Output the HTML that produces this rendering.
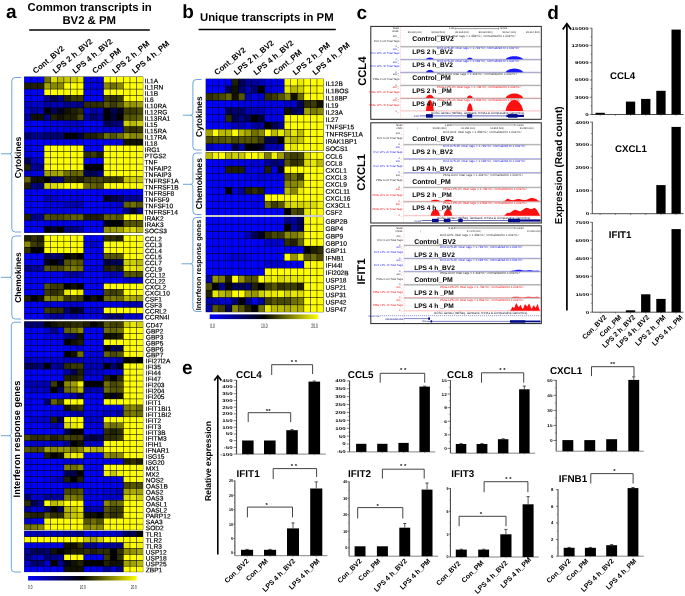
<!DOCTYPE html>
<html><head><meta charset="utf-8"><title>Figure</title><style>html,body{margin:0;padding:0;background:#fff}svg{display:block;filter:blur(0.4px)}</style></head><body>
<svg width="685" height="596" viewBox="0 0 685 596" text-rendering="geometricPrecision" font-family='"Liberation Sans", Arial, sans-serif'>
<rect x="0.00" y="0.00" width="685.00" height="596.00" fill="#fff"/>
<text x="5.90" y="18.40" font-size="19" font-weight="bold" text-anchor="start" fill="#000">a</text>
<text x="89.70" y="11.30" font-size="11.35" font-weight="bold" text-anchor="middle" fill="#000">Common transcripts in</text>
<text x="89.20" y="24.30" font-size="11.35" font-weight="bold" text-anchor="middle" fill="#000">BV2 &amp; PM</text>
<line x1="29.20" y1="30.00" x2="149.80" y2="30.00" stroke="#000" stroke-width="1.4"/>
<text x="35.62" y="74.00" font-size="8" font-weight="bold" text-anchor="start" fill="#000" transform="rotate(-40 35.62 74.00)">Cont_BV2</text>
<text x="55.45" y="74.00" font-size="8" font-weight="bold" text-anchor="start" fill="#000" transform="rotate(-40 55.45 74.00)">LPS  2 h_BV2</text>
<text x="75.28" y="74.00" font-size="8" font-weight="bold" text-anchor="start" fill="#000" transform="rotate(-40 75.28 74.00)">LPS 4 h_BV2</text>
<text x="95.12" y="74.00" font-size="8" font-weight="bold" text-anchor="start" fill="#000" transform="rotate(-40 95.12 74.00)">Cont_PM</text>
<text x="114.95" y="74.00" font-size="8" font-weight="bold" text-anchor="start" fill="#000" transform="rotate(-40 114.95 74.00)">LPS 2 h_PM</text>
<text x="134.78" y="74.00" font-size="8" font-weight="bold" text-anchor="start" fill="#000" transform="rotate(-40 134.78 74.00)">LPS 4 h_PM</text>
<rect x="24.20" y="76.60" width="119.00" height="156.20" fill="#000"/>
<rect x="24.45" y="76.85" width="6.11" height="5.75" fill="#0000ff"/>
<rect x="31.06" y="76.85" width="6.11" height="5.75" fill="#0000ff"/>
<rect x="37.67" y="76.85" width="6.11" height="5.75" fill="#0000ff"/>
<rect x="44.28" y="76.85" width="6.11" height="5.75" fill="#707000"/>
<rect x="50.89" y="76.85" width="6.11" height="5.75" fill="#dcdc00"/>
<rect x="57.51" y="76.85" width="6.11" height="5.75" fill="#b9b900"/>
<rect x="64.12" y="76.85" width="6.11" height="5.75" fill="#c5c500"/>
<rect x="70.73" y="76.85" width="6.11" height="5.75" fill="#d1d100"/>
<rect x="77.34" y="76.85" width="6.11" height="5.75" fill="#e8e800"/>
<rect x="83.95" y="76.85" width="6.11" height="5.75" fill="#0000e8"/>
<rect x="90.56" y="76.85" width="6.11" height="5.75" fill="#0000e8"/>
<rect x="97.17" y="76.85" width="6.11" height="5.75" fill="#0000e8"/>
<rect x="103.78" y="76.85" width="6.11" height="5.75" fill="#ffff00"/>
<rect x="110.39" y="76.85" width="6.11" height="5.75" fill="#ffff00"/>
<rect x="117.01" y="76.85" width="6.11" height="5.75" fill="#ffff00"/>
<rect x="123.62" y="76.85" width="6.11" height="5.75" fill="#ffff00"/>
<rect x="130.23" y="76.85" width="6.11" height="5.75" fill="#ffff00"/>
<rect x="136.84" y="76.85" width="6.11" height="5.75" fill="#ffff00"/>
<text x="144.60" y="83.30" font-size="6.6" text-anchor="start" fill="#000" transform="rotate(0.05 144.60 83.30)" stroke="#000" stroke-width="0.18">IL1A</text>
<rect x="24.45" y="83.10" width="6.11" height="5.75" fill="#202000"/>
<rect x="31.06" y="83.10" width="6.11" height="5.75" fill="#202000"/>
<rect x="37.67" y="83.10" width="6.11" height="5.75" fill="#202000"/>
<rect x="44.28" y="83.10" width="6.11" height="5.75" fill="#a1a100"/>
<rect x="50.89" y="83.10" width="6.11" height="5.75" fill="#898900"/>
<rect x="57.51" y="83.10" width="6.11" height="5.75" fill="#898900"/>
<rect x="64.12" y="83.10" width="6.11" height="5.75" fill="#ffff00"/>
<rect x="70.73" y="83.10" width="6.11" height="5.75" fill="#ffff00"/>
<rect x="77.34" y="83.10" width="6.11" height="5.75" fill="#ffff00"/>
<rect x="83.95" y="83.10" width="6.11" height="5.75" fill="#0000e8"/>
<rect x="90.56" y="83.10" width="6.11" height="5.75" fill="#0000e8"/>
<rect x="97.17" y="83.10" width="6.11" height="5.75" fill="#0000e8"/>
<rect x="103.78" y="83.10" width="6.11" height="5.75" fill="#898900"/>
<rect x="110.39" y="83.10" width="6.11" height="5.75" fill="#707000"/>
<rect x="117.01" y="83.10" width="6.11" height="5.75" fill="#898900"/>
<rect x="123.62" y="83.10" width="6.11" height="5.75" fill="#ffff00"/>
<rect x="130.23" y="83.10" width="6.11" height="5.75" fill="#ffff00"/>
<rect x="136.84" y="83.10" width="6.11" height="5.75" fill="#ffff00"/>
<text x="144.60" y="89.55" font-size="6.6" text-anchor="start" fill="#000" transform="rotate(0.05 144.60 89.55)" stroke="#000" stroke-width="0.18">IL1RN</text>
<rect x="24.45" y="89.35" width="6.11" height="5.75" fill="#0000ff"/>
<rect x="31.06" y="89.35" width="6.11" height="5.75" fill="#0000ff"/>
<rect x="37.67" y="89.35" width="6.11" height="5.75" fill="#0000ff"/>
<rect x="44.28" y="89.35" width="6.11" height="5.75" fill="#ffff00"/>
<rect x="50.89" y="89.35" width="6.11" height="5.75" fill="#ffff00"/>
<rect x="57.51" y="89.35" width="6.11" height="5.75" fill="#ffff00"/>
<rect x="64.12" y="89.35" width="6.11" height="5.75" fill="#ffff00"/>
<rect x="70.73" y="89.35" width="6.11" height="5.75" fill="#ffff00"/>
<rect x="77.34" y="89.35" width="6.11" height="5.75" fill="#ffff00"/>
<rect x="83.95" y="89.35" width="6.11" height="5.75" fill="#0000ff"/>
<rect x="90.56" y="89.35" width="6.11" height="5.75" fill="#0000ff"/>
<rect x="97.17" y="89.35" width="6.11" height="5.75" fill="#0000ff"/>
<rect x="103.78" y="89.35" width="6.11" height="5.75" fill="#ffff00"/>
<rect x="110.39" y="89.35" width="6.11" height="5.75" fill="#ffff00"/>
<rect x="117.01" y="89.35" width="6.11" height="5.75" fill="#ffff00"/>
<rect x="123.62" y="89.35" width="6.11" height="5.75" fill="#ffff00"/>
<rect x="130.23" y="89.35" width="6.11" height="5.75" fill="#ffff00"/>
<rect x="136.84" y="89.35" width="6.11" height="5.75" fill="#ffff00"/>
<text x="144.60" y="95.80" font-size="6.6" text-anchor="start" fill="#000" transform="rotate(0.05 144.60 95.80)" stroke="#000" stroke-width="0.18">IL1B</text>
<rect x="24.45" y="95.59" width="6.11" height="5.75" fill="#0000ff"/>
<rect x="31.06" y="95.59" width="6.11" height="5.75" fill="#0000ff"/>
<rect x="37.67" y="95.59" width="6.11" height="5.75" fill="#0000ff"/>
<rect x="44.28" y="95.59" width="6.11" height="5.75" fill="#000089"/>
<rect x="50.89" y="95.59" width="6.11" height="5.75" fill="#000056"/>
<rect x="57.51" y="95.59" width="6.11" height="5.75" fill="#000089"/>
<rect x="64.12" y="95.59" width="6.11" height="5.75" fill="#202000"/>
<rect x="70.73" y="95.59" width="6.11" height="5.75" fill="#3c3c00"/>
<rect x="77.34" y="95.59" width="6.11" height="5.75" fill="#3c3c00"/>
<rect x="83.95" y="95.59" width="6.11" height="5.75" fill="#0000ff"/>
<rect x="90.56" y="95.59" width="6.11" height="5.75" fill="#0000ff"/>
<rect x="97.17" y="95.59" width="6.11" height="5.75" fill="#0000ff"/>
<rect x="103.78" y="95.59" width="6.11" height="5.75" fill="#3c3c00"/>
<rect x="110.39" y="95.59" width="6.11" height="5.75" fill="#2e2e00"/>
<rect x="117.01" y="95.59" width="6.11" height="5.75" fill="#3c3c00"/>
<rect x="123.62" y="95.59" width="6.11" height="5.75" fill="#ffff00"/>
<rect x="130.23" y="95.59" width="6.11" height="5.75" fill="#ffff00"/>
<rect x="136.84" y="95.59" width="6.11" height="5.75" fill="#ffff00"/>
<text x="144.60" y="102.04" font-size="6.6" text-anchor="start" fill="#000" transform="rotate(0.05 144.60 102.04)" stroke="#000" stroke-width="0.18">IL6</text>
<rect x="24.45" y="101.84" width="6.11" height="5.75" fill="#0000d1"/>
<rect x="31.06" y="101.84" width="6.11" height="5.75" fill="#0000d1"/>
<rect x="37.67" y="101.84" width="6.11" height="5.75" fill="#0000d1"/>
<rect x="44.28" y="101.84" width="6.11" height="5.75" fill="#0000a1"/>
<rect x="50.89" y="101.84" width="6.11" height="5.75" fill="#0000b9"/>
<rect x="57.51" y="101.84" width="6.11" height="5.75" fill="#0000b9"/>
<rect x="64.12" y="101.84" width="6.11" height="5.75" fill="#000089"/>
<rect x="70.73" y="101.84" width="6.11" height="5.75" fill="#0000a1"/>
<rect x="77.34" y="101.84" width="6.11" height="5.75" fill="#000089"/>
<rect x="83.95" y="101.84" width="6.11" height="5.75" fill="#2e2e00"/>
<rect x="90.56" y="101.84" width="6.11" height="5.75" fill="#2e2e00"/>
<rect x="97.17" y="101.84" width="6.11" height="5.75" fill="#2e2e00"/>
<rect x="103.78" y="101.84" width="6.11" height="5.75" fill="#565600"/>
<rect x="110.39" y="101.84" width="6.11" height="5.75" fill="#3c3c00"/>
<rect x="117.01" y="101.84" width="6.11" height="5.75" fill="#565600"/>
<rect x="123.62" y="101.84" width="6.11" height="5.75" fill="#a1a100"/>
<rect x="130.23" y="101.84" width="6.11" height="5.75" fill="#959500"/>
<rect x="136.84" y="101.84" width="6.11" height="5.75" fill="#a1a100"/>
<text x="144.60" y="108.29" font-size="6.6" text-anchor="start" fill="#000" transform="rotate(0.05 144.60 108.29)" stroke="#000" stroke-width="0.18">IL10RA</text>
<rect x="24.45" y="108.09" width="6.11" height="5.75" fill="#0000d1"/>
<rect x="31.06" y="108.09" width="6.11" height="5.75" fill="#0000a1"/>
<rect x="37.67" y="108.09" width="6.11" height="5.75" fill="#0000b9"/>
<rect x="44.28" y="108.09" width="6.11" height="5.75" fill="#000000"/>
<rect x="50.89" y="108.09" width="6.11" height="5.75" fill="#000056"/>
<rect x="57.51" y="108.09" width="6.11" height="5.75" fill="#000020"/>
<rect x="64.12" y="108.09" width="6.11" height="5.75" fill="#111100"/>
<rect x="70.73" y="108.09" width="6.11" height="5.75" fill="#202000"/>
<rect x="77.34" y="108.09" width="6.11" height="5.75" fill="#2e2e00"/>
<rect x="83.95" y="108.09" width="6.11" height="5.75" fill="#0000d1"/>
<rect x="90.56" y="108.09" width="6.11" height="5.75" fill="#0000a1"/>
<rect x="97.17" y="108.09" width="6.11" height="5.75" fill="#0000b9"/>
<rect x="103.78" y="108.09" width="6.11" height="5.75" fill="#000000"/>
<rect x="110.39" y="108.09" width="6.11" height="5.75" fill="#000056"/>
<rect x="117.01" y="108.09" width="6.11" height="5.75" fill="#000020"/>
<rect x="123.62" y="108.09" width="6.11" height="5.75" fill="#3c3c00"/>
<rect x="130.23" y="108.09" width="6.11" height="5.75" fill="#3c3c00"/>
<rect x="136.84" y="108.09" width="6.11" height="5.75" fill="#494900"/>
<text x="144.60" y="114.54" font-size="6.6" text-anchor="start" fill="#000" transform="rotate(0.05 144.60 114.54)" stroke="#000" stroke-width="0.18">IL12RG</text>
<rect x="24.45" y="114.34" width="6.11" height="5.75" fill="#0000a1"/>
<rect x="31.06" y="114.34" width="6.11" height="5.75" fill="#111100"/>
<rect x="37.67" y="114.34" width="6.11" height="5.75" fill="#111100"/>
<rect x="44.28" y="114.34" width="6.11" height="5.75" fill="#000089"/>
<rect x="50.89" y="114.34" width="6.11" height="5.75" fill="#202000"/>
<rect x="57.51" y="114.34" width="6.11" height="5.75" fill="#111100"/>
<rect x="64.12" y="114.34" width="6.11" height="5.75" fill="#202000"/>
<rect x="70.73" y="114.34" width="6.11" height="5.75" fill="#202000"/>
<rect x="77.34" y="114.34" width="6.11" height="5.75" fill="#494900"/>
<rect x="83.95" y="114.34" width="6.11" height="5.75" fill="#0000a1"/>
<rect x="90.56" y="114.34" width="6.11" height="5.75" fill="#000070"/>
<rect x="97.17" y="114.34" width="6.11" height="5.75" fill="#0000a1"/>
<rect x="103.78" y="114.34" width="6.11" height="5.75" fill="#000000"/>
<rect x="110.39" y="114.34" width="6.11" height="5.75" fill="#00003c"/>
<rect x="117.01" y="114.34" width="6.11" height="5.75" fill="#000000"/>
<rect x="123.62" y="114.34" width="6.11" height="5.75" fill="#565600"/>
<rect x="130.23" y="114.34" width="6.11" height="5.75" fill="#565600"/>
<rect x="136.84" y="114.34" width="6.11" height="5.75" fill="#636300"/>
<text x="144.60" y="120.79" font-size="6.6" text-anchor="start" fill="#000" transform="rotate(0.05 144.60 120.79)" stroke="#000" stroke-width="0.18">IL13RA1</text>
<rect x="24.45" y="120.59" width="6.11" height="5.75" fill="#0000ff"/>
<rect x="31.06" y="120.59" width="6.11" height="5.75" fill="#0000ff"/>
<rect x="37.67" y="120.59" width="6.11" height="5.75" fill="#0000ff"/>
<rect x="44.28" y="120.59" width="6.11" height="5.75" fill="#0000e8"/>
<rect x="50.89" y="120.59" width="6.11" height="5.75" fill="#0000e8"/>
<rect x="57.51" y="120.59" width="6.11" height="5.75" fill="#0000e8"/>
<rect x="64.12" y="120.59" width="6.11" height="5.75" fill="#0000d1"/>
<rect x="70.73" y="120.59" width="6.11" height="5.75" fill="#0000d1"/>
<rect x="77.34" y="120.59" width="6.11" height="5.75" fill="#0000d1"/>
<rect x="83.95" y="120.59" width="6.11" height="5.75" fill="#0000ff"/>
<rect x="90.56" y="120.59" width="6.11" height="5.75" fill="#0000ff"/>
<rect x="97.17" y="120.59" width="6.11" height="5.75" fill="#0000ff"/>
<rect x="103.78" y="120.59" width="6.11" height="5.75" fill="#000056"/>
<rect x="110.39" y="120.59" width="6.11" height="5.75" fill="#000070"/>
<rect x="117.01" y="120.59" width="6.11" height="5.75" fill="#000089"/>
<rect x="123.62" y="120.59" width="6.11" height="5.75" fill="#d1d100"/>
<rect x="130.23" y="120.59" width="6.11" height="5.75" fill="#b9b900"/>
<rect x="136.84" y="120.59" width="6.11" height="5.75" fill="#d1d100"/>
<text x="144.60" y="127.04" font-size="6.6" text-anchor="start" fill="#000" transform="rotate(0.05 144.60 127.04)" stroke="#000" stroke-width="0.18">IL15</text>
<rect x="24.45" y="126.83" width="6.11" height="5.75" fill="#0000ff"/>
<rect x="31.06" y="126.83" width="6.11" height="5.75" fill="#0000ff"/>
<rect x="37.67" y="126.83" width="6.11" height="5.75" fill="#0000ff"/>
<rect x="44.28" y="126.83" width="6.11" height="5.75" fill="#0000e8"/>
<rect x="50.89" y="126.83" width="6.11" height="5.75" fill="#0000e8"/>
<rect x="57.51" y="126.83" width="6.11" height="5.75" fill="#0000e8"/>
<rect x="64.12" y="126.83" width="6.11" height="5.75" fill="#0000dc"/>
<rect x="70.73" y="126.83" width="6.11" height="5.75" fill="#0000dc"/>
<rect x="77.34" y="126.83" width="6.11" height="5.75" fill="#0000dc"/>
<rect x="83.95" y="126.83" width="6.11" height="5.75" fill="#0000e8"/>
<rect x="90.56" y="126.83" width="6.11" height="5.75" fill="#0000e8"/>
<rect x="97.17" y="126.83" width="6.11" height="5.75" fill="#0000e8"/>
<rect x="103.78" y="126.83" width="6.11" height="5.75" fill="#0000d1"/>
<rect x="110.39" y="126.83" width="6.11" height="5.75" fill="#0000d1"/>
<rect x="117.01" y="126.83" width="6.11" height="5.75" fill="#0000d1"/>
<rect x="123.62" y="126.83" width="6.11" height="5.75" fill="#3c3c00"/>
<rect x="130.23" y="126.83" width="6.11" height="5.75" fill="#2e2e00"/>
<rect x="136.84" y="126.83" width="6.11" height="5.75" fill="#3c3c00"/>
<text x="144.60" y="133.28" font-size="6.6" text-anchor="start" fill="#000" transform="rotate(0.05 144.60 133.28)" stroke="#000" stroke-width="0.18">IL15RA</text>
<rect x="24.45" y="133.08" width="6.11" height="5.75" fill="#000070"/>
<rect x="31.06" y="133.08" width="6.11" height="5.75" fill="#000089"/>
<rect x="37.67" y="133.08" width="6.11" height="5.75" fill="#000089"/>
<rect x="44.28" y="133.08" width="6.11" height="5.75" fill="#000070"/>
<rect x="50.89" y="133.08" width="6.11" height="5.75" fill="#000070"/>
<rect x="57.51" y="133.08" width="6.11" height="5.75" fill="#000070"/>
<rect x="64.12" y="133.08" width="6.11" height="5.75" fill="#000000"/>
<rect x="70.73" y="133.08" width="6.11" height="5.75" fill="#000000"/>
<rect x="77.34" y="133.08" width="6.11" height="5.75" fill="#00003c"/>
<rect x="83.95" y="133.08" width="6.11" height="5.75" fill="#202000"/>
<rect x="90.56" y="133.08" width="6.11" height="5.75" fill="#202000"/>
<rect x="97.17" y="133.08" width="6.11" height="5.75" fill="#2e2e00"/>
<rect x="103.78" y="133.08" width="6.11" height="5.75" fill="#707000"/>
<rect x="110.39" y="133.08" width="6.11" height="5.75" fill="#565600"/>
<rect x="117.01" y="133.08" width="6.11" height="5.75" fill="#707000"/>
<rect x="123.62" y="133.08" width="6.11" height="5.75" fill="#a1a100"/>
<rect x="130.23" y="133.08" width="6.11" height="5.75" fill="#898900"/>
<rect x="136.84" y="133.08" width="6.11" height="5.75" fill="#898900"/>
<text x="144.60" y="139.53" font-size="6.6" text-anchor="start" fill="#000" transform="rotate(0.05 144.60 139.53)" stroke="#000" stroke-width="0.18">IL17RA</text>
<rect x="24.45" y="139.33" width="6.11" height="5.75" fill="#0000ff"/>
<rect x="31.06" y="139.33" width="6.11" height="5.75" fill="#0000ff"/>
<rect x="37.67" y="139.33" width="6.11" height="5.75" fill="#0000ff"/>
<rect x="44.28" y="139.33" width="6.11" height="5.75" fill="#0000f3"/>
<rect x="50.89" y="139.33" width="6.11" height="5.75" fill="#0000f3"/>
<rect x="57.51" y="139.33" width="6.11" height="5.75" fill="#0000f3"/>
<rect x="64.12" y="139.33" width="6.11" height="5.75" fill="#0000e8"/>
<rect x="70.73" y="139.33" width="6.11" height="5.75" fill="#0000e8"/>
<rect x="77.34" y="139.33" width="6.11" height="5.75" fill="#0000e8"/>
<rect x="83.95" y="139.33" width="6.11" height="5.75" fill="#0000ff"/>
<rect x="90.56" y="139.33" width="6.11" height="5.75" fill="#0000ff"/>
<rect x="97.17" y="139.33" width="6.11" height="5.75" fill="#0000ff"/>
<rect x="103.78" y="139.33" width="6.11" height="5.75" fill="#0000e8"/>
<rect x="110.39" y="139.33" width="6.11" height="5.75" fill="#0000e8"/>
<rect x="117.01" y="139.33" width="6.11" height="5.75" fill="#0000e8"/>
<rect x="123.62" y="139.33" width="6.11" height="5.75" fill="#111100"/>
<rect x="130.23" y="139.33" width="6.11" height="5.75" fill="#111100"/>
<rect x="136.84" y="139.33" width="6.11" height="5.75" fill="#111100"/>
<text x="144.60" y="145.78" font-size="6.6" text-anchor="start" fill="#000" transform="rotate(0.05 144.60 145.78)" stroke="#000" stroke-width="0.18">IL18</text>
<rect x="24.45" y="145.58" width="6.11" height="5.75" fill="#0000e8"/>
<rect x="31.06" y="145.58" width="6.11" height="5.75" fill="#0000ff"/>
<rect x="37.67" y="145.58" width="6.11" height="5.75" fill="#0000ff"/>
<rect x="44.28" y="145.58" width="6.11" height="5.75" fill="#ffff00"/>
<rect x="50.89" y="145.58" width="6.11" height="5.75" fill="#ffff00"/>
<rect x="57.51" y="145.58" width="6.11" height="5.75" fill="#ffff00"/>
<rect x="64.12" y="145.58" width="6.11" height="5.75" fill="#ffff00"/>
<rect x="70.73" y="145.58" width="6.11" height="5.75" fill="#ffff00"/>
<rect x="77.34" y="145.58" width="6.11" height="5.75" fill="#ffff00"/>
<rect x="83.95" y="145.58" width="6.11" height="5.75" fill="#0000ff"/>
<rect x="90.56" y="145.58" width="6.11" height="5.75" fill="#0000ff"/>
<rect x="97.17" y="145.58" width="6.11" height="5.75" fill="#0000ff"/>
<rect x="103.78" y="145.58" width="6.11" height="5.75" fill="#ffff00"/>
<rect x="110.39" y="145.58" width="6.11" height="5.75" fill="#ffff00"/>
<rect x="117.01" y="145.58" width="6.11" height="5.75" fill="#ffff00"/>
<rect x="123.62" y="145.58" width="6.11" height="5.75" fill="#ffff00"/>
<rect x="130.23" y="145.58" width="6.11" height="5.75" fill="#ffff00"/>
<rect x="136.84" y="145.58" width="6.11" height="5.75" fill="#ffff00"/>
<text x="144.60" y="152.03" font-size="6.6" text-anchor="start" fill="#000" transform="rotate(0.05 144.60 152.03)" stroke="#000" stroke-width="0.18">IRG1</text>
<rect x="24.45" y="151.83" width="6.11" height="5.75" fill="#0000e8"/>
<rect x="31.06" y="151.83" width="6.11" height="5.75" fill="#0000ff"/>
<rect x="37.67" y="151.83" width="6.11" height="5.75" fill="#0000ff"/>
<rect x="44.28" y="151.83" width="6.11" height="5.75" fill="#ffff00"/>
<rect x="50.89" y="151.83" width="6.11" height="5.75" fill="#ffff00"/>
<rect x="57.51" y="151.83" width="6.11" height="5.75" fill="#ffff00"/>
<rect x="64.12" y="151.83" width="6.11" height="5.75" fill="#ffff00"/>
<rect x="70.73" y="151.83" width="6.11" height="5.75" fill="#ffff00"/>
<rect x="77.34" y="151.83" width="6.11" height="5.75" fill="#ffff00"/>
<rect x="83.95" y="151.83" width="6.11" height="5.75" fill="#2e2e00"/>
<rect x="90.56" y="151.83" width="6.11" height="5.75" fill="#3c3c00"/>
<rect x="97.17" y="151.83" width="6.11" height="5.75" fill="#202000"/>
<rect x="103.78" y="151.83" width="6.11" height="5.75" fill="#ffff00"/>
<rect x="110.39" y="151.83" width="6.11" height="5.75" fill="#ffff00"/>
<rect x="117.01" y="151.83" width="6.11" height="5.75" fill="#ffff00"/>
<rect x="123.62" y="151.83" width="6.11" height="5.75" fill="#ffff00"/>
<rect x="130.23" y="151.83" width="6.11" height="5.75" fill="#ffff00"/>
<rect x="136.84" y="151.83" width="6.11" height="5.75" fill="#ffff00"/>
<text x="144.60" y="158.28" font-size="6.6" text-anchor="start" fill="#000" transform="rotate(0.05 144.60 158.28)" stroke="#000" stroke-width="0.18">PTGS2</text>
<rect x="24.45" y="158.07" width="6.11" height="5.75" fill="#000056"/>
<rect x="31.06" y="158.07" width="6.11" height="5.75" fill="#0000b9"/>
<rect x="37.67" y="158.07" width="6.11" height="5.75" fill="#0000d1"/>
<rect x="44.28" y="158.07" width="6.11" height="5.75" fill="#ffff00"/>
<rect x="50.89" y="158.07" width="6.11" height="5.75" fill="#ffff00"/>
<rect x="57.51" y="158.07" width="6.11" height="5.75" fill="#ffff00"/>
<rect x="64.12" y="158.07" width="6.11" height="5.75" fill="#ffff00"/>
<rect x="70.73" y="158.07" width="6.11" height="5.75" fill="#ffff00"/>
<rect x="77.34" y="158.07" width="6.11" height="5.75" fill="#ffff00"/>
<rect x="83.95" y="158.07" width="6.11" height="5.75" fill="#0000ff"/>
<rect x="90.56" y="158.07" width="6.11" height="5.75" fill="#0000ff"/>
<rect x="97.17" y="158.07" width="6.11" height="5.75" fill="#0000ff"/>
<rect x="103.78" y="158.07" width="6.11" height="5.75" fill="#ffff00"/>
<rect x="110.39" y="158.07" width="6.11" height="5.75" fill="#ffff00"/>
<rect x="117.01" y="158.07" width="6.11" height="5.75" fill="#ffff00"/>
<rect x="123.62" y="158.07" width="6.11" height="5.75" fill="#ffff00"/>
<rect x="130.23" y="158.07" width="6.11" height="5.75" fill="#ffff00"/>
<rect x="136.84" y="158.07" width="6.11" height="5.75" fill="#ffff00"/>
<text x="144.60" y="164.52" font-size="6.6" text-anchor="start" fill="#000" transform="rotate(0.05 144.60 164.52)" stroke="#000" stroke-width="0.18">TNF</text>
<rect x="24.45" y="164.32" width="6.11" height="5.75" fill="#202000"/>
<rect x="31.06" y="164.32" width="6.11" height="5.75" fill="#0000a1"/>
<rect x="37.67" y="164.32" width="6.11" height="5.75" fill="#000089"/>
<rect x="44.28" y="164.32" width="6.11" height="5.75" fill="#ffff00"/>
<rect x="50.89" y="164.32" width="6.11" height="5.75" fill="#ffff00"/>
<rect x="57.51" y="164.32" width="6.11" height="5.75" fill="#ffff00"/>
<rect x="64.12" y="164.32" width="6.11" height="5.75" fill="#ffff00"/>
<rect x="70.73" y="164.32" width="6.11" height="5.75" fill="#ffff00"/>
<rect x="77.34" y="164.32" width="6.11" height="5.75" fill="#ffff00"/>
<rect x="83.95" y="164.32" width="6.11" height="5.75" fill="#000000"/>
<rect x="90.56" y="164.32" width="6.11" height="5.75" fill="#000011"/>
<rect x="97.17" y="164.32" width="6.11" height="5.75" fill="#000000"/>
<rect x="103.78" y="164.32" width="6.11" height="5.75" fill="#ffff00"/>
<rect x="110.39" y="164.32" width="6.11" height="5.75" fill="#ffff00"/>
<rect x="117.01" y="164.32" width="6.11" height="5.75" fill="#ffff00"/>
<rect x="123.62" y="164.32" width="6.11" height="5.75" fill="#ffff00"/>
<rect x="130.23" y="164.32" width="6.11" height="5.75" fill="#ffff00"/>
<rect x="136.84" y="164.32" width="6.11" height="5.75" fill="#ffff00"/>
<text x="144.60" y="170.77" font-size="6.6" text-anchor="start" fill="#000" transform="rotate(0.05 144.60 170.77)" stroke="#000" stroke-width="0.18">TNFAIP2</text>
<rect x="24.45" y="170.57" width="6.11" height="5.75" fill="#0000d1"/>
<rect x="31.06" y="170.57" width="6.11" height="5.75" fill="#0000e8"/>
<rect x="37.67" y="170.57" width="6.11" height="5.75" fill="#0000e8"/>
<rect x="44.28" y="170.57" width="6.11" height="5.75" fill="#a1a100"/>
<rect x="50.89" y="170.57" width="6.11" height="5.75" fill="#a1a100"/>
<rect x="57.51" y="170.57" width="6.11" height="5.75" fill="#adad00"/>
<rect x="64.12" y="170.57" width="6.11" height="5.75" fill="#707000"/>
<rect x="70.73" y="170.57" width="6.11" height="5.75" fill="#636300"/>
<rect x="77.34" y="170.57" width="6.11" height="5.75" fill="#707000"/>
<rect x="83.95" y="170.57" width="6.11" height="5.75" fill="#000056"/>
<rect x="90.56" y="170.57" width="6.11" height="5.75" fill="#000056"/>
<rect x="97.17" y="170.57" width="6.11" height="5.75" fill="#000089"/>
<rect x="103.78" y="170.57" width="6.11" height="5.75" fill="#ffff00"/>
<rect x="110.39" y="170.57" width="6.11" height="5.75" fill="#ffff00"/>
<rect x="117.01" y="170.57" width="6.11" height="5.75" fill="#ffff00"/>
<rect x="123.62" y="170.57" width="6.11" height="5.75" fill="#ffff00"/>
<rect x="130.23" y="170.57" width="6.11" height="5.75" fill="#ffff00"/>
<rect x="136.84" y="170.57" width="6.11" height="5.75" fill="#ffff00"/>
<text x="144.60" y="177.02" font-size="6.6" text-anchor="start" fill="#000" transform="rotate(0.05 144.60 177.02)" stroke="#000" stroke-width="0.18">TNFAIP3</text>
<rect x="24.45" y="176.82" width="6.11" height="5.75" fill="#636300"/>
<rect x="31.06" y="176.82" width="6.11" height="5.75" fill="#111100"/>
<rect x="37.67" y="176.82" width="6.11" height="5.75" fill="#111100"/>
<rect x="44.28" y="176.82" width="6.11" height="5.75" fill="#000000"/>
<rect x="50.89" y="176.82" width="6.11" height="5.75" fill="#000070"/>
<rect x="57.51" y="176.82" width="6.11" height="5.75" fill="#000070"/>
<rect x="64.12" y="176.82" width="6.11" height="5.75" fill="#2e2e00"/>
<rect x="70.73" y="176.82" width="6.11" height="5.75" fill="#2e2e00"/>
<rect x="77.34" y="176.82" width="6.11" height="5.75" fill="#202000"/>
<rect x="83.95" y="176.82" width="6.11" height="5.75" fill="#3c3c00"/>
<rect x="90.56" y="176.82" width="6.11" height="5.75" fill="#494900"/>
<rect x="97.17" y="176.82" width="6.11" height="5.75" fill="#494900"/>
<rect x="103.78" y="176.82" width="6.11" height="5.75" fill="#3c3c00"/>
<rect x="110.39" y="176.82" width="6.11" height="5.75" fill="#3c3c00"/>
<rect x="117.01" y="176.82" width="6.11" height="5.75" fill="#3c3c00"/>
<rect x="123.62" y="176.82" width="6.11" height="5.75" fill="#c5c500"/>
<rect x="130.23" y="176.82" width="6.11" height="5.75" fill="#d1d100"/>
<rect x="136.84" y="176.82" width="6.11" height="5.75" fill="#c5c500"/>
<text x="144.60" y="183.27" font-size="6.6" text-anchor="start" fill="#000" transform="rotate(0.05 144.60 183.27)" stroke="#000" stroke-width="0.18">TNFRSF1A</text>
<rect x="24.45" y="183.07" width="6.11" height="5.75" fill="#202000"/>
<rect x="31.06" y="183.07" width="6.11" height="5.75" fill="#000089"/>
<rect x="37.67" y="183.07" width="6.11" height="5.75" fill="#000070"/>
<rect x="44.28" y="183.07" width="6.11" height="5.75" fill="#d1d100"/>
<rect x="50.89" y="183.07" width="6.11" height="5.75" fill="#dcdc00"/>
<rect x="57.51" y="183.07" width="6.11" height="5.75" fill="#e8e800"/>
<rect x="64.12" y="183.07" width="6.11" height="5.75" fill="#ffff00"/>
<rect x="70.73" y="183.07" width="6.11" height="5.75" fill="#ffff00"/>
<rect x="77.34" y="183.07" width="6.11" height="5.75" fill="#ffff00"/>
<rect x="83.95" y="183.07" width="6.11" height="5.75" fill="#707000"/>
<rect x="90.56" y="183.07" width="6.11" height="5.75" fill="#636300"/>
<rect x="97.17" y="183.07" width="6.11" height="5.75" fill="#565600"/>
<rect x="103.78" y="183.07" width="6.11" height="5.75" fill="#ffff00"/>
<rect x="110.39" y="183.07" width="6.11" height="5.75" fill="#ffff00"/>
<rect x="117.01" y="183.07" width="6.11" height="5.75" fill="#ffff00"/>
<rect x="123.62" y="183.07" width="6.11" height="5.75" fill="#ffff00"/>
<rect x="130.23" y="183.07" width="6.11" height="5.75" fill="#ffff00"/>
<rect x="136.84" y="183.07" width="6.11" height="5.75" fill="#ffff00"/>
<text x="144.60" y="189.52" font-size="6.6" text-anchor="start" fill="#000" transform="rotate(0.05 144.60 189.52)" stroke="#000" stroke-width="0.18">TNFRSF1B</text>
<rect x="24.45" y="189.31" width="6.11" height="5.75" fill="#0000ff"/>
<rect x="31.06" y="189.31" width="6.11" height="5.75" fill="#0000ff"/>
<rect x="37.67" y="189.31" width="6.11" height="5.75" fill="#0000ff"/>
<rect x="44.28" y="189.31" width="6.11" height="5.75" fill="#0000ff"/>
<rect x="50.89" y="189.31" width="6.11" height="5.75" fill="#0000ff"/>
<rect x="57.51" y="189.31" width="6.11" height="5.75" fill="#0000ff"/>
<rect x="64.12" y="189.31" width="6.11" height="5.75" fill="#0000ff"/>
<rect x="70.73" y="189.31" width="6.11" height="5.75" fill="#0000ff"/>
<rect x="77.34" y="189.31" width="6.11" height="5.75" fill="#0000ff"/>
<rect x="83.95" y="189.31" width="6.11" height="5.75" fill="#0000ff"/>
<rect x="90.56" y="189.31" width="6.11" height="5.75" fill="#0000ff"/>
<rect x="97.17" y="189.31" width="6.11" height="5.75" fill="#0000ff"/>
<rect x="103.78" y="189.31" width="6.11" height="5.75" fill="#0000ff"/>
<rect x="110.39" y="189.31" width="6.11" height="5.75" fill="#0000ff"/>
<rect x="117.01" y="189.31" width="6.11" height="5.75" fill="#0000ff"/>
<rect x="123.62" y="189.31" width="6.11" height="5.75" fill="#0000ff"/>
<rect x="130.23" y="189.31" width="6.11" height="5.75" fill="#0000ff"/>
<rect x="136.84" y="189.31" width="6.11" height="5.75" fill="#0000ff"/>
<text x="144.60" y="195.76" font-size="6.6" text-anchor="start" fill="#000" transform="rotate(0.05 144.60 195.76)" stroke="#000" stroke-width="0.18">TNFRSF8</text>
<rect x="24.45" y="195.56" width="6.11" height="5.75" fill="#0000ff"/>
<rect x="31.06" y="195.56" width="6.11" height="5.75" fill="#0000ff"/>
<rect x="37.67" y="195.56" width="6.11" height="5.75" fill="#0000ff"/>
<rect x="44.28" y="195.56" width="6.11" height="5.75" fill="#0000b9"/>
<rect x="50.89" y="195.56" width="6.11" height="5.75" fill="#0000d1"/>
<rect x="57.51" y="195.56" width="6.11" height="5.75" fill="#0000e8"/>
<rect x="64.12" y="195.56" width="6.11" height="5.75" fill="#0000e8"/>
<rect x="70.73" y="195.56" width="6.11" height="5.75" fill="#0000e8"/>
<rect x="77.34" y="195.56" width="6.11" height="5.75" fill="#0000dc"/>
<rect x="83.95" y="195.56" width="6.11" height="5.75" fill="#0000ff"/>
<rect x="90.56" y="195.56" width="6.11" height="5.75" fill="#0000ff"/>
<rect x="97.17" y="195.56" width="6.11" height="5.75" fill="#0000ff"/>
<rect x="103.78" y="195.56" width="6.11" height="5.75" fill="#000020"/>
<rect x="110.39" y="195.56" width="6.11" height="5.75" fill="#000049"/>
<rect x="117.01" y="195.56" width="6.11" height="5.75" fill="#000063"/>
<rect x="123.62" y="195.56" width="6.11" height="5.75" fill="#0000a1"/>
<rect x="130.23" y="195.56" width="6.11" height="5.75" fill="#000095"/>
<rect x="136.84" y="195.56" width="6.11" height="5.75" fill="#0000a1"/>
<text x="144.60" y="202.01" font-size="6.6" text-anchor="start" fill="#000" transform="rotate(0.05 144.60 202.01)" stroke="#000" stroke-width="0.18">TNFSF9</text>
<rect x="24.45" y="201.81" width="6.11" height="5.75" fill="#0000ff"/>
<rect x="31.06" y="201.81" width="6.11" height="5.75" fill="#0000ff"/>
<rect x="37.67" y="201.81" width="6.11" height="5.75" fill="#0000ff"/>
<rect x="44.28" y="201.81" width="6.11" height="5.75" fill="#0000e8"/>
<rect x="50.89" y="201.81" width="6.11" height="5.75" fill="#0000e8"/>
<rect x="57.51" y="201.81" width="6.11" height="5.75" fill="#0000e8"/>
<rect x="64.12" y="201.81" width="6.11" height="5.75" fill="#0000c5"/>
<rect x="70.73" y="201.81" width="6.11" height="5.75" fill="#0000b9"/>
<rect x="77.34" y="201.81" width="6.11" height="5.75" fill="#0000b9"/>
<rect x="83.95" y="201.81" width="6.11" height="5.75" fill="#0000ff"/>
<rect x="90.56" y="201.81" width="6.11" height="5.75" fill="#0000ff"/>
<rect x="97.17" y="201.81" width="6.11" height="5.75" fill="#0000ff"/>
<rect x="103.78" y="201.81" width="6.11" height="5.75" fill="#0000e8"/>
<rect x="110.39" y="201.81" width="6.11" height="5.75" fill="#0000e8"/>
<rect x="117.01" y="201.81" width="6.11" height="5.75" fill="#0000d1"/>
<rect x="123.62" y="201.81" width="6.11" height="5.75" fill="#636300"/>
<rect x="130.23" y="201.81" width="6.11" height="5.75" fill="#707000"/>
<rect x="136.84" y="201.81" width="6.11" height="5.75" fill="#565600"/>
<text x="144.60" y="208.26" font-size="6.6" text-anchor="start" fill="#000" transform="rotate(0.05 144.60 208.26)" stroke="#000" stroke-width="0.18">TNFSF10</text>
<rect x="24.45" y="208.06" width="6.11" height="5.75" fill="#0000ff"/>
<rect x="31.06" y="208.06" width="6.11" height="5.75" fill="#0000ff"/>
<rect x="37.67" y="208.06" width="6.11" height="5.75" fill="#0000ff"/>
<rect x="44.28" y="208.06" width="6.11" height="5.75" fill="#0000e8"/>
<rect x="50.89" y="208.06" width="6.11" height="5.75" fill="#0000e8"/>
<rect x="57.51" y="208.06" width="6.11" height="5.75" fill="#0000e8"/>
<rect x="64.12" y="208.06" width="6.11" height="5.75" fill="#0000e8"/>
<rect x="70.73" y="208.06" width="6.11" height="5.75" fill="#0000e8"/>
<rect x="77.34" y="208.06" width="6.11" height="5.75" fill="#0000e8"/>
<rect x="83.95" y="208.06" width="6.11" height="5.75" fill="#0000ff"/>
<rect x="90.56" y="208.06" width="6.11" height="5.75" fill="#0000ff"/>
<rect x="97.17" y="208.06" width="6.11" height="5.75" fill="#0000ff"/>
<rect x="103.78" y="208.06" width="6.11" height="5.75" fill="#0000f3"/>
<rect x="110.39" y="208.06" width="6.11" height="5.75" fill="#0000f3"/>
<rect x="117.01" y="208.06" width="6.11" height="5.75" fill="#0000f3"/>
<rect x="123.62" y="208.06" width="6.11" height="5.75" fill="#000089"/>
<rect x="130.23" y="208.06" width="6.11" height="5.75" fill="#000020"/>
<rect x="136.84" y="208.06" width="6.11" height="5.75" fill="#000089"/>
<text x="144.60" y="214.51" font-size="6.6" text-anchor="start" fill="#000" transform="rotate(0.05 144.60 214.51)" stroke="#000" stroke-width="0.18">TNFRSF14</text>
<rect x="24.45" y="214.31" width="6.11" height="5.75" fill="#202000"/>
<rect x="31.06" y="214.31" width="6.11" height="5.75" fill="#000089"/>
<rect x="37.67" y="214.31" width="6.11" height="5.75" fill="#000089"/>
<rect x="44.28" y="214.31" width="6.11" height="5.75" fill="#565600"/>
<rect x="50.89" y="214.31" width="6.11" height="5.75" fill="#494900"/>
<rect x="57.51" y="214.31" width="6.11" height="5.75" fill="#494900"/>
<rect x="64.12" y="214.31" width="6.11" height="5.75" fill="#565600"/>
<rect x="70.73" y="214.31" width="6.11" height="5.75" fill="#636300"/>
<rect x="77.34" y="214.31" width="6.11" height="5.75" fill="#636300"/>
<rect x="83.95" y="214.31" width="6.11" height="5.75" fill="#202000"/>
<rect x="90.56" y="214.31" width="6.11" height="5.75" fill="#202000"/>
<rect x="97.17" y="214.31" width="6.11" height="5.75" fill="#202000"/>
<rect x="103.78" y="214.31" width="6.11" height="5.75" fill="#636300"/>
<rect x="110.39" y="214.31" width="6.11" height="5.75" fill="#636300"/>
<rect x="117.01" y="214.31" width="6.11" height="5.75" fill="#565600"/>
<rect x="123.62" y="214.31" width="6.11" height="5.75" fill="#ffff00"/>
<rect x="130.23" y="214.31" width="6.11" height="5.75" fill="#ffff00"/>
<rect x="136.84" y="214.31" width="6.11" height="5.75" fill="#ffff00"/>
<text x="144.60" y="220.76" font-size="6.6" text-anchor="start" fill="#000" transform="rotate(0.05 144.60 220.76)" stroke="#000" stroke-width="0.18">IRAK2</text>
<rect x="24.45" y="220.55" width="6.11" height="5.75" fill="#0000ff"/>
<rect x="31.06" y="220.55" width="6.11" height="5.75" fill="#0000ff"/>
<rect x="37.67" y="220.55" width="6.11" height="5.75" fill="#0000ff"/>
<rect x="44.28" y="220.55" width="6.11" height="5.75" fill="#0000e8"/>
<rect x="50.89" y="220.55" width="6.11" height="5.75" fill="#0000e8"/>
<rect x="57.51" y="220.55" width="6.11" height="5.75" fill="#0000e8"/>
<rect x="64.12" y="220.55" width="6.11" height="5.75" fill="#0000e8"/>
<rect x="70.73" y="220.55" width="6.11" height="5.75" fill="#0000f3"/>
<rect x="77.34" y="220.55" width="6.11" height="5.75" fill="#0000e8"/>
<rect x="83.95" y="220.55" width="6.11" height="5.75" fill="#0000ff"/>
<rect x="90.56" y="220.55" width="6.11" height="5.75" fill="#0000ff"/>
<rect x="97.17" y="220.55" width="6.11" height="5.75" fill="#0000ff"/>
<rect x="103.78" y="220.55" width="6.11" height="5.75" fill="#000020"/>
<rect x="110.39" y="220.55" width="6.11" height="5.75" fill="#000000"/>
<rect x="117.01" y="220.55" width="6.11" height="5.75" fill="#000011"/>
<rect x="123.62" y="220.55" width="6.11" height="5.75" fill="#565600"/>
<rect x="130.23" y="220.55" width="6.11" height="5.75" fill="#565600"/>
<rect x="136.84" y="220.55" width="6.11" height="5.75" fill="#565600"/>
<text x="144.60" y="227.00" font-size="6.6" text-anchor="start" fill="#000" transform="rotate(0.05 144.60 227.00)" stroke="#000" stroke-width="0.18">IRAK3</text>
<rect x="24.45" y="226.80" width="6.11" height="5.75" fill="#0000ff"/>
<rect x="31.06" y="226.80" width="6.11" height="5.75" fill="#0000ff"/>
<rect x="37.67" y="226.80" width="6.11" height="5.75" fill="#0000ff"/>
<rect x="44.28" y="226.80" width="6.11" height="5.75" fill="#000000"/>
<rect x="50.89" y="226.80" width="6.11" height="5.75" fill="#00003c"/>
<rect x="57.51" y="226.80" width="6.11" height="5.75" fill="#000000"/>
<rect x="64.12" y="226.80" width="6.11" height="5.75" fill="#000089"/>
<rect x="70.73" y="226.80" width="6.11" height="5.75" fill="#000089"/>
<rect x="77.34" y="226.80" width="6.11" height="5.75" fill="#0000a1"/>
<rect x="83.95" y="226.80" width="6.11" height="5.75" fill="#0000ff"/>
<rect x="90.56" y="226.80" width="6.11" height="5.75" fill="#0000ff"/>
<rect x="97.17" y="226.80" width="6.11" height="5.75" fill="#0000ff"/>
<rect x="103.78" y="226.80" width="6.11" height="5.75" fill="#959500"/>
<rect x="110.39" y="226.80" width="6.11" height="5.75" fill="#a1a100"/>
<rect x="117.01" y="226.80" width="6.11" height="5.75" fill="#a1a100"/>
<rect x="123.62" y="226.80" width="6.11" height="5.75" fill="#d1d100"/>
<rect x="130.23" y="226.80" width="6.11" height="5.75" fill="#dcdc00"/>
<rect x="136.84" y="226.80" width="6.11" height="5.75" fill="#b9b900"/>
<text x="144.60" y="233.25" font-size="6.6" text-anchor="start" fill="#000" transform="rotate(0.05 144.60 233.25)" stroke="#000" stroke-width="0.18">SOCS3</text>
<rect x="24.20" y="235.20" width="119.00" height="84.30" fill="#000"/>
<rect x="24.45" y="235.45" width="6.11" height="5.52" fill="#202000"/>
<rect x="31.06" y="235.45" width="6.11" height="5.52" fill="#2e2e00"/>
<rect x="37.67" y="235.45" width="6.11" height="5.52" fill="#202000"/>
<rect x="44.28" y="235.45" width="6.11" height="5.52" fill="#ffff00"/>
<rect x="50.89" y="235.45" width="6.11" height="5.52" fill="#ffff00"/>
<rect x="57.51" y="235.45" width="6.11" height="5.52" fill="#ffff00"/>
<rect x="64.12" y="235.45" width="6.11" height="5.52" fill="#ffff00"/>
<rect x="70.73" y="235.45" width="6.11" height="5.52" fill="#ffff00"/>
<rect x="77.34" y="235.45" width="6.11" height="5.52" fill="#ffff00"/>
<rect x="83.95" y="235.45" width="6.11" height="5.52" fill="#0000ff"/>
<rect x="90.56" y="235.45" width="6.11" height="5.52" fill="#0000ff"/>
<rect x="97.17" y="235.45" width="6.11" height="5.52" fill="#0000ff"/>
<rect x="103.78" y="235.45" width="6.11" height="5.52" fill="#2e2e00"/>
<rect x="110.39" y="235.45" width="6.11" height="5.52" fill="#2e2e00"/>
<rect x="117.01" y="235.45" width="6.11" height="5.52" fill="#202000"/>
<rect x="123.62" y="235.45" width="6.11" height="5.52" fill="#ffff00"/>
<rect x="130.23" y="235.45" width="6.11" height="5.52" fill="#ffff00"/>
<rect x="136.84" y="235.45" width="6.11" height="5.52" fill="#ffff00"/>
<text x="145.00" y="241.29" font-size="6.6" text-anchor="start" fill="#000" transform="rotate(0.05 145.00 241.29)" stroke="#000" stroke-width="0.18">CCL2</text>
<rect x="24.45" y="241.47" width="6.11" height="5.52" fill="#898900"/>
<rect x="31.06" y="241.47" width="6.11" height="5.52" fill="#3c3c00"/>
<rect x="37.67" y="241.47" width="6.11" height="5.52" fill="#2e2e00"/>
<rect x="44.28" y="241.47" width="6.11" height="5.52" fill="#ffff00"/>
<rect x="50.89" y="241.47" width="6.11" height="5.52" fill="#ffff00"/>
<rect x="57.51" y="241.47" width="6.11" height="5.52" fill="#ffff00"/>
<rect x="64.12" y="241.47" width="6.11" height="5.52" fill="#ffff00"/>
<rect x="70.73" y="241.47" width="6.11" height="5.52" fill="#ffff00"/>
<rect x="77.34" y="241.47" width="6.11" height="5.52" fill="#ffff00"/>
<rect x="83.95" y="241.47" width="6.11" height="5.52" fill="#0000e8"/>
<rect x="90.56" y="241.47" width="6.11" height="5.52" fill="#0000d1"/>
<rect x="97.17" y="241.47" width="6.11" height="5.52" fill="#0000ff"/>
<rect x="103.78" y="241.47" width="6.11" height="5.52" fill="#ffff00"/>
<rect x="110.39" y="241.47" width="6.11" height="5.52" fill="#ffff00"/>
<rect x="117.01" y="241.47" width="6.11" height="5.52" fill="#ffff00"/>
<rect x="123.62" y="241.47" width="6.11" height="5.52" fill="#ffff00"/>
<rect x="130.23" y="241.47" width="6.11" height="5.52" fill="#ffff00"/>
<rect x="136.84" y="241.47" width="6.11" height="5.52" fill="#ffff00"/>
<text x="145.00" y="247.31" font-size="6.6" text-anchor="start" fill="#000" transform="rotate(0.05 145.00 247.31)" stroke="#000" stroke-width="0.18">CCL3</text>
<rect x="24.45" y="247.49" width="6.11" height="5.52" fill="#2e2e00"/>
<rect x="31.06" y="247.49" width="6.11" height="5.52" fill="#000000"/>
<rect x="37.67" y="247.49" width="6.11" height="5.52" fill="#000000"/>
<rect x="44.28" y="247.49" width="6.11" height="5.52" fill="#ffff00"/>
<rect x="50.89" y="247.49" width="6.11" height="5.52" fill="#ffff00"/>
<rect x="57.51" y="247.49" width="6.11" height="5.52" fill="#ffff00"/>
<rect x="64.12" y="247.49" width="6.11" height="5.52" fill="#ffff00"/>
<rect x="70.73" y="247.49" width="6.11" height="5.52" fill="#ffff00"/>
<rect x="77.34" y="247.49" width="6.11" height="5.52" fill="#ffff00"/>
<rect x="83.95" y="247.49" width="6.11" height="5.52" fill="#0000ff"/>
<rect x="90.56" y="247.49" width="6.11" height="5.52" fill="#0000ff"/>
<rect x="97.17" y="247.49" width="6.11" height="5.52" fill="#0000ff"/>
<rect x="103.78" y="247.49" width="6.11" height="5.52" fill="#ffff00"/>
<rect x="110.39" y="247.49" width="6.11" height="5.52" fill="#ffff00"/>
<rect x="117.01" y="247.49" width="6.11" height="5.52" fill="#ffff00"/>
<rect x="123.62" y="247.49" width="6.11" height="5.52" fill="#ffff00"/>
<rect x="130.23" y="247.49" width="6.11" height="5.52" fill="#ffff00"/>
<rect x="136.84" y="247.49" width="6.11" height="5.52" fill="#ffff00"/>
<text x="145.00" y="253.33" font-size="6.6" text-anchor="start" fill="#000" transform="rotate(0.05 145.00 253.33)" stroke="#000" stroke-width="0.18">CCL4</text>
<rect x="24.45" y="253.51" width="6.11" height="5.52" fill="#0000ff"/>
<rect x="31.06" y="253.51" width="6.11" height="5.52" fill="#0000ff"/>
<rect x="37.67" y="253.51" width="6.11" height="5.52" fill="#0000ff"/>
<rect x="44.28" y="253.51" width="6.11" height="5.52" fill="#000056"/>
<rect x="50.89" y="253.51" width="6.11" height="5.52" fill="#00007c"/>
<rect x="57.51" y="253.51" width="6.11" height="5.52" fill="#000063"/>
<rect x="64.12" y="253.51" width="6.11" height="5.52" fill="#000000"/>
<rect x="70.73" y="253.51" width="6.11" height="5.52" fill="#111100"/>
<rect x="77.34" y="253.51" width="6.11" height="5.52" fill="#000000"/>
<rect x="83.95" y="253.51" width="6.11" height="5.52" fill="#0000ff"/>
<rect x="90.56" y="253.51" width="6.11" height="5.52" fill="#0000ff"/>
<rect x="97.17" y="253.51" width="6.11" height="5.52" fill="#0000ff"/>
<rect x="103.78" y="253.51" width="6.11" height="5.52" fill="#565600"/>
<rect x="110.39" y="253.51" width="6.11" height="5.52" fill="#565600"/>
<rect x="117.01" y="253.51" width="6.11" height="5.52" fill="#565600"/>
<rect x="123.62" y="253.51" width="6.11" height="5.52" fill="#ffff00"/>
<rect x="130.23" y="253.51" width="6.11" height="5.52" fill="#ffff00"/>
<rect x="136.84" y="253.51" width="6.11" height="5.52" fill="#ffff00"/>
<text x="145.00" y="259.35" font-size="6.6" text-anchor="start" fill="#000" transform="rotate(0.05 145.00 259.35)" stroke="#000" stroke-width="0.18">CCL5</text>
<rect x="24.45" y="259.54" width="6.11" height="5.52" fill="#0000ff"/>
<rect x="31.06" y="259.54" width="6.11" height="5.52" fill="#0000ff"/>
<rect x="37.67" y="259.54" width="6.11" height="5.52" fill="#0000ff"/>
<rect x="44.28" y="259.54" width="6.11" height="5.52" fill="#000020"/>
<rect x="50.89" y="259.54" width="6.11" height="5.52" fill="#000000"/>
<rect x="57.51" y="259.54" width="6.11" height="5.52" fill="#00003c"/>
<rect x="64.12" y="259.54" width="6.11" height="5.52" fill="#565600"/>
<rect x="70.73" y="259.54" width="6.11" height="5.52" fill="#636300"/>
<rect x="77.34" y="259.54" width="6.11" height="5.52" fill="#565600"/>
<rect x="83.95" y="259.54" width="6.11" height="5.52" fill="#0000ff"/>
<rect x="90.56" y="259.54" width="6.11" height="5.52" fill="#0000ff"/>
<rect x="97.17" y="259.54" width="6.11" height="5.52" fill="#0000ff"/>
<rect x="103.78" y="259.54" width="6.11" height="5.52" fill="#00003c"/>
<rect x="110.39" y="259.54" width="6.11" height="5.52" fill="#000056"/>
<rect x="117.01" y="259.54" width="6.11" height="5.52" fill="#000063"/>
<rect x="123.62" y="259.54" width="6.11" height="5.52" fill="#d1d100"/>
<rect x="130.23" y="259.54" width="6.11" height="5.52" fill="#d1d100"/>
<rect x="136.84" y="259.54" width="6.11" height="5.52" fill="#b9b900"/>
<text x="145.00" y="265.37" font-size="6.6" text-anchor="start" fill="#000" transform="rotate(0.05 145.00 265.37)" stroke="#000" stroke-width="0.18">CCL7</text>
<rect x="24.45" y="265.56" width="6.11" height="5.52" fill="#000089"/>
<rect x="31.06" y="265.56" width="6.11" height="5.52" fill="#0000a1"/>
<rect x="37.67" y="265.56" width="6.11" height="5.52" fill="#0000a1"/>
<rect x="44.28" y="265.56" width="6.11" height="5.52" fill="#565600"/>
<rect x="50.89" y="265.56" width="6.11" height="5.52" fill="#494900"/>
<rect x="57.51" y="265.56" width="6.11" height="5.52" fill="#494900"/>
<rect x="64.12" y="265.56" width="6.11" height="5.52" fill="#707000"/>
<rect x="70.73" y="265.56" width="6.11" height="5.52" fill="#7c7c00"/>
<rect x="77.34" y="265.56" width="6.11" height="5.52" fill="#707000"/>
<rect x="83.95" y="265.56" width="6.11" height="5.52" fill="#0000e8"/>
<rect x="90.56" y="265.56" width="6.11" height="5.52" fill="#0000e8"/>
<rect x="97.17" y="265.56" width="6.11" height="5.52" fill="#0000e8"/>
<rect x="103.78" y="265.56" width="6.11" height="5.52" fill="#202000"/>
<rect x="110.39" y="265.56" width="6.11" height="5.52" fill="#2e2e00"/>
<rect x="117.01" y="265.56" width="6.11" height="5.52" fill="#202000"/>
<rect x="123.62" y="265.56" width="6.11" height="5.52" fill="#e8e800"/>
<rect x="130.23" y="265.56" width="6.11" height="5.52" fill="#e8e800"/>
<rect x="136.84" y="265.56" width="6.11" height="5.52" fill="#dcdc00"/>
<text x="145.00" y="271.39" font-size="6.6" text-anchor="start" fill="#000" transform="rotate(0.05 145.00 271.39)" stroke="#000" stroke-width="0.18">CCL9</text>
<rect x="24.45" y="271.58" width="6.11" height="5.52" fill="#0000ff"/>
<rect x="31.06" y="271.58" width="6.11" height="5.52" fill="#0000ff"/>
<rect x="37.67" y="271.58" width="6.11" height="5.52" fill="#0000ff"/>
<rect x="44.28" y="271.58" width="6.11" height="5.52" fill="#0000f3"/>
<rect x="50.89" y="271.58" width="6.11" height="5.52" fill="#0000f3"/>
<rect x="57.51" y="271.58" width="6.11" height="5.52" fill="#0000f3"/>
<rect x="64.12" y="271.58" width="6.11" height="5.52" fill="#0000b9"/>
<rect x="70.73" y="271.58" width="6.11" height="5.52" fill="#0000a1"/>
<rect x="77.34" y="271.58" width="6.11" height="5.52" fill="#0000b9"/>
<rect x="83.95" y="271.58" width="6.11" height="5.52" fill="#0000ff"/>
<rect x="90.56" y="271.58" width="6.11" height="5.52" fill="#0000ff"/>
<rect x="97.17" y="271.58" width="6.11" height="5.52" fill="#0000ff"/>
<rect x="103.78" y="271.58" width="6.11" height="5.52" fill="#0000d1"/>
<rect x="110.39" y="271.58" width="6.11" height="5.52" fill="#0000b9"/>
<rect x="117.01" y="271.58" width="6.11" height="5.52" fill="#0000d1"/>
<rect x="123.62" y="271.58" width="6.11" height="5.52" fill="#565600"/>
<rect x="130.23" y="271.58" width="6.11" height="5.52" fill="#565600"/>
<rect x="136.84" y="271.58" width="6.11" height="5.52" fill="#494900"/>
<text x="145.00" y="277.42" font-size="6.6" text-anchor="start" fill="#000" transform="rotate(0.05 145.00 277.42)" stroke="#000" stroke-width="0.18">CCL12</text>
<rect x="24.45" y="277.60" width="6.11" height="5.52" fill="#0000ff"/>
<rect x="31.06" y="277.60" width="6.11" height="5.52" fill="#0000ff"/>
<rect x="37.67" y="277.60" width="6.11" height="5.52" fill="#0000ff"/>
<rect x="44.28" y="277.60" width="6.11" height="5.52" fill="#0000ff"/>
<rect x="50.89" y="277.60" width="6.11" height="5.52" fill="#0000ff"/>
<rect x="57.51" y="277.60" width="6.11" height="5.52" fill="#0000ff"/>
<rect x="64.12" y="277.60" width="6.11" height="5.52" fill="#0000ff"/>
<rect x="70.73" y="277.60" width="6.11" height="5.52" fill="#0000ff"/>
<rect x="77.34" y="277.60" width="6.11" height="5.52" fill="#0000ff"/>
<rect x="83.95" y="277.60" width="6.11" height="5.52" fill="#0000ff"/>
<rect x="90.56" y="277.60" width="6.11" height="5.52" fill="#0000ff"/>
<rect x="97.17" y="277.60" width="6.11" height="5.52" fill="#0000ff"/>
<rect x="103.78" y="277.60" width="6.11" height="5.52" fill="#0000ff"/>
<rect x="110.39" y="277.60" width="6.11" height="5.52" fill="#0000ff"/>
<rect x="117.01" y="277.60" width="6.11" height="5.52" fill="#0000ff"/>
<rect x="123.62" y="277.60" width="6.11" height="5.52" fill="#0000d1"/>
<rect x="130.23" y="277.60" width="6.11" height="5.52" fill="#0000d1"/>
<rect x="136.84" y="277.60" width="6.11" height="5.52" fill="#0000d1"/>
<text x="145.00" y="283.44" font-size="6.6" text-anchor="start" fill="#000" transform="rotate(0.05 145.00 283.44)" stroke="#000" stroke-width="0.18">CCL22</text>
<rect x="24.45" y="283.62" width="6.11" height="5.52" fill="#0000ff"/>
<rect x="31.06" y="283.62" width="6.11" height="5.52" fill="#0000ff"/>
<rect x="37.67" y="283.62" width="6.11" height="5.52" fill="#0000ff"/>
<rect x="44.28" y="283.62" width="6.11" height="5.52" fill="#565600"/>
<rect x="50.89" y="283.62" width="6.11" height="5.52" fill="#3c3c00"/>
<rect x="57.51" y="283.62" width="6.11" height="5.52" fill="#3c3c00"/>
<rect x="64.12" y="283.62" width="6.11" height="5.52" fill="#000000"/>
<rect x="70.73" y="283.62" width="6.11" height="5.52" fill="#111100"/>
<rect x="77.34" y="283.62" width="6.11" height="5.52" fill="#000000"/>
<rect x="83.95" y="283.62" width="6.11" height="5.52" fill="#0000ff"/>
<rect x="90.56" y="283.62" width="6.11" height="5.52" fill="#0000ff"/>
<rect x="97.17" y="283.62" width="6.11" height="5.52" fill="#0000ff"/>
<rect x="103.78" y="283.62" width="6.11" height="5.52" fill="#ffff00"/>
<rect x="110.39" y="283.62" width="6.11" height="5.52" fill="#ffff00"/>
<rect x="117.01" y="283.62" width="6.11" height="5.52" fill="#ffff00"/>
<rect x="123.62" y="283.62" width="6.11" height="5.52" fill="#ffff00"/>
<rect x="130.23" y="283.62" width="6.11" height="5.52" fill="#ffff00"/>
<rect x="136.84" y="283.62" width="6.11" height="5.52" fill="#ffff00"/>
<text x="145.00" y="289.46" font-size="6.6" text-anchor="start" fill="#000" transform="rotate(0.05 145.00 289.46)" stroke="#000" stroke-width="0.18">CXCL2</text>
<rect x="24.45" y="289.64" width="6.11" height="5.52" fill="#0000ff"/>
<rect x="31.06" y="289.64" width="6.11" height="5.52" fill="#0000ff"/>
<rect x="37.67" y="289.64" width="6.11" height="5.52" fill="#0000ff"/>
<rect x="44.28" y="289.64" width="6.11" height="5.52" fill="#3c3c00"/>
<rect x="50.89" y="289.64" width="6.11" height="5.52" fill="#2e2e00"/>
<rect x="57.51" y="289.64" width="6.11" height="5.52" fill="#3c3c00"/>
<rect x="64.12" y="289.64" width="6.11" height="5.52" fill="#e8e800"/>
<rect x="70.73" y="289.64" width="6.11" height="5.52" fill="#ffff00"/>
<rect x="77.34" y="289.64" width="6.11" height="5.52" fill="#e8e800"/>
<rect x="83.95" y="289.64" width="6.11" height="5.52" fill="#0000ff"/>
<rect x="90.56" y="289.64" width="6.11" height="5.52" fill="#0000ff"/>
<rect x="97.17" y="289.64" width="6.11" height="5.52" fill="#0000ff"/>
<rect x="103.78" y="289.64" width="6.11" height="5.52" fill="#494900"/>
<rect x="110.39" y="289.64" width="6.11" height="5.52" fill="#3c3c00"/>
<rect x="117.01" y="289.64" width="6.11" height="5.52" fill="#494900"/>
<rect x="123.62" y="289.64" width="6.11" height="5.52" fill="#ffff00"/>
<rect x="130.23" y="289.64" width="6.11" height="5.52" fill="#ffff00"/>
<rect x="136.84" y="289.64" width="6.11" height="5.52" fill="#ffff00"/>
<text x="145.00" y="295.48" font-size="6.6" text-anchor="start" fill="#000" transform="rotate(0.05 145.00 295.48)" stroke="#000" stroke-width="0.18">CXCL10</text>
<rect x="24.45" y="295.66" width="6.11" height="5.52" fill="#202000"/>
<rect x="31.06" y="295.66" width="6.11" height="5.52" fill="#000000"/>
<rect x="37.67" y="295.66" width="6.11" height="5.52" fill="#111100"/>
<rect x="44.28" y="295.66" width="6.11" height="5.52" fill="#898900"/>
<rect x="50.89" y="295.66" width="6.11" height="5.52" fill="#7c7c00"/>
<rect x="57.51" y="295.66" width="6.11" height="5.52" fill="#898900"/>
<rect x="64.12" y="295.66" width="6.11" height="5.52" fill="#3c3c00"/>
<rect x="70.73" y="295.66" width="6.11" height="5.52" fill="#494900"/>
<rect x="77.34" y="295.66" width="6.11" height="5.52" fill="#3c3c00"/>
<rect x="83.95" y="295.66" width="6.11" height="5.52" fill="#000000"/>
<rect x="90.56" y="295.66" width="6.11" height="5.52" fill="#111100"/>
<rect x="97.17" y="295.66" width="6.11" height="5.52" fill="#000000"/>
<rect x="103.78" y="295.66" width="6.11" height="5.52" fill="#707000"/>
<rect x="110.39" y="295.66" width="6.11" height="5.52" fill="#7c7c00"/>
<rect x="117.01" y="295.66" width="6.11" height="5.52" fill="#707000"/>
<rect x="123.62" y="295.66" width="6.11" height="5.52" fill="#b9b900"/>
<rect x="130.23" y="295.66" width="6.11" height="5.52" fill="#adad00"/>
<rect x="136.84" y="295.66" width="6.11" height="5.52" fill="#a1a100"/>
<text x="145.00" y="301.50" font-size="6.6" text-anchor="start" fill="#000" transform="rotate(0.05 145.00 301.50)" stroke="#000" stroke-width="0.18">CSF1</text>
<rect x="24.45" y="301.69" width="6.11" height="5.52" fill="#0000ff"/>
<rect x="31.06" y="301.69" width="6.11" height="5.52" fill="#0000ff"/>
<rect x="37.67" y="301.69" width="6.11" height="5.52" fill="#0000ff"/>
<rect x="44.28" y="301.69" width="6.11" height="5.52" fill="#0000d1"/>
<rect x="50.89" y="301.69" width="6.11" height="5.52" fill="#0000e8"/>
<rect x="57.51" y="301.69" width="6.11" height="5.52" fill="#0000e8"/>
<rect x="64.12" y="301.69" width="6.11" height="5.52" fill="#0000d1"/>
<rect x="70.73" y="301.69" width="6.11" height="5.52" fill="#0000d1"/>
<rect x="77.34" y="301.69" width="6.11" height="5.52" fill="#0000d1"/>
<rect x="83.95" y="301.69" width="6.11" height="5.52" fill="#0000ff"/>
<rect x="90.56" y="301.69" width="6.11" height="5.52" fill="#0000ff"/>
<rect x="97.17" y="301.69" width="6.11" height="5.52" fill="#0000ff"/>
<rect x="103.78" y="301.69" width="6.11" height="5.52" fill="#0000e8"/>
<rect x="110.39" y="301.69" width="6.11" height="5.52" fill="#0000e8"/>
<rect x="117.01" y="301.69" width="6.11" height="5.52" fill="#0000e8"/>
<rect x="123.62" y="301.69" width="6.11" height="5.52" fill="#0000b9"/>
<rect x="130.23" y="301.69" width="6.11" height="5.52" fill="#0000b9"/>
<rect x="136.84" y="301.69" width="6.11" height="5.52" fill="#0000b9"/>
<text x="145.00" y="307.52" font-size="6.6" text-anchor="start" fill="#000" transform="rotate(0.05 145.00 307.52)" stroke="#000" stroke-width="0.18">CSF3</text>
<rect x="24.45" y="307.71" width="6.11" height="5.52" fill="#0000ff"/>
<rect x="31.06" y="307.71" width="6.11" height="5.52" fill="#0000ff"/>
<rect x="37.67" y="307.71" width="6.11" height="5.52" fill="#0000ff"/>
<rect x="44.28" y="307.71" width="6.11" height="5.52" fill="#3c3c00"/>
<rect x="50.89" y="307.71" width="6.11" height="5.52" fill="#2e2e00"/>
<rect x="57.51" y="307.71" width="6.11" height="5.52" fill="#2e2e00"/>
<rect x="64.12" y="307.71" width="6.11" height="5.52" fill="#000070"/>
<rect x="70.73" y="307.71" width="6.11" height="5.52" fill="#000020"/>
<rect x="77.34" y="307.71" width="6.11" height="5.52" fill="#00003c"/>
<rect x="83.95" y="307.71" width="6.11" height="5.52" fill="#0000d1"/>
<rect x="90.56" y="307.71" width="6.11" height="5.52" fill="#0000d1"/>
<rect x="97.17" y="307.71" width="6.11" height="5.52" fill="#0000d1"/>
<rect x="103.78" y="307.71" width="6.11" height="5.52" fill="#ffff00"/>
<rect x="110.39" y="307.71" width="6.11" height="5.52" fill="#ffff00"/>
<rect x="117.01" y="307.71" width="6.11" height="5.52" fill="#ffff00"/>
<rect x="123.62" y="307.71" width="6.11" height="5.52" fill="#ffff00"/>
<rect x="130.23" y="307.71" width="6.11" height="5.52" fill="#ffff00"/>
<rect x="136.84" y="307.71" width="6.11" height="5.52" fill="#ffff00"/>
<text x="145.00" y="313.54" font-size="6.6" text-anchor="start" fill="#000" transform="rotate(0.05 145.00 313.54)" stroke="#000" stroke-width="0.18">CCRL2</text>
<rect x="24.45" y="313.73" width="6.11" height="5.52" fill="#0000ff"/>
<rect x="31.06" y="313.73" width="6.11" height="5.52" fill="#0000ff"/>
<rect x="37.67" y="313.73" width="6.11" height="5.52" fill="#0000ff"/>
<rect x="44.28" y="313.73" width="6.11" height="5.52" fill="#0000b9"/>
<rect x="50.89" y="313.73" width="6.11" height="5.52" fill="#0000a1"/>
<rect x="57.51" y="313.73" width="6.11" height="5.52" fill="#0000a1"/>
<rect x="64.12" y="313.73" width="6.11" height="5.52" fill="#0000d1"/>
<rect x="70.73" y="313.73" width="6.11" height="5.52" fill="#0000b9"/>
<rect x="77.34" y="313.73" width="6.11" height="5.52" fill="#0000d1"/>
<rect x="83.95" y="313.73" width="6.11" height="5.52" fill="#0000e8"/>
<rect x="90.56" y="313.73" width="6.11" height="5.52" fill="#0000e8"/>
<rect x="97.17" y="313.73" width="6.11" height="5.52" fill="#0000e8"/>
<rect x="103.78" y="313.73" width="6.11" height="5.52" fill="#000089"/>
<rect x="110.39" y="313.73" width="6.11" height="5.52" fill="#000070"/>
<rect x="117.01" y="313.73" width="6.11" height="5.52" fill="#000070"/>
<rect x="123.62" y="313.73" width="6.11" height="5.52" fill="#0000d1"/>
<rect x="130.23" y="313.73" width="6.11" height="5.52" fill="#0000d1"/>
<rect x="136.84" y="313.73" width="6.11" height="5.52" fill="#0000d1"/>
<text x="145.00" y="319.57" font-size="6.6" text-anchor="start" fill="#000" transform="rotate(0.05 145.00 319.57)" stroke="#000" stroke-width="0.18">CCRN4l</text>
<rect x="24.20" y="321.40" width="119.00" height="208.70" fill="#000"/>
<rect x="24.45" y="321.65" width="6.11" height="5.46" fill="#000070"/>
<rect x="31.06" y="321.65" width="6.11" height="5.46" fill="#000070"/>
<rect x="37.67" y="321.65" width="6.11" height="5.46" fill="#000070"/>
<rect x="44.28" y="321.65" width="6.11" height="5.46" fill="#000000"/>
<rect x="50.89" y="321.65" width="6.11" height="5.46" fill="#111100"/>
<rect x="57.51" y="321.65" width="6.11" height="5.46" fill="#202000"/>
<rect x="64.12" y="321.65" width="6.11" height="5.46" fill="#202000"/>
<rect x="70.73" y="321.65" width="6.11" height="5.46" fill="#2e2e00"/>
<rect x="77.34" y="321.65" width="6.11" height="5.46" fill="#2e2e00"/>
<rect x="83.95" y="321.65" width="6.11" height="5.46" fill="#202000"/>
<rect x="90.56" y="321.65" width="6.11" height="5.46" fill="#000000"/>
<rect x="97.17" y="321.65" width="6.11" height="5.46" fill="#111100"/>
<rect x="103.78" y="321.65" width="6.11" height="5.46" fill="#565600"/>
<rect x="110.39" y="321.65" width="6.11" height="5.46" fill="#414100"/>
<rect x="117.01" y="321.65" width="6.11" height="5.46" fill="#414100"/>
<rect x="123.62" y="321.65" width="6.11" height="5.46" fill="#d1d100"/>
<rect x="130.23" y="321.65" width="6.11" height="5.46" fill="#e8e800"/>
<rect x="136.84" y="321.65" width="6.11" height="5.46" fill="#d1d100"/>
<text x="145.80" y="327.56" font-size="6.6" text-anchor="start" fill="#000" transform="rotate(0.05 145.80 327.56)" stroke="#000" stroke-width="0.18">CD47</text>
<rect x="24.45" y="327.61" width="6.11" height="5.46" fill="#0000ff"/>
<rect x="31.06" y="327.61" width="6.11" height="5.46" fill="#0000ff"/>
<rect x="37.67" y="327.61" width="6.11" height="5.46" fill="#0000ff"/>
<rect x="44.28" y="327.61" width="6.11" height="5.46" fill="#0000d1"/>
<rect x="50.89" y="327.61" width="6.11" height="5.46" fill="#000089"/>
<rect x="57.51" y="327.61" width="6.11" height="5.46" fill="#0000e8"/>
<rect x="64.12" y="327.61" width="6.11" height="5.46" fill="#636300"/>
<rect x="70.73" y="327.61" width="6.11" height="5.46" fill="#707000"/>
<rect x="77.34" y="327.61" width="6.11" height="5.46" fill="#898900"/>
<rect x="83.95" y="327.61" width="6.11" height="5.46" fill="#0000ff"/>
<rect x="90.56" y="327.61" width="6.11" height="5.46" fill="#0000ff"/>
<rect x="97.17" y="327.61" width="6.11" height="5.46" fill="#0000ff"/>
<rect x="103.78" y="327.61" width="6.11" height="5.46" fill="#707000"/>
<rect x="110.39" y="327.61" width="6.11" height="5.46" fill="#636300"/>
<rect x="117.01" y="327.61" width="6.11" height="5.46" fill="#707000"/>
<rect x="123.62" y="327.61" width="6.11" height="5.46" fill="#ffff00"/>
<rect x="130.23" y="327.61" width="6.11" height="5.46" fill="#ffff00"/>
<rect x="136.84" y="327.61" width="6.11" height="5.46" fill="#ffff00"/>
<text x="145.80" y="333.52" font-size="6.6" text-anchor="start" fill="#000" transform="rotate(0.05 145.80 333.52)" stroke="#000" stroke-width="0.18">GBP2</text>
<rect x="24.45" y="333.58" width="6.11" height="5.46" fill="#0000ff"/>
<rect x="31.06" y="333.58" width="6.11" height="5.46" fill="#0000ff"/>
<rect x="37.67" y="333.58" width="6.11" height="5.46" fill="#0000ff"/>
<rect x="44.28" y="333.58" width="6.11" height="5.46" fill="#0000e8"/>
<rect x="50.89" y="333.58" width="6.11" height="5.46" fill="#0000e8"/>
<rect x="57.51" y="333.58" width="6.11" height="5.46" fill="#0000e8"/>
<rect x="64.12" y="333.58" width="6.11" height="5.46" fill="#000089"/>
<rect x="70.73" y="333.58" width="6.11" height="5.46" fill="#000070"/>
<rect x="77.34" y="333.58" width="6.11" height="5.46" fill="#111100"/>
<rect x="83.95" y="333.58" width="6.11" height="5.46" fill="#0000ff"/>
<rect x="90.56" y="333.58" width="6.11" height="5.46" fill="#0000ff"/>
<rect x="97.17" y="333.58" width="6.11" height="5.46" fill="#0000ff"/>
<rect x="103.78" y="333.58" width="6.11" height="5.46" fill="#111100"/>
<rect x="110.39" y="333.58" width="6.11" height="5.46" fill="#111100"/>
<rect x="117.01" y="333.58" width="6.11" height="5.46" fill="#202000"/>
<rect x="123.62" y="333.58" width="6.11" height="5.46" fill="#ffff00"/>
<rect x="130.23" y="333.58" width="6.11" height="5.46" fill="#ffff00"/>
<rect x="136.84" y="333.58" width="6.11" height="5.46" fill="#ffff00"/>
<text x="145.80" y="339.48" font-size="6.6" text-anchor="start" fill="#000" transform="rotate(0.05 145.80 339.48)" stroke="#000" stroke-width="0.18">GBP3</text>
<rect x="24.45" y="339.54" width="6.11" height="5.46" fill="#0000ff"/>
<rect x="31.06" y="339.54" width="6.11" height="5.46" fill="#0000ff"/>
<rect x="37.67" y="339.54" width="6.11" height="5.46" fill="#0000ff"/>
<rect x="44.28" y="339.54" width="6.11" height="5.46" fill="#0000f3"/>
<rect x="50.89" y="339.54" width="6.11" height="5.46" fill="#0000f3"/>
<rect x="57.51" y="339.54" width="6.11" height="5.46" fill="#0000f3"/>
<rect x="64.12" y="339.54" width="6.11" height="5.46" fill="#000000"/>
<rect x="70.73" y="339.54" width="6.11" height="5.46" fill="#111100"/>
<rect x="77.34" y="339.54" width="6.11" height="5.46" fill="#202000"/>
<rect x="83.95" y="339.54" width="6.11" height="5.46" fill="#0000ff"/>
<rect x="90.56" y="339.54" width="6.11" height="5.46" fill="#0000ff"/>
<rect x="97.17" y="339.54" width="6.11" height="5.46" fill="#0000ff"/>
<rect x="103.78" y="339.54" width="6.11" height="5.46" fill="#ffff00"/>
<rect x="110.39" y="339.54" width="6.11" height="5.46" fill="#ffff00"/>
<rect x="117.01" y="339.54" width="6.11" height="5.46" fill="#ffff00"/>
<rect x="123.62" y="339.54" width="6.11" height="5.46" fill="#ffff00"/>
<rect x="130.23" y="339.54" width="6.11" height="5.46" fill="#ffff00"/>
<rect x="136.84" y="339.54" width="6.11" height="5.46" fill="#ffff00"/>
<text x="145.80" y="345.45" font-size="6.6" text-anchor="start" fill="#000" transform="rotate(0.05 145.80 345.45)" stroke="#000" stroke-width="0.18">GBP5</text>
<rect x="24.45" y="345.50" width="6.11" height="5.46" fill="#0000ff"/>
<rect x="31.06" y="345.50" width="6.11" height="5.46" fill="#0000ff"/>
<rect x="37.67" y="345.50" width="6.11" height="5.46" fill="#0000ff"/>
<rect x="44.28" y="345.50" width="6.11" height="5.46" fill="#0000ff"/>
<rect x="50.89" y="345.50" width="6.11" height="5.46" fill="#0000ff"/>
<rect x="57.51" y="345.50" width="6.11" height="5.46" fill="#0000ff"/>
<rect x="64.12" y="345.50" width="6.11" height="5.46" fill="#0000e8"/>
<rect x="70.73" y="345.50" width="6.11" height="5.46" fill="#0000e8"/>
<rect x="77.34" y="345.50" width="6.11" height="5.46" fill="#0000d1"/>
<rect x="83.95" y="345.50" width="6.11" height="5.46" fill="#0000ff"/>
<rect x="90.56" y="345.50" width="6.11" height="5.46" fill="#0000ff"/>
<rect x="97.17" y="345.50" width="6.11" height="5.46" fill="#0000ff"/>
<rect x="103.78" y="345.50" width="6.11" height="5.46" fill="#000000"/>
<rect x="110.39" y="345.50" width="6.11" height="5.46" fill="#000056"/>
<rect x="117.01" y="345.50" width="6.11" height="5.46" fill="#000056"/>
<rect x="123.62" y="345.50" width="6.11" height="5.46" fill="#ffff00"/>
<rect x="130.23" y="345.50" width="6.11" height="5.46" fill="#ffff00"/>
<rect x="136.84" y="345.50" width="6.11" height="5.46" fill="#ffff00"/>
<text x="145.80" y="351.41" font-size="6.6" text-anchor="start" fill="#000" transform="rotate(0.05 145.80 351.41)" stroke="#000" stroke-width="0.18">GBP6</text>
<rect x="24.45" y="351.46" width="6.11" height="5.46" fill="#0000ff"/>
<rect x="31.06" y="351.46" width="6.11" height="5.46" fill="#0000ff"/>
<rect x="37.67" y="351.46" width="6.11" height="5.46" fill="#0000ff"/>
<rect x="44.28" y="351.46" width="6.11" height="5.46" fill="#0000ff"/>
<rect x="50.89" y="351.46" width="6.11" height="5.46" fill="#0000ff"/>
<rect x="57.51" y="351.46" width="6.11" height="5.46" fill="#0000ff"/>
<rect x="64.12" y="351.46" width="6.11" height="5.46" fill="#000000"/>
<rect x="70.73" y="351.46" width="6.11" height="5.46" fill="#111100"/>
<rect x="77.34" y="351.46" width="6.11" height="5.46" fill="#707000"/>
<rect x="83.95" y="351.46" width="6.11" height="5.46" fill="#0000e8"/>
<rect x="90.56" y="351.46" width="6.11" height="5.46" fill="#0000e8"/>
<rect x="97.17" y="351.46" width="6.11" height="5.46" fill="#0000e8"/>
<rect x="103.78" y="351.46" width="6.11" height="5.46" fill="#636300"/>
<rect x="110.39" y="351.46" width="6.11" height="5.46" fill="#494900"/>
<rect x="117.01" y="351.46" width="6.11" height="5.46" fill="#565600"/>
<rect x="123.62" y="351.46" width="6.11" height="5.46" fill="#ffff00"/>
<rect x="130.23" y="351.46" width="6.11" height="5.46" fill="#ffff00"/>
<rect x="136.84" y="351.46" width="6.11" height="5.46" fill="#ffff00"/>
<text x="145.80" y="357.37" font-size="6.6" text-anchor="start" fill="#000" transform="rotate(0.05 145.80 357.37)" stroke="#000" stroke-width="0.18">GBP7</text>
<rect x="24.45" y="357.43" width="6.11" height="5.46" fill="#0000b9"/>
<rect x="31.06" y="357.43" width="6.11" height="5.46" fill="#0000d1"/>
<rect x="37.67" y="357.43" width="6.11" height="5.46" fill="#0000d1"/>
<rect x="44.28" y="357.43" width="6.11" height="5.46" fill="#0000d1"/>
<rect x="50.89" y="357.43" width="6.11" height="5.46" fill="#0000d1"/>
<rect x="57.51" y="357.43" width="6.11" height="5.46" fill="#0000d1"/>
<rect x="64.12" y="357.43" width="6.11" height="5.46" fill="#0000b9"/>
<rect x="70.73" y="357.43" width="6.11" height="5.46" fill="#0000b9"/>
<rect x="77.34" y="357.43" width="6.11" height="5.46" fill="#0000b9"/>
<rect x="83.95" y="357.43" width="6.11" height="5.46" fill="#0000d1"/>
<rect x="90.56" y="357.43" width="6.11" height="5.46" fill="#0000d1"/>
<rect x="97.17" y="357.43" width="6.11" height="5.46" fill="#0000d1"/>
<rect x="103.78" y="357.43" width="6.11" height="5.46" fill="#0000d1"/>
<rect x="110.39" y="357.43" width="6.11" height="5.46" fill="#0000d1"/>
<rect x="117.01" y="357.43" width="6.11" height="5.46" fill="#0000a1"/>
<rect x="123.62" y="357.43" width="6.11" height="5.46" fill="#000000"/>
<rect x="130.23" y="357.43" width="6.11" height="5.46" fill="#111100"/>
<rect x="136.84" y="357.43" width="6.11" height="5.46" fill="#000000"/>
<text x="145.80" y="363.33" font-size="6.6" text-anchor="start" fill="#000" transform="rotate(0.05 145.80 363.33)" stroke="#000" stroke-width="0.18">IFI27l2A</text>
<rect x="24.45" y="363.39" width="6.11" height="5.46" fill="#000056"/>
<rect x="31.06" y="363.39" width="6.11" height="5.46" fill="#000063"/>
<rect x="37.67" y="363.39" width="6.11" height="5.46" fill="#00007c"/>
<rect x="44.28" y="363.39" width="6.11" height="5.46" fill="#000000"/>
<rect x="50.89" y="363.39" width="6.11" height="5.46" fill="#0000a1"/>
<rect x="57.51" y="363.39" width="6.11" height="5.46" fill="#000089"/>
<rect x="64.12" y="363.39" width="6.11" height="5.46" fill="#2e2e00"/>
<rect x="70.73" y="363.39" width="6.11" height="5.46" fill="#3c3c00"/>
<rect x="77.34" y="363.39" width="6.11" height="5.46" fill="#3c3c00"/>
<rect x="83.95" y="363.39" width="6.11" height="5.46" fill="#0000b9"/>
<rect x="90.56" y="363.39" width="6.11" height="5.46" fill="#0000b9"/>
<rect x="97.17" y="363.39" width="6.11" height="5.46" fill="#0000b9"/>
<rect x="103.78" y="363.39" width="6.11" height="5.46" fill="#000000"/>
<rect x="110.39" y="363.39" width="6.11" height="5.46" fill="#000070"/>
<rect x="117.01" y="363.39" width="6.11" height="5.46" fill="#000020"/>
<rect x="123.62" y="363.39" width="6.11" height="5.46" fill="#ffff00"/>
<rect x="130.23" y="363.39" width="6.11" height="5.46" fill="#ffff00"/>
<rect x="136.84" y="363.39" width="6.11" height="5.46" fill="#ffff00"/>
<text x="145.80" y="369.30" font-size="6.6" text-anchor="start" fill="#000" transform="rotate(0.05 145.80 369.30)" stroke="#000" stroke-width="0.18">IFI35</text>
<rect x="24.45" y="369.35" width="6.11" height="5.46" fill="#0000ff"/>
<rect x="31.06" y="369.35" width="6.11" height="5.46" fill="#0000ff"/>
<rect x="37.67" y="369.35" width="6.11" height="5.46" fill="#0000ff"/>
<rect x="44.28" y="369.35" width="6.11" height="5.46" fill="#0000ff"/>
<rect x="50.89" y="369.35" width="6.11" height="5.46" fill="#0000ff"/>
<rect x="57.51" y="369.35" width="6.11" height="5.46" fill="#0000ff"/>
<rect x="64.12" y="369.35" width="6.11" height="5.46" fill="#0000a1"/>
<rect x="70.73" y="369.35" width="6.11" height="5.46" fill="#000056"/>
<rect x="77.34" y="369.35" width="6.11" height="5.46" fill="#202000"/>
<rect x="83.95" y="369.35" width="6.11" height="5.46" fill="#0000b9"/>
<rect x="90.56" y="369.35" width="6.11" height="5.46" fill="#0000d1"/>
<rect x="97.17" y="369.35" width="6.11" height="5.46" fill="#0000d1"/>
<rect x="103.78" y="369.35" width="6.11" height="5.46" fill="#0000e8"/>
<rect x="110.39" y="369.35" width="6.11" height="5.46" fill="#0000e8"/>
<rect x="117.01" y="369.35" width="6.11" height="5.46" fill="#0000d1"/>
<rect x="123.62" y="369.35" width="6.11" height="5.46" fill="#ffff00"/>
<rect x="130.23" y="369.35" width="6.11" height="5.46" fill="#ffff00"/>
<rect x="136.84" y="369.35" width="6.11" height="5.46" fill="#ffff00"/>
<text x="145.80" y="375.26" font-size="6.6" text-anchor="start" fill="#000" transform="rotate(0.05 145.80 375.26)" stroke="#000" stroke-width="0.18">IFI44</text>
<rect x="24.45" y="375.32" width="6.11" height="5.46" fill="#0000ff"/>
<rect x="31.06" y="375.32" width="6.11" height="5.46" fill="#0000ff"/>
<rect x="37.67" y="375.32" width="6.11" height="5.46" fill="#0000ff"/>
<rect x="44.28" y="375.32" width="6.11" height="5.46" fill="#0000ff"/>
<rect x="50.89" y="375.32" width="6.11" height="5.46" fill="#0000ff"/>
<rect x="57.51" y="375.32" width="6.11" height="5.46" fill="#0000ff"/>
<rect x="64.12" y="375.32" width="6.11" height="5.46" fill="#202000"/>
<rect x="70.73" y="375.32" width="6.11" height="5.46" fill="#202000"/>
<rect x="77.34" y="375.32" width="6.11" height="5.46" fill="#2e2e00"/>
<rect x="83.95" y="375.32" width="6.11" height="5.46" fill="#0000e8"/>
<rect x="90.56" y="375.32" width="6.11" height="5.46" fill="#0000e8"/>
<rect x="97.17" y="375.32" width="6.11" height="5.46" fill="#0000e8"/>
<rect x="103.78" y="375.32" width="6.11" height="5.46" fill="#202000"/>
<rect x="110.39" y="375.32" width="6.11" height="5.46" fill="#000000"/>
<rect x="117.01" y="375.32" width="6.11" height="5.46" fill="#2e2e00"/>
<rect x="123.62" y="375.32" width="6.11" height="5.46" fill="#ffff00"/>
<rect x="130.23" y="375.32" width="6.11" height="5.46" fill="#ffff00"/>
<rect x="136.84" y="375.32" width="6.11" height="5.46" fill="#ffff00"/>
<text x="145.80" y="381.22" font-size="6.6" text-anchor="start" fill="#000" transform="rotate(0.05 145.80 381.22)" stroke="#000" stroke-width="0.18">IFI47</text>
<rect x="24.45" y="381.28" width="6.11" height="5.46" fill="#0000d1"/>
<rect x="31.06" y="381.28" width="6.11" height="5.46" fill="#0000b9"/>
<rect x="37.67" y="381.28" width="6.11" height="5.46" fill="#0000b9"/>
<rect x="44.28" y="381.28" width="6.11" height="5.46" fill="#0000b9"/>
<rect x="50.89" y="381.28" width="6.11" height="5.46" fill="#3c3c00"/>
<rect x="57.51" y="381.28" width="6.11" height="5.46" fill="#000000"/>
<rect x="64.12" y="381.28" width="6.11" height="5.46" fill="#898900"/>
<rect x="70.73" y="381.28" width="6.11" height="5.46" fill="#a1a100"/>
<rect x="77.34" y="381.28" width="6.11" height="5.46" fill="#f3f300"/>
<rect x="83.95" y="381.28" width="6.11" height="5.46" fill="#000000"/>
<rect x="90.56" y="381.28" width="6.11" height="5.46" fill="#000000"/>
<rect x="97.17" y="381.28" width="6.11" height="5.46" fill="#000000"/>
<rect x="103.78" y="381.28" width="6.11" height="5.46" fill="#707000"/>
<rect x="110.39" y="381.28" width="6.11" height="5.46" fill="#494900"/>
<rect x="117.01" y="381.28" width="6.11" height="5.46" fill="#565600"/>
<rect x="123.62" y="381.28" width="6.11" height="5.46" fill="#ffff00"/>
<rect x="130.23" y="381.28" width="6.11" height="5.46" fill="#ffff00"/>
<rect x="136.84" y="381.28" width="6.11" height="5.46" fill="#ffff00"/>
<text x="145.80" y="387.19" font-size="6.6" text-anchor="start" fill="#000" transform="rotate(0.05 145.80 387.19)" stroke="#000" stroke-width="0.18">IFI203</text>
<rect x="24.45" y="387.24" width="6.11" height="5.46" fill="#0000e8"/>
<rect x="31.06" y="387.24" width="6.11" height="5.46" fill="#0000b9"/>
<rect x="37.67" y="387.24" width="6.11" height="5.46" fill="#0000d1"/>
<rect x="44.28" y="387.24" width="6.11" height="5.46" fill="#0000b9"/>
<rect x="50.89" y="387.24" width="6.11" height="5.46" fill="#000000"/>
<rect x="57.51" y="387.24" width="6.11" height="5.46" fill="#000070"/>
<rect x="64.12" y="387.24" width="6.11" height="5.46" fill="#707000"/>
<rect x="70.73" y="387.24" width="6.11" height="5.46" fill="#898900"/>
<rect x="77.34" y="387.24" width="6.11" height="5.46" fill="#b9b900"/>
<rect x="83.95" y="387.24" width="6.11" height="5.46" fill="#0000a1"/>
<rect x="90.56" y="387.24" width="6.11" height="5.46" fill="#0000b9"/>
<rect x="97.17" y="387.24" width="6.11" height="5.46" fill="#0000b9"/>
<rect x="103.78" y="387.24" width="6.11" height="5.46" fill="#707000"/>
<rect x="110.39" y="387.24" width="6.11" height="5.46" fill="#565600"/>
<rect x="117.01" y="387.24" width="6.11" height="5.46" fill="#565600"/>
<rect x="123.62" y="387.24" width="6.11" height="5.46" fill="#ffff00"/>
<rect x="130.23" y="387.24" width="6.11" height="5.46" fill="#ffff00"/>
<rect x="136.84" y="387.24" width="6.11" height="5.46" fill="#ffff00"/>
<text x="145.80" y="393.15" font-size="6.6" text-anchor="start" fill="#000" transform="rotate(0.05 145.80 393.15)" stroke="#000" stroke-width="0.18">IFI204</text>
<rect x="24.45" y="393.20" width="6.11" height="5.46" fill="#0000ff"/>
<rect x="31.06" y="393.20" width="6.11" height="5.46" fill="#0000ff"/>
<rect x="37.67" y="393.20" width="6.11" height="5.46" fill="#0000ff"/>
<rect x="44.28" y="393.20" width="6.11" height="5.46" fill="#0000ff"/>
<rect x="50.89" y="393.20" width="6.11" height="5.46" fill="#0000ff"/>
<rect x="57.51" y="393.20" width="6.11" height="5.46" fill="#0000ff"/>
<rect x="64.12" y="393.20" width="6.11" height="5.46" fill="#0000d1"/>
<rect x="70.73" y="393.20" width="6.11" height="5.46" fill="#0000b9"/>
<rect x="77.34" y="393.20" width="6.11" height="5.46" fill="#000056"/>
<rect x="83.95" y="393.20" width="6.11" height="5.46" fill="#0000ff"/>
<rect x="90.56" y="393.20" width="6.11" height="5.46" fill="#0000ff"/>
<rect x="97.17" y="393.20" width="6.11" height="5.46" fill="#0000ff"/>
<rect x="103.78" y="393.20" width="6.11" height="5.46" fill="#111100"/>
<rect x="110.39" y="393.20" width="6.11" height="5.46" fill="#000020"/>
<rect x="117.01" y="393.20" width="6.11" height="5.46" fill="#111100"/>
<rect x="123.62" y="393.20" width="6.11" height="5.46" fill="#ffff00"/>
<rect x="130.23" y="393.20" width="6.11" height="5.46" fill="#ffff00"/>
<rect x="136.84" y="393.20" width="6.11" height="5.46" fill="#ffff00"/>
<text x="145.80" y="399.11" font-size="6.6" text-anchor="start" fill="#000" transform="rotate(0.05 145.80 399.11)" stroke="#000" stroke-width="0.18">IFI205</text>
<rect x="24.45" y="399.17" width="6.11" height="5.46" fill="#0000ff"/>
<rect x="31.06" y="399.17" width="6.11" height="5.46" fill="#0000ff"/>
<rect x="37.67" y="399.17" width="6.11" height="5.46" fill="#0000ff"/>
<rect x="44.28" y="399.17" width="6.11" height="5.46" fill="#000070"/>
<rect x="50.89" y="399.17" width="6.11" height="5.46" fill="#636300"/>
<rect x="57.51" y="399.17" width="6.11" height="5.46" fill="#3c3c00"/>
<rect x="64.12" y="399.17" width="6.11" height="5.46" fill="#ffff00"/>
<rect x="70.73" y="399.17" width="6.11" height="5.46" fill="#ffff00"/>
<rect x="77.34" y="399.17" width="6.11" height="5.46" fill="#ffff00"/>
<rect x="83.95" y="399.17" width="6.11" height="5.46" fill="#0000ff"/>
<rect x="90.56" y="399.17" width="6.11" height="5.46" fill="#0000ff"/>
<rect x="97.17" y="399.17" width="6.11" height="5.46" fill="#0000ff"/>
<rect x="103.78" y="399.17" width="6.11" height="5.46" fill="#ffff00"/>
<rect x="110.39" y="399.17" width="6.11" height="5.46" fill="#ffff00"/>
<rect x="117.01" y="399.17" width="6.11" height="5.46" fill="#ffff00"/>
<rect x="123.62" y="399.17" width="6.11" height="5.46" fill="#ffff00"/>
<rect x="130.23" y="399.17" width="6.11" height="5.46" fill="#ffff00"/>
<rect x="136.84" y="399.17" width="6.11" height="5.46" fill="#ffff00"/>
<text x="145.80" y="405.07" font-size="6.6" text-anchor="start" fill="#000" transform="rotate(0.05 145.80 405.07)" stroke="#000" stroke-width="0.18">IFIT1</text>
<rect x="24.45" y="405.13" width="6.11" height="5.46" fill="#0000ff"/>
<rect x="31.06" y="405.13" width="6.11" height="5.46" fill="#0000ff"/>
<rect x="37.67" y="405.13" width="6.11" height="5.46" fill="#0000ff"/>
<rect x="44.28" y="405.13" width="6.11" height="5.46" fill="#0000ff"/>
<rect x="50.89" y="405.13" width="6.11" height="5.46" fill="#0000ff"/>
<rect x="57.51" y="405.13" width="6.11" height="5.46" fill="#0000ff"/>
<rect x="64.12" y="405.13" width="6.11" height="5.46" fill="#111100"/>
<rect x="70.73" y="405.13" width="6.11" height="5.46" fill="#2e2e00"/>
<rect x="77.34" y="405.13" width="6.11" height="5.46" fill="#3c3c00"/>
<rect x="83.95" y="405.13" width="6.11" height="5.46" fill="#0000ff"/>
<rect x="90.56" y="405.13" width="6.11" height="5.46" fill="#0000ff"/>
<rect x="97.17" y="405.13" width="6.11" height="5.46" fill="#0000ff"/>
<rect x="103.78" y="405.13" width="6.11" height="5.46" fill="#0000e8"/>
<rect x="110.39" y="405.13" width="6.11" height="5.46" fill="#0000e8"/>
<rect x="117.01" y="405.13" width="6.11" height="5.46" fill="#0000e8"/>
<rect x="123.62" y="405.13" width="6.11" height="5.46" fill="#7c7c00"/>
<rect x="130.23" y="405.13" width="6.11" height="5.46" fill="#898900"/>
<rect x="136.84" y="405.13" width="6.11" height="5.46" fill="#707000"/>
<text x="145.80" y="411.04" font-size="6.6" text-anchor="start" fill="#000" transform="rotate(0.05 145.80 411.04)" stroke="#000" stroke-width="0.18">IFIT1BI1</text>
<rect x="24.45" y="411.09" width="6.11" height="5.46" fill="#0000ff"/>
<rect x="31.06" y="411.09" width="6.11" height="5.46" fill="#0000ff"/>
<rect x="37.67" y="411.09" width="6.11" height="5.46" fill="#0000ff"/>
<rect x="44.28" y="411.09" width="6.11" height="5.46" fill="#0000e8"/>
<rect x="50.89" y="411.09" width="6.11" height="5.46" fill="#0000e8"/>
<rect x="57.51" y="411.09" width="6.11" height="5.46" fill="#0000e8"/>
<rect x="64.12" y="411.09" width="6.11" height="5.46" fill="#0000d1"/>
<rect x="70.73" y="411.09" width="6.11" height="5.46" fill="#0000b9"/>
<rect x="77.34" y="411.09" width="6.11" height="5.46" fill="#0000a1"/>
<rect x="83.95" y="411.09" width="6.11" height="5.46" fill="#0000e8"/>
<rect x="90.56" y="411.09" width="6.11" height="5.46" fill="#0000e8"/>
<rect x="97.17" y="411.09" width="6.11" height="5.46" fill="#0000e8"/>
<rect x="103.78" y="411.09" width="6.11" height="5.46" fill="#0000b9"/>
<rect x="110.39" y="411.09" width="6.11" height="5.46" fill="#0000d1"/>
<rect x="117.01" y="411.09" width="6.11" height="5.46" fill="#0000a1"/>
<rect x="123.62" y="411.09" width="6.11" height="5.46" fill="#707000"/>
<rect x="130.23" y="411.09" width="6.11" height="5.46" fill="#7c7c00"/>
<rect x="136.84" y="411.09" width="6.11" height="5.46" fill="#707000"/>
<text x="145.80" y="417.00" font-size="6.6" text-anchor="start" fill="#000" transform="rotate(0.05 145.80 417.00)" stroke="#000" stroke-width="0.18">IFIT1BI2</text>
<rect x="24.45" y="417.06" width="6.11" height="5.46" fill="#0000ff"/>
<rect x="31.06" y="417.06" width="6.11" height="5.46" fill="#0000d1"/>
<rect x="37.67" y="417.06" width="6.11" height="5.46" fill="#0000d1"/>
<rect x="44.28" y="417.06" width="6.11" height="5.46" fill="#0000d1"/>
<rect x="50.89" y="417.06" width="6.11" height="5.46" fill="#202000"/>
<rect x="57.51" y="417.06" width="6.11" height="5.46" fill="#000056"/>
<rect x="64.12" y="417.06" width="6.11" height="5.46" fill="#ffff00"/>
<rect x="70.73" y="417.06" width="6.11" height="5.46" fill="#ffff00"/>
<rect x="77.34" y="417.06" width="6.11" height="5.46" fill="#ffff00"/>
<rect x="83.95" y="417.06" width="6.11" height="5.46" fill="#0000d1"/>
<rect x="90.56" y="417.06" width="6.11" height="5.46" fill="#0000d1"/>
<rect x="97.17" y="417.06" width="6.11" height="5.46" fill="#0000d1"/>
<rect x="103.78" y="417.06" width="6.11" height="5.46" fill="#ffff00"/>
<rect x="110.39" y="417.06" width="6.11" height="5.46" fill="#ffff00"/>
<rect x="117.01" y="417.06" width="6.11" height="5.46" fill="#ffff00"/>
<rect x="123.62" y="417.06" width="6.11" height="5.46" fill="#ffff00"/>
<rect x="130.23" y="417.06" width="6.11" height="5.46" fill="#ffff00"/>
<rect x="136.84" y="417.06" width="6.11" height="5.46" fill="#ffff00"/>
<text x="145.80" y="422.96" font-size="6.6" text-anchor="start" fill="#000" transform="rotate(0.05 145.80 422.96)" stroke="#000" stroke-width="0.18">IFIT2</text>
<rect x="24.45" y="423.02" width="6.11" height="5.46" fill="#0000ff"/>
<rect x="31.06" y="423.02" width="6.11" height="5.46" fill="#0000ff"/>
<rect x="37.67" y="423.02" width="6.11" height="5.46" fill="#0000ff"/>
<rect x="44.28" y="423.02" width="6.11" height="5.46" fill="#0000e8"/>
<rect x="50.89" y="423.02" width="6.11" height="5.46" fill="#0000b9"/>
<rect x="57.51" y="423.02" width="6.11" height="5.46" fill="#0000d1"/>
<rect x="64.12" y="423.02" width="6.11" height="5.46" fill="#dcdc00"/>
<rect x="70.73" y="423.02" width="6.11" height="5.46" fill="#e8e800"/>
<rect x="77.34" y="423.02" width="6.11" height="5.46" fill="#ffff00"/>
<rect x="83.95" y="423.02" width="6.11" height="5.46" fill="#0000e8"/>
<rect x="90.56" y="423.02" width="6.11" height="5.46" fill="#0000e8"/>
<rect x="97.17" y="423.02" width="6.11" height="5.46" fill="#0000e8"/>
<rect x="103.78" y="423.02" width="6.11" height="5.46" fill="#898900"/>
<rect x="110.39" y="423.02" width="6.11" height="5.46" fill="#707000"/>
<rect x="117.01" y="423.02" width="6.11" height="5.46" fill="#7c7c00"/>
<rect x="123.62" y="423.02" width="6.11" height="5.46" fill="#ffff00"/>
<rect x="130.23" y="423.02" width="6.11" height="5.46" fill="#ffff00"/>
<rect x="136.84" y="423.02" width="6.11" height="5.46" fill="#ffff00"/>
<text x="145.80" y="428.93" font-size="6.6" text-anchor="start" fill="#000" transform="rotate(0.05 145.80 428.93)" stroke="#000" stroke-width="0.18">IFIT3</text>
<rect x="24.45" y="428.98" width="6.11" height="5.46" fill="#0000ff"/>
<rect x="31.06" y="428.98" width="6.11" height="5.46" fill="#0000ff"/>
<rect x="37.67" y="428.98" width="6.11" height="5.46" fill="#0000ff"/>
<rect x="44.28" y="428.98" width="6.11" height="5.46" fill="#0000ff"/>
<rect x="50.89" y="428.98" width="6.11" height="5.46" fill="#0000ff"/>
<rect x="57.51" y="428.98" width="6.11" height="5.46" fill="#0000ff"/>
<rect x="64.12" y="428.98" width="6.11" height="5.46" fill="#000056"/>
<rect x="70.73" y="428.98" width="6.11" height="5.46" fill="#000000"/>
<rect x="77.34" y="428.98" width="6.11" height="5.46" fill="#000000"/>
<rect x="83.95" y="428.98" width="6.11" height="5.46" fill="#0000ff"/>
<rect x="90.56" y="428.98" width="6.11" height="5.46" fill="#0000ff"/>
<rect x="97.17" y="428.98" width="6.11" height="5.46" fill="#0000ff"/>
<rect x="103.78" y="428.98" width="6.11" height="5.46" fill="#2e2e00"/>
<rect x="110.39" y="428.98" width="6.11" height="5.46" fill="#202000"/>
<rect x="117.01" y="428.98" width="6.11" height="5.46" fill="#2e2e00"/>
<rect x="123.62" y="428.98" width="6.11" height="5.46" fill="#ffff00"/>
<rect x="130.23" y="428.98" width="6.11" height="5.46" fill="#ffff00"/>
<rect x="136.84" y="428.98" width="6.11" height="5.46" fill="#ffff00"/>
<text x="145.80" y="434.89" font-size="6.6" text-anchor="start" fill="#000" transform="rotate(0.05 145.80 434.89)" stroke="#000" stroke-width="0.18">IFIT3B</text>
<rect x="24.45" y="434.94" width="6.11" height="5.46" fill="#494900"/>
<rect x="31.06" y="434.94" width="6.11" height="5.46" fill="#2e2e00"/>
<rect x="37.67" y="434.94" width="6.11" height="5.46" fill="#2e2e00"/>
<rect x="44.28" y="434.94" width="6.11" height="5.46" fill="#3c3c00"/>
<rect x="50.89" y="434.94" width="6.11" height="5.46" fill="#202000"/>
<rect x="57.51" y="434.94" width="6.11" height="5.46" fill="#2e2e00"/>
<rect x="64.12" y="434.94" width="6.11" height="5.46" fill="#494900"/>
<rect x="70.73" y="434.94" width="6.11" height="5.46" fill="#3c3c00"/>
<rect x="77.34" y="434.94" width="6.11" height="5.46" fill="#3c3c00"/>
<rect x="83.95" y="434.94" width="6.11" height="5.46" fill="#000056"/>
<rect x="90.56" y="434.94" width="6.11" height="5.46" fill="#00003c"/>
<rect x="97.17" y="434.94" width="6.11" height="5.46" fill="#000063"/>
<rect x="103.78" y="434.94" width="6.11" height="5.46" fill="#2e2e00"/>
<rect x="110.39" y="434.94" width="6.11" height="5.46" fill="#2e2e00"/>
<rect x="117.01" y="434.94" width="6.11" height="5.46" fill="#3c3c00"/>
<rect x="123.62" y="434.94" width="6.11" height="5.46" fill="#ffff00"/>
<rect x="130.23" y="434.94" width="6.11" height="5.46" fill="#ffff00"/>
<rect x="136.84" y="434.94" width="6.11" height="5.46" fill="#ffff00"/>
<text x="145.80" y="440.85" font-size="6.6" text-anchor="start" fill="#000" transform="rotate(0.05 145.80 440.85)" stroke="#000" stroke-width="0.18">IFITM3</text>
<rect x="24.45" y="440.91" width="6.11" height="5.46" fill="#0000e8"/>
<rect x="31.06" y="440.91" width="6.11" height="5.46" fill="#0000d1"/>
<rect x="37.67" y="440.91" width="6.11" height="5.46" fill="#0000d1"/>
<rect x="44.28" y="440.91" width="6.11" height="5.46" fill="#0000d1"/>
<rect x="50.89" y="440.91" width="6.11" height="5.46" fill="#0000b9"/>
<rect x="57.51" y="440.91" width="6.11" height="5.46" fill="#0000d1"/>
<rect x="64.12" y="440.91" width="6.11" height="5.46" fill="#000089"/>
<rect x="70.73" y="440.91" width="6.11" height="5.46" fill="#000000"/>
<rect x="77.34" y="440.91" width="6.11" height="5.46" fill="#111100"/>
<rect x="83.95" y="440.91" width="6.11" height="5.46" fill="#0000b9"/>
<rect x="90.56" y="440.91" width="6.11" height="5.46" fill="#0000d1"/>
<rect x="97.17" y="440.91" width="6.11" height="5.46" fill="#0000d1"/>
<rect x="103.78" y="440.91" width="6.11" height="5.46" fill="#ffff00"/>
<rect x="110.39" y="440.91" width="6.11" height="5.46" fill="#ffff00"/>
<rect x="117.01" y="440.91" width="6.11" height="5.46" fill="#ffff00"/>
<rect x="123.62" y="440.91" width="6.11" height="5.46" fill="#ffff00"/>
<rect x="130.23" y="440.91" width="6.11" height="5.46" fill="#ffff00"/>
<rect x="136.84" y="440.91" width="6.11" height="5.46" fill="#ffff00"/>
<text x="145.80" y="446.81" font-size="6.6" text-anchor="start" fill="#000" transform="rotate(0.05 145.80 446.81)" stroke="#000" stroke-width="0.18">IFIH1</text>
<rect x="24.45" y="446.87" width="6.11" height="5.46" fill="#565600"/>
<rect x="31.06" y="446.87" width="6.11" height="5.46" fill="#494900"/>
<rect x="37.67" y="446.87" width="6.11" height="5.46" fill="#494900"/>
<rect x="44.28" y="446.87" width="6.11" height="5.46" fill="#a1a100"/>
<rect x="50.89" y="446.87" width="6.11" height="5.46" fill="#898900"/>
<rect x="57.51" y="446.87" width="6.11" height="5.46" fill="#959500"/>
<rect x="64.12" y="446.87" width="6.11" height="5.46" fill="#959500"/>
<rect x="70.73" y="446.87" width="6.11" height="5.46" fill="#707000"/>
<rect x="77.34" y="446.87" width="6.11" height="5.46" fill="#898900"/>
<rect x="83.95" y="446.87" width="6.11" height="5.46" fill="#d1d100"/>
<rect x="90.56" y="446.87" width="6.11" height="5.46" fill="#b9b900"/>
<rect x="97.17" y="446.87" width="6.11" height="5.46" fill="#b9b900"/>
<rect x="103.78" y="446.87" width="6.11" height="5.46" fill="#ffff00"/>
<rect x="110.39" y="446.87" width="6.11" height="5.46" fill="#ffff00"/>
<rect x="117.01" y="446.87" width="6.11" height="5.46" fill="#ffff00"/>
<rect x="123.62" y="446.87" width="6.11" height="5.46" fill="#ffff00"/>
<rect x="130.23" y="446.87" width="6.11" height="5.46" fill="#ffff00"/>
<rect x="136.84" y="446.87" width="6.11" height="5.46" fill="#ffff00"/>
<text x="145.80" y="452.78" font-size="6.6" text-anchor="start" fill="#000" transform="rotate(0.05 145.80 452.78)" stroke="#000" stroke-width="0.18">IFNAR1</text>
<rect x="24.45" y="452.83" width="6.11" height="5.46" fill="#0000ff"/>
<rect x="31.06" y="452.83" width="6.11" height="5.46" fill="#0000ff"/>
<rect x="37.67" y="452.83" width="6.11" height="5.46" fill="#0000ff"/>
<rect x="44.28" y="452.83" width="6.11" height="5.46" fill="#202000"/>
<rect x="50.89" y="452.83" width="6.11" height="5.46" fill="#000000"/>
<rect x="57.51" y="452.83" width="6.11" height="5.46" fill="#111100"/>
<rect x="64.12" y="452.83" width="6.11" height="5.46" fill="#d1d100"/>
<rect x="70.73" y="452.83" width="6.11" height="5.46" fill="#f3f300"/>
<rect x="77.34" y="452.83" width="6.11" height="5.46" fill="#e8e800"/>
<rect x="83.95" y="452.83" width="6.11" height="5.46" fill="#0000ff"/>
<rect x="90.56" y="452.83" width="6.11" height="5.46" fill="#0000ff"/>
<rect x="97.17" y="452.83" width="6.11" height="5.46" fill="#0000ff"/>
<rect x="103.78" y="452.83" width="6.11" height="5.46" fill="#959500"/>
<rect x="110.39" y="452.83" width="6.11" height="5.46" fill="#7c7c00"/>
<rect x="117.01" y="452.83" width="6.11" height="5.46" fill="#898900"/>
<rect x="123.62" y="452.83" width="6.11" height="5.46" fill="#ffff00"/>
<rect x="130.23" y="452.83" width="6.11" height="5.46" fill="#ffff00"/>
<rect x="136.84" y="452.83" width="6.11" height="5.46" fill="#ffff00"/>
<text x="145.80" y="458.74" font-size="6.6" text-anchor="start" fill="#000" transform="rotate(0.05 145.80 458.74)" stroke="#000" stroke-width="0.18">ISG15</text>
<rect x="24.45" y="458.80" width="6.11" height="5.46" fill="#0000ff"/>
<rect x="31.06" y="458.80" width="6.11" height="5.46" fill="#0000ff"/>
<rect x="37.67" y="458.80" width="6.11" height="5.46" fill="#0000ff"/>
<rect x="44.28" y="458.80" width="6.11" height="5.46" fill="#0000ff"/>
<rect x="50.89" y="458.80" width="6.11" height="5.46" fill="#0000ff"/>
<rect x="57.51" y="458.80" width="6.11" height="5.46" fill="#0000ff"/>
<rect x="64.12" y="458.80" width="6.11" height="5.46" fill="#0000d1"/>
<rect x="70.73" y="458.80" width="6.11" height="5.46" fill="#0000d1"/>
<rect x="77.34" y="458.80" width="6.11" height="5.46" fill="#0000d1"/>
<rect x="83.95" y="458.80" width="6.11" height="5.46" fill="#0000ff"/>
<rect x="90.56" y="458.80" width="6.11" height="5.46" fill="#0000ff"/>
<rect x="97.17" y="458.80" width="6.11" height="5.46" fill="#0000ff"/>
<rect x="103.78" y="458.80" width="6.11" height="5.46" fill="#0000e8"/>
<rect x="110.39" y="458.80" width="6.11" height="5.46" fill="#0000e8"/>
<rect x="117.01" y="458.80" width="6.11" height="5.46" fill="#0000e8"/>
<rect x="123.62" y="458.80" width="6.11" height="5.46" fill="#202000"/>
<rect x="130.23" y="458.80" width="6.11" height="5.46" fill="#2e2e00"/>
<rect x="136.84" y="458.80" width="6.11" height="5.46" fill="#202000"/>
<text x="145.80" y="464.70" font-size="6.6" text-anchor="start" fill="#000" transform="rotate(0.05 145.80 464.70)" stroke="#000" stroke-width="0.18">ISG20</text>
<rect x="24.45" y="464.76" width="6.11" height="5.46" fill="#0000ff"/>
<rect x="31.06" y="464.76" width="6.11" height="5.46" fill="#0000ff"/>
<rect x="37.67" y="464.76" width="6.11" height="5.46" fill="#0000ff"/>
<rect x="44.28" y="464.76" width="6.11" height="5.46" fill="#0000ff"/>
<rect x="50.89" y="464.76" width="6.11" height="5.46" fill="#0000ff"/>
<rect x="57.51" y="464.76" width="6.11" height="5.46" fill="#0000ff"/>
<rect x="64.12" y="464.76" width="6.11" height="5.46" fill="#7c7c00"/>
<rect x="70.73" y="464.76" width="6.11" height="5.46" fill="#707000"/>
<rect x="77.34" y="464.76" width="6.11" height="5.46" fill="#898900"/>
<rect x="83.95" y="464.76" width="6.11" height="5.46" fill="#0000ff"/>
<rect x="90.56" y="464.76" width="6.11" height="5.46" fill="#0000ff"/>
<rect x="97.17" y="464.76" width="6.11" height="5.46" fill="#0000ff"/>
<rect x="103.78" y="464.76" width="6.11" height="5.46" fill="#ffff00"/>
<rect x="110.39" y="464.76" width="6.11" height="5.46" fill="#ffff00"/>
<rect x="117.01" y="464.76" width="6.11" height="5.46" fill="#ffff00"/>
<rect x="123.62" y="464.76" width="6.11" height="5.46" fill="#ffff00"/>
<rect x="130.23" y="464.76" width="6.11" height="5.46" fill="#ffff00"/>
<rect x="136.84" y="464.76" width="6.11" height="5.46" fill="#ffff00"/>
<text x="145.80" y="470.67" font-size="6.6" text-anchor="start" fill="#000" transform="rotate(0.05 145.80 470.67)" stroke="#000" stroke-width="0.18">MX1</text>
<rect x="24.45" y="470.72" width="6.11" height="5.46" fill="#0000ff"/>
<rect x="31.06" y="470.72" width="6.11" height="5.46" fill="#0000ff"/>
<rect x="37.67" y="470.72" width="6.11" height="5.46" fill="#0000ff"/>
<rect x="44.28" y="470.72" width="6.11" height="5.46" fill="#0000ff"/>
<rect x="50.89" y="470.72" width="6.11" height="5.46" fill="#0000ff"/>
<rect x="57.51" y="470.72" width="6.11" height="5.46" fill="#0000ff"/>
<rect x="64.12" y="470.72" width="6.11" height="5.46" fill="#000056"/>
<rect x="70.73" y="470.72" width="6.11" height="5.46" fill="#000056"/>
<rect x="77.34" y="470.72" width="6.11" height="5.46" fill="#000000"/>
<rect x="83.95" y="470.72" width="6.11" height="5.46" fill="#0000ff"/>
<rect x="90.56" y="470.72" width="6.11" height="5.46" fill="#0000ff"/>
<rect x="97.17" y="470.72" width="6.11" height="5.46" fill="#0000ff"/>
<rect x="103.78" y="470.72" width="6.11" height="5.46" fill="#f3f300"/>
<rect x="110.39" y="470.72" width="6.11" height="5.46" fill="#c5c500"/>
<rect x="117.01" y="470.72" width="6.11" height="5.46" fill="#f3f300"/>
<rect x="123.62" y="470.72" width="6.11" height="5.46" fill="#ffff00"/>
<rect x="130.23" y="470.72" width="6.11" height="5.46" fill="#ffff00"/>
<rect x="136.84" y="470.72" width="6.11" height="5.46" fill="#ffff00"/>
<text x="145.80" y="476.63" font-size="6.6" text-anchor="start" fill="#000" transform="rotate(0.05 145.80 476.63)" stroke="#000" stroke-width="0.18">MX2</text>
<rect x="24.45" y="476.68" width="6.11" height="5.46" fill="#0000ff"/>
<rect x="31.06" y="476.68" width="6.11" height="5.46" fill="#0000ff"/>
<rect x="37.67" y="476.68" width="6.11" height="5.46" fill="#0000ff"/>
<rect x="44.28" y="476.68" width="6.11" height="5.46" fill="#0000e8"/>
<rect x="50.89" y="476.68" width="6.11" height="5.46" fill="#0000d1"/>
<rect x="57.51" y="476.68" width="6.11" height="5.46" fill="#0000b9"/>
<rect x="64.12" y="476.68" width="6.11" height="5.46" fill="#202000"/>
<rect x="70.73" y="476.68" width="6.11" height="5.46" fill="#000000"/>
<rect x="77.34" y="476.68" width="6.11" height="5.46" fill="#202000"/>
<rect x="83.95" y="476.68" width="6.11" height="5.46" fill="#0000ff"/>
<rect x="90.56" y="476.68" width="6.11" height="5.46" fill="#0000ff"/>
<rect x="97.17" y="476.68" width="6.11" height="5.46" fill="#0000ff"/>
<rect x="103.78" y="476.68" width="6.11" height="5.46" fill="#0000e8"/>
<rect x="110.39" y="476.68" width="6.11" height="5.46" fill="#0000e8"/>
<rect x="117.01" y="476.68" width="6.11" height="5.46" fill="#0000e8"/>
<rect x="123.62" y="476.68" width="6.11" height="5.46" fill="#ffff00"/>
<rect x="130.23" y="476.68" width="6.11" height="5.46" fill="#ffff00"/>
<rect x="136.84" y="476.68" width="6.11" height="5.46" fill="#ffff00"/>
<text x="145.80" y="482.59" font-size="6.6" text-anchor="start" fill="#000" transform="rotate(0.05 145.80 482.59)" stroke="#000" stroke-width="0.18">NOS2</text>
<rect x="24.45" y="482.65" width="6.11" height="5.46" fill="#0000ff"/>
<rect x="31.06" y="482.65" width="6.11" height="5.46" fill="#0000ff"/>
<rect x="37.67" y="482.65" width="6.11" height="5.46" fill="#0000ff"/>
<rect x="44.28" y="482.65" width="6.11" height="5.46" fill="#0000ff"/>
<rect x="50.89" y="482.65" width="6.11" height="5.46" fill="#0000ff"/>
<rect x="57.51" y="482.65" width="6.11" height="5.46" fill="#0000ff"/>
<rect x="64.12" y="482.65" width="6.11" height="5.46" fill="#0000d1"/>
<rect x="70.73" y="482.65" width="6.11" height="5.46" fill="#0000d1"/>
<rect x="77.34" y="482.65" width="6.11" height="5.46" fill="#0000e8"/>
<rect x="83.95" y="482.65" width="6.11" height="5.46" fill="#0000ff"/>
<rect x="90.56" y="482.65" width="6.11" height="5.46" fill="#0000ff"/>
<rect x="97.17" y="482.65" width="6.11" height="5.46" fill="#0000ff"/>
<rect x="103.78" y="482.65" width="6.11" height="5.46" fill="#0000f3"/>
<rect x="110.39" y="482.65" width="6.11" height="5.46" fill="#0000f3"/>
<rect x="117.01" y="482.65" width="6.11" height="5.46" fill="#0000f3"/>
<rect x="123.62" y="482.65" width="6.11" height="5.46" fill="#494900"/>
<rect x="130.23" y="482.65" width="6.11" height="5.46" fill="#565600"/>
<rect x="136.84" y="482.65" width="6.11" height="5.46" fill="#494900"/>
<text x="145.80" y="488.55" font-size="6.6" text-anchor="start" fill="#000" transform="rotate(0.05 145.80 488.55)" stroke="#000" stroke-width="0.18">OAS1B</text>
<rect x="24.45" y="488.61" width="6.11" height="5.46" fill="#0000e8"/>
<rect x="31.06" y="488.61" width="6.11" height="5.46" fill="#0000e8"/>
<rect x="37.67" y="488.61" width="6.11" height="5.46" fill="#0000e8"/>
<rect x="44.28" y="488.61" width="6.11" height="5.46" fill="#0000e8"/>
<rect x="50.89" y="488.61" width="6.11" height="5.46" fill="#0000e8"/>
<rect x="57.51" y="488.61" width="6.11" height="5.46" fill="#0000e8"/>
<rect x="64.12" y="488.61" width="6.11" height="5.46" fill="#494900"/>
<rect x="70.73" y="488.61" width="6.11" height="5.46" fill="#494900"/>
<rect x="77.34" y="488.61" width="6.11" height="5.46" fill="#565600"/>
<rect x="83.95" y="488.61" width="6.11" height="5.46" fill="#0000e8"/>
<rect x="90.56" y="488.61" width="6.11" height="5.46" fill="#0000e8"/>
<rect x="97.17" y="488.61" width="6.11" height="5.46" fill="#0000e8"/>
<rect x="103.78" y="488.61" width="6.11" height="5.46" fill="#0000d1"/>
<rect x="110.39" y="488.61" width="6.11" height="5.46" fill="#0000d1"/>
<rect x="117.01" y="488.61" width="6.11" height="5.46" fill="#0000b9"/>
<rect x="123.62" y="488.61" width="6.11" height="5.46" fill="#a1a100"/>
<rect x="130.23" y="488.61" width="6.11" height="5.46" fill="#adad00"/>
<rect x="136.84" y="488.61" width="6.11" height="5.46" fill="#a1a100"/>
<text x="145.80" y="494.52" font-size="6.6" text-anchor="start" fill="#000" transform="rotate(0.05 145.80 494.52)" stroke="#000" stroke-width="0.18">OAS2</text>
<rect x="24.45" y="494.57" width="6.11" height="5.46" fill="#000070"/>
<rect x="31.06" y="494.57" width="6.11" height="5.46" fill="#0000d1"/>
<rect x="37.67" y="494.57" width="6.11" height="5.46" fill="#0000d1"/>
<rect x="44.28" y="494.57" width="6.11" height="5.46" fill="#000089"/>
<rect x="50.89" y="494.57" width="6.11" height="5.46" fill="#0000a1"/>
<rect x="57.51" y="494.57" width="6.11" height="5.46" fill="#0000a1"/>
<rect x="64.12" y="494.57" width="6.11" height="5.46" fill="#7c7c00"/>
<rect x="70.73" y="494.57" width="6.11" height="5.46" fill="#7c7c00"/>
<rect x="77.34" y="494.57" width="6.11" height="5.46" fill="#707000"/>
<rect x="83.95" y="494.57" width="6.11" height="5.46" fill="#0000e8"/>
<rect x="90.56" y="494.57" width="6.11" height="5.46" fill="#0000e8"/>
<rect x="97.17" y="494.57" width="6.11" height="5.46" fill="#0000e8"/>
<rect x="103.78" y="494.57" width="6.11" height="5.46" fill="#0000d1"/>
<rect x="110.39" y="494.57" width="6.11" height="5.46" fill="#0000d1"/>
<rect x="117.01" y="494.57" width="6.11" height="5.46" fill="#0000d1"/>
<rect x="123.62" y="494.57" width="6.11" height="5.46" fill="#dcdc00"/>
<rect x="130.23" y="494.57" width="6.11" height="5.46" fill="#e8e800"/>
<rect x="136.84" y="494.57" width="6.11" height="5.46" fill="#d1d100"/>
<text x="145.80" y="500.48" font-size="6.6" text-anchor="start" fill="#000" transform="rotate(0.05 145.80 500.48)" stroke="#000" stroke-width="0.18">OAS3</text>
<rect x="24.45" y="500.54" width="6.11" height="5.46" fill="#2e2e00"/>
<rect x="31.06" y="500.54" width="6.11" height="5.46" fill="#000056"/>
<rect x="37.67" y="500.54" width="6.11" height="5.46" fill="#000089"/>
<rect x="44.28" y="500.54" width="6.11" height="5.46" fill="#ffff00"/>
<rect x="50.89" y="500.54" width="6.11" height="5.46" fill="#b9b900"/>
<rect x="57.51" y="500.54" width="6.11" height="5.46" fill="#d1d100"/>
<rect x="64.12" y="500.54" width="6.11" height="5.46" fill="#ffff00"/>
<rect x="70.73" y="500.54" width="6.11" height="5.46" fill="#ffff00"/>
<rect x="77.34" y="500.54" width="6.11" height="5.46" fill="#ffff00"/>
<rect x="83.95" y="500.54" width="6.11" height="5.46" fill="#0000ff"/>
<rect x="90.56" y="500.54" width="6.11" height="5.46" fill="#0000ff"/>
<rect x="97.17" y="500.54" width="6.11" height="5.46" fill="#0000ff"/>
<rect x="103.78" y="500.54" width="6.11" height="5.46" fill="#898900"/>
<rect x="110.39" y="500.54" width="6.11" height="5.46" fill="#636300"/>
<rect x="117.01" y="500.54" width="6.11" height="5.46" fill="#707000"/>
<rect x="123.62" y="500.54" width="6.11" height="5.46" fill="#ffff00"/>
<rect x="130.23" y="500.54" width="6.11" height="5.46" fill="#ffff00"/>
<rect x="136.84" y="500.54" width="6.11" height="5.46" fill="#ffff00"/>
<text x="145.80" y="506.44" font-size="6.6" text-anchor="start" fill="#000" transform="rotate(0.05 145.80 506.44)" stroke="#000" stroke-width="0.18">OASL1</text>
<rect x="24.45" y="506.50" width="6.11" height="5.46" fill="#0000a1"/>
<rect x="31.06" y="506.50" width="6.11" height="5.46" fill="#0000d1"/>
<rect x="37.67" y="506.50" width="6.11" height="5.46" fill="#0000d1"/>
<rect x="44.28" y="506.50" width="6.11" height="5.46" fill="#000070"/>
<rect x="50.89" y="506.50" width="6.11" height="5.46" fill="#000000"/>
<rect x="57.51" y="506.50" width="6.11" height="5.46" fill="#000056"/>
<rect x="64.12" y="506.50" width="6.11" height="5.46" fill="#b9b900"/>
<rect x="70.73" y="506.50" width="6.11" height="5.46" fill="#c5c500"/>
<rect x="77.34" y="506.50" width="6.11" height="5.46" fill="#e8e800"/>
<rect x="83.95" y="506.50" width="6.11" height="5.46" fill="#0000a1"/>
<rect x="90.56" y="506.50" width="6.11" height="5.46" fill="#0000b9"/>
<rect x="97.17" y="506.50" width="6.11" height="5.46" fill="#0000b9"/>
<rect x="103.78" y="506.50" width="6.11" height="5.46" fill="#565600"/>
<rect x="110.39" y="506.50" width="6.11" height="5.46" fill="#3c3c00"/>
<rect x="117.01" y="506.50" width="6.11" height="5.46" fill="#3c3c00"/>
<rect x="123.62" y="506.50" width="6.11" height="5.46" fill="#ffff00"/>
<rect x="130.23" y="506.50" width="6.11" height="5.46" fill="#ffff00"/>
<rect x="136.84" y="506.50" width="6.11" height="5.46" fill="#ffff00"/>
<text x="145.80" y="512.41" font-size="6.6" text-anchor="start" fill="#000" transform="rotate(0.05 145.80 512.41)" stroke="#000" stroke-width="0.18">OASL2</text>
<rect x="24.45" y="512.46" width="6.11" height="5.46" fill="#2e2e00"/>
<rect x="31.06" y="512.46" width="6.11" height="5.46" fill="#202000"/>
<rect x="37.67" y="512.46" width="6.11" height="5.46" fill="#202000"/>
<rect x="44.28" y="512.46" width="6.11" height="5.46" fill="#565600"/>
<rect x="50.89" y="512.46" width="6.11" height="5.46" fill="#2e2e00"/>
<rect x="57.51" y="512.46" width="6.11" height="5.46" fill="#2e2e00"/>
<rect x="64.12" y="512.46" width="6.11" height="5.46" fill="#adad00"/>
<rect x="70.73" y="512.46" width="6.11" height="5.46" fill="#c5c500"/>
<rect x="77.34" y="512.46" width="6.11" height="5.46" fill="#d1d100"/>
<rect x="83.95" y="512.46" width="6.11" height="5.46" fill="#111100"/>
<rect x="90.56" y="512.46" width="6.11" height="5.46" fill="#111100"/>
<rect x="97.17" y="512.46" width="6.11" height="5.46" fill="#000000"/>
<rect x="103.78" y="512.46" width="6.11" height="5.46" fill="#494900"/>
<rect x="110.39" y="512.46" width="6.11" height="5.46" fill="#2e2e00"/>
<rect x="117.01" y="512.46" width="6.11" height="5.46" fill="#3c3c00"/>
<rect x="123.62" y="512.46" width="6.11" height="5.46" fill="#ffff00"/>
<rect x="130.23" y="512.46" width="6.11" height="5.46" fill="#ffff00"/>
<rect x="136.84" y="512.46" width="6.11" height="5.46" fill="#ffff00"/>
<text x="145.80" y="518.37" font-size="6.6" text-anchor="start" fill="#000" transform="rotate(0.05 145.80 518.37)" stroke="#000" stroke-width="0.18">PARP12</text>
<rect x="24.45" y="518.42" width="6.11" height="5.46" fill="#0000d1"/>
<rect x="31.06" y="518.42" width="6.11" height="5.46" fill="#0000e8"/>
<rect x="37.67" y="518.42" width="6.11" height="5.46" fill="#0000ff"/>
<rect x="44.28" y="518.42" width="6.11" height="5.46" fill="#ffff00"/>
<rect x="50.89" y="518.42" width="6.11" height="5.46" fill="#ffff00"/>
<rect x="57.51" y="518.42" width="6.11" height="5.46" fill="#ffff00"/>
<rect x="64.12" y="518.42" width="6.11" height="5.46" fill="#ffff00"/>
<rect x="70.73" y="518.42" width="6.11" height="5.46" fill="#ffff00"/>
<rect x="77.34" y="518.42" width="6.11" height="5.46" fill="#ffff00"/>
<rect x="83.95" y="518.42" width="6.11" height="5.46" fill="#565600"/>
<rect x="90.56" y="518.42" width="6.11" height="5.46" fill="#707000"/>
<rect x="97.17" y="518.42" width="6.11" height="5.46" fill="#565600"/>
<rect x="103.78" y="518.42" width="6.11" height="5.46" fill="#ffff00"/>
<rect x="110.39" y="518.42" width="6.11" height="5.46" fill="#ffff00"/>
<rect x="117.01" y="518.42" width="6.11" height="5.46" fill="#ffff00"/>
<rect x="123.62" y="518.42" width="6.11" height="5.46" fill="#ffff00"/>
<rect x="130.23" y="518.42" width="6.11" height="5.46" fill="#ffff00"/>
<rect x="136.84" y="518.42" width="6.11" height="5.46" fill="#ffff00"/>
<text x="145.80" y="524.33" font-size="6.6" text-anchor="start" fill="#000" transform="rotate(0.05 145.80 524.33)" stroke="#000" stroke-width="0.18">SAA3</text>
<rect x="24.45" y="524.39" width="6.11" height="5.46" fill="#707000"/>
<rect x="31.06" y="524.39" width="6.11" height="5.46" fill="#7c7c00"/>
<rect x="37.67" y="524.39" width="6.11" height="5.46" fill="#898900"/>
<rect x="44.28" y="524.39" width="6.11" height="5.46" fill="#ffff00"/>
<rect x="50.89" y="524.39" width="6.11" height="5.46" fill="#ffff00"/>
<rect x="57.51" y="524.39" width="6.11" height="5.46" fill="#ffff00"/>
<rect x="64.12" y="524.39" width="6.11" height="5.46" fill="#ffff00"/>
<rect x="70.73" y="524.39" width="6.11" height="5.46" fill="#ffff00"/>
<rect x="77.34" y="524.39" width="6.11" height="5.46" fill="#ffff00"/>
<rect x="83.95" y="524.39" width="6.11" height="5.46" fill="#898900"/>
<rect x="90.56" y="524.39" width="6.11" height="5.46" fill="#959500"/>
<rect x="97.17" y="524.39" width="6.11" height="5.46" fill="#898900"/>
<rect x="103.78" y="524.39" width="6.11" height="5.46" fill="#ffff00"/>
<rect x="110.39" y="524.39" width="6.11" height="5.46" fill="#ffff00"/>
<rect x="117.01" y="524.39" width="6.11" height="5.46" fill="#ffff00"/>
<rect x="123.62" y="524.39" width="6.11" height="5.46" fill="#ffff00"/>
<rect x="130.23" y="524.39" width="6.11" height="5.46" fill="#ffff00"/>
<rect x="136.84" y="524.39" width="6.11" height="5.46" fill="#ffff00"/>
<text x="145.80" y="530.29" font-size="6.6" text-anchor="start" fill="#000" transform="rotate(0.05 145.80 530.29)" stroke="#000" stroke-width="0.18">SOD2</text>
<rect x="24.20" y="530.80" width="119.00" height="41.30" fill="#000"/>
<rect x="24.45" y="531.05" width="6.11" height="5.40" fill="#0000d1"/>
<rect x="31.06" y="531.05" width="6.11" height="5.40" fill="#0000b9"/>
<rect x="37.67" y="531.05" width="6.11" height="5.40" fill="#0000b9"/>
<rect x="44.28" y="531.05" width="6.11" height="5.40" fill="#0000d1"/>
<rect x="50.89" y="531.05" width="6.11" height="5.40" fill="#0000b9"/>
<rect x="57.51" y="531.05" width="6.11" height="5.40" fill="#0000b9"/>
<rect x="64.12" y="531.05" width="6.11" height="5.40" fill="#0000a1"/>
<rect x="70.73" y="531.05" width="6.11" height="5.40" fill="#0000a1"/>
<rect x="77.34" y="531.05" width="6.11" height="5.40" fill="#000089"/>
<rect x="83.95" y="531.05" width="6.11" height="5.40" fill="#0000e8"/>
<rect x="90.56" y="531.05" width="6.11" height="5.40" fill="#0000e8"/>
<rect x="97.17" y="531.05" width="6.11" height="5.40" fill="#0000e8"/>
<rect x="103.78" y="531.05" width="6.11" height="5.40" fill="#0000d1"/>
<rect x="110.39" y="531.05" width="6.11" height="5.40" fill="#0000d1"/>
<rect x="117.01" y="531.05" width="6.11" height="5.40" fill="#0000b9"/>
<rect x="123.62" y="531.05" width="6.11" height="5.40" fill="#000056"/>
<rect x="130.23" y="531.05" width="6.11" height="5.40" fill="#000056"/>
<rect x="136.84" y="531.05" width="6.11" height="5.40" fill="#000000"/>
<text x="145.80" y="536.83" font-size="6.6" text-anchor="start" fill="#000" transform="rotate(0.05 145.80 536.83)" stroke="#000" stroke-width="0.18">TLR1</text>
<rect x="24.45" y="536.95" width="6.11" height="5.40" fill="#ffff00"/>
<rect x="31.06" y="536.95" width="6.11" height="5.40" fill="#ffff00"/>
<rect x="37.67" y="536.95" width="6.11" height="5.40" fill="#ffff00"/>
<rect x="44.28" y="536.95" width="6.11" height="5.40" fill="#ffff00"/>
<rect x="50.89" y="536.95" width="6.11" height="5.40" fill="#ffff00"/>
<rect x="57.51" y="536.95" width="6.11" height="5.40" fill="#ffff00"/>
<rect x="64.12" y="536.95" width="6.11" height="5.40" fill="#ffff00"/>
<rect x="70.73" y="536.95" width="6.11" height="5.40" fill="#ffff00"/>
<rect x="77.34" y="536.95" width="6.11" height="5.40" fill="#ffff00"/>
<rect x="83.95" y="536.95" width="6.11" height="5.40" fill="#c5c500"/>
<rect x="90.56" y="536.95" width="6.11" height="5.40" fill="#adad00"/>
<rect x="97.17" y="536.95" width="6.11" height="5.40" fill="#d1d100"/>
<rect x="103.78" y="536.95" width="6.11" height="5.40" fill="#ffff00"/>
<rect x="110.39" y="536.95" width="6.11" height="5.40" fill="#ffff00"/>
<rect x="117.01" y="536.95" width="6.11" height="5.40" fill="#ffff00"/>
<rect x="123.62" y="536.95" width="6.11" height="5.40" fill="#ffff00"/>
<rect x="130.23" y="536.95" width="6.11" height="5.40" fill="#ffff00"/>
<rect x="136.84" y="536.95" width="6.11" height="5.40" fill="#ffff00"/>
<text x="145.80" y="542.73" font-size="6.6" text-anchor="start" fill="#000" transform="rotate(0.05 145.80 542.73)" stroke="#000" stroke-width="0.18">TLR2</text>
<rect x="24.45" y="542.85" width="6.11" height="5.40" fill="#0000ff"/>
<rect x="31.06" y="542.85" width="6.11" height="5.40" fill="#0000e8"/>
<rect x="37.67" y="542.85" width="6.11" height="5.40" fill="#0000e8"/>
<rect x="44.28" y="542.85" width="6.11" height="5.40" fill="#0000e8"/>
<rect x="50.89" y="542.85" width="6.11" height="5.40" fill="#0000e8"/>
<rect x="57.51" y="542.85" width="6.11" height="5.40" fill="#0000e8"/>
<rect x="64.12" y="542.85" width="6.11" height="5.40" fill="#111100"/>
<rect x="70.73" y="542.85" width="6.11" height="5.40" fill="#111100"/>
<rect x="77.34" y="542.85" width="6.11" height="5.40" fill="#2e2e00"/>
<rect x="83.95" y="542.85" width="6.11" height="5.40" fill="#0000a1"/>
<rect x="90.56" y="542.85" width="6.11" height="5.40" fill="#000089"/>
<rect x="97.17" y="542.85" width="6.11" height="5.40" fill="#0000d1"/>
<rect x="103.78" y="542.85" width="6.11" height="5.40" fill="#0000a1"/>
<rect x="110.39" y="542.85" width="6.11" height="5.40" fill="#0000a1"/>
<rect x="117.01" y="542.85" width="6.11" height="5.40" fill="#000089"/>
<rect x="123.62" y="542.85" width="6.11" height="5.40" fill="#e8e800"/>
<rect x="130.23" y="542.85" width="6.11" height="5.40" fill="#ffff00"/>
<rect x="136.84" y="542.85" width="6.11" height="5.40" fill="#f3f300"/>
<text x="145.80" y="548.63" font-size="6.6" text-anchor="start" fill="#000" transform="rotate(0.05 145.80 548.63)" stroke="#000" stroke-width="0.18">TLR3</text>
<rect x="24.45" y="548.75" width="6.11" height="5.40" fill="#0000a1"/>
<rect x="31.06" y="548.75" width="6.11" height="5.40" fill="#000056"/>
<rect x="37.67" y="548.75" width="6.11" height="5.40" fill="#000056"/>
<rect x="44.28" y="548.75" width="6.11" height="5.40" fill="#000070"/>
<rect x="50.89" y="548.75" width="6.11" height="5.40" fill="#111100"/>
<rect x="57.51" y="548.75" width="6.11" height="5.40" fill="#000000"/>
<rect x="64.12" y="548.75" width="6.11" height="5.40" fill="#111100"/>
<rect x="70.73" y="548.75" width="6.11" height="5.40" fill="#202000"/>
<rect x="77.34" y="548.75" width="6.11" height="5.40" fill="#202000"/>
<rect x="83.95" y="548.75" width="6.11" height="5.40" fill="#2e2e00"/>
<rect x="90.56" y="548.75" width="6.11" height="5.40" fill="#202000"/>
<rect x="97.17" y="548.75" width="6.11" height="5.40" fill="#2e2e00"/>
<rect x="103.78" y="548.75" width="6.11" height="5.40" fill="#2e2e00"/>
<rect x="110.39" y="548.75" width="6.11" height="5.40" fill="#000000"/>
<rect x="117.01" y="548.75" width="6.11" height="5.40" fill="#2e2e00"/>
<rect x="123.62" y="548.75" width="6.11" height="5.40" fill="#898900"/>
<rect x="130.23" y="548.75" width="6.11" height="5.40" fill="#959500"/>
<rect x="136.84" y="548.75" width="6.11" height="5.40" fill="#a1a100"/>
<text x="145.80" y="554.53" font-size="6.6" text-anchor="start" fill="#000" transform="rotate(0.05 145.80 554.53)" stroke="#000" stroke-width="0.18">USP12</text>
<rect x="24.45" y="554.65" width="6.11" height="5.40" fill="#000089"/>
<rect x="31.06" y="554.65" width="6.11" height="5.40" fill="#0000b9"/>
<rect x="37.67" y="554.65" width="6.11" height="5.40" fill="#0000d1"/>
<rect x="44.28" y="554.65" width="6.11" height="5.40" fill="#000070"/>
<rect x="50.89" y="554.65" width="6.11" height="5.40" fill="#000089"/>
<rect x="57.51" y="554.65" width="6.11" height="5.40" fill="#0000a1"/>
<rect x="64.12" y="554.65" width="6.11" height="5.40" fill="#ffff00"/>
<rect x="70.73" y="554.65" width="6.11" height="5.40" fill="#ffff00"/>
<rect x="77.34" y="554.65" width="6.11" height="5.40" fill="#ffff00"/>
<rect x="83.95" y="554.65" width="6.11" height="5.40" fill="#0000e8"/>
<rect x="90.56" y="554.65" width="6.11" height="5.40" fill="#0000e8"/>
<rect x="97.17" y="554.65" width="6.11" height="5.40" fill="#0000ff"/>
<rect x="103.78" y="554.65" width="6.11" height="5.40" fill="#3c3c00"/>
<rect x="110.39" y="554.65" width="6.11" height="5.40" fill="#000000"/>
<rect x="117.01" y="554.65" width="6.11" height="5.40" fill="#2e2e00"/>
<rect x="123.62" y="554.65" width="6.11" height="5.40" fill="#ffff00"/>
<rect x="130.23" y="554.65" width="6.11" height="5.40" fill="#ffff00"/>
<rect x="136.84" y="554.65" width="6.11" height="5.40" fill="#ffff00"/>
<text x="145.80" y="560.43" font-size="6.6" text-anchor="start" fill="#000" transform="rotate(0.05 145.80 560.43)" stroke="#000" stroke-width="0.18">USP18</text>
<rect x="24.45" y="560.55" width="6.11" height="5.40" fill="#0000d1"/>
<rect x="31.06" y="560.55" width="6.11" height="5.40" fill="#000070"/>
<rect x="37.67" y="560.55" width="6.11" height="5.40" fill="#000070"/>
<rect x="44.28" y="560.55" width="6.11" height="5.40" fill="#0000d1"/>
<rect x="50.89" y="560.55" width="6.11" height="5.40" fill="#000000"/>
<rect x="57.51" y="560.55" width="6.11" height="5.40" fill="#000089"/>
<rect x="64.12" y="560.55" width="6.11" height="5.40" fill="#000020"/>
<rect x="70.73" y="560.55" width="6.11" height="5.40" fill="#111100"/>
<rect x="77.34" y="560.55" width="6.11" height="5.40" fill="#202000"/>
<rect x="83.95" y="560.55" width="6.11" height="5.40" fill="#000000"/>
<rect x="90.56" y="560.55" width="6.11" height="5.40" fill="#000000"/>
<rect x="97.17" y="560.55" width="6.11" height="5.40" fill="#000000"/>
<rect x="103.78" y="560.55" width="6.11" height="5.40" fill="#202000"/>
<rect x="110.39" y="560.55" width="6.11" height="5.40" fill="#111100"/>
<rect x="117.01" y="560.55" width="6.11" height="5.40" fill="#111100"/>
<rect x="123.62" y="560.55" width="6.11" height="5.40" fill="#a1a100"/>
<rect x="130.23" y="560.55" width="6.11" height="5.40" fill="#a1a100"/>
<rect x="136.84" y="560.55" width="6.11" height="5.40" fill="#b9b900"/>
<text x="145.80" y="566.33" font-size="6.6" text-anchor="start" fill="#000" transform="rotate(0.05 145.80 566.33)" stroke="#000" stroke-width="0.18">USP25</text>
<rect x="24.45" y="566.45" width="6.11" height="5.40" fill="#0000ff"/>
<rect x="31.06" y="566.45" width="6.11" height="5.40" fill="#0000ff"/>
<rect x="37.67" y="566.45" width="6.11" height="5.40" fill="#0000ff"/>
<rect x="44.28" y="566.45" width="6.11" height="5.40" fill="#0000e8"/>
<rect x="50.89" y="566.45" width="6.11" height="5.40" fill="#0000ff"/>
<rect x="57.51" y="566.45" width="6.11" height="5.40" fill="#0000e8"/>
<rect x="64.12" y="566.45" width="6.11" height="5.40" fill="#111100"/>
<rect x="70.73" y="566.45" width="6.11" height="5.40" fill="#111100"/>
<rect x="77.34" y="566.45" width="6.11" height="5.40" fill="#111100"/>
<rect x="83.95" y="566.45" width="6.11" height="5.40" fill="#0000e8"/>
<rect x="90.56" y="566.45" width="6.11" height="5.40" fill="#0000e8"/>
<rect x="97.17" y="566.45" width="6.11" height="5.40" fill="#0000e8"/>
<rect x="103.78" y="566.45" width="6.11" height="5.40" fill="#000089"/>
<rect x="110.39" y="566.45" width="6.11" height="5.40" fill="#0000d1"/>
<rect x="117.01" y="566.45" width="6.11" height="5.40" fill="#000089"/>
<rect x="123.62" y="566.45" width="6.11" height="5.40" fill="#ffff00"/>
<rect x="130.23" y="566.45" width="6.11" height="5.40" fill="#ffff00"/>
<rect x="136.84" y="566.45" width="6.11" height="5.40" fill="#ffff00"/>
<text x="145.80" y="572.23" font-size="6.6" text-anchor="start" fill="#000" transform="rotate(0.05 145.80 572.23)" stroke="#000" stroke-width="0.18">ZBP1</text>
<text x="20.60" y="157.40" font-size="8.7" font-weight="bold" text-anchor="middle" fill="#000" transform="rotate(-90 20.60 157.40)">Cytokines</text>
<text x="20.60" y="277.50" font-size="8.5" font-weight="bold" text-anchor="middle" fill="#000" transform="rotate(-90 20.60 277.50)">Chemokines</text>
<text x="20.30" y="439.00" font-size="9.3" font-weight="bold" text-anchor="middle" fill="#000" transform="rotate(-90 20.30 439.00)">Interferon response genes</text>
<path d="M21.0 77.5 H15.3 Q11.8 77.5 11.8 81.0 V151.6 Q11.8 153.8 9.8 153.8 H1.0 M9.8 153.8 Q11.8 153.8 11.8 156.0 V228.5 Q11.8 232.0 15.3 232.0 H21.0" fill="none" stroke="#5b9bd5" stroke-width="0.9"/>
<path d="M21.0 236.0 H15.3 Q11.8 236.0 11.8 239.5 V275.1 Q11.8 277.3 9.8 277.3 H1.0 M9.8 277.3 Q11.8 277.3 11.8 279.5 V315.5 Q11.8 319.0 15.3 319.0 H21.0" fill="none" stroke="#5b9bd5" stroke-width="0.9"/>
<path d="M21.0 322.2 H14.8 Q11.3 322.2 11.3 325.7 V433.5 Q11.3 435.7 9.3 435.7 H1.0 M9.3 435.7 Q11.3 435.7 11.3 437.9 V568.5 Q11.3 572.0 14.8 572.0 H21.0" fill="none" stroke="#5b9bd5" stroke-width="0.9"/>
<defs><linearGradient id="ga" x1="0" x2="1" y1="0" y2="0"><stop offset="0" stop-color="#0000ff"/><stop offset="0.5" stop-color="#000"/><stop offset="1" stop-color="#ffff00"/></linearGradient></defs>
<rect x="28.10" y="576.00" width="108.50" height="4.50" fill="url(#ga)"/>
<text x="0" y="0" font-size="5.6" text-anchor="start" fill="#222" transform="translate(28.10 588.70) scale(0.55 1)">0.0</text>
<text x="0" y="0" font-size="5.6" text-anchor="middle" fill="#222" transform="translate(82.80 588.70) scale(0.55 1)">10.0</text>
<text x="0" y="0" font-size="5.6" text-anchor="end" fill="#222" transform="translate(136.80 588.70) scale(0.55 1)">20.0</text>
<text x="182.20" y="18.40" font-size="19" font-weight="bold" text-anchor="start" fill="#000">b</text>
<text x="266.80" y="21.30" font-size="11.35" font-weight="bold" text-anchor="middle" fill="#000">Unique transcripts in PM</text>
<line x1="198.60" y1="29.50" x2="335.80" y2="29.50" stroke="#000" stroke-width="1.4"/>
<text x="217.02" y="75.50" font-size="8" font-weight="bold" text-anchor="start" fill="#000" transform="rotate(-40 217.02 75.50)">Cont_BV2</text>
<text x="236.65" y="75.50" font-size="8" font-weight="bold" text-anchor="start" fill="#000" transform="rotate(-40 236.65 75.50)">LPS 2 h_BV2</text>
<text x="256.28" y="75.50" font-size="8" font-weight="bold" text-anchor="start" fill="#000" transform="rotate(-40 256.28 75.50)">LPS 4 h_BV2</text>
<text x="275.92" y="75.50" font-size="8" font-weight="bold" text-anchor="start" fill="#000" transform="rotate(-40 275.92 75.50)">Cont_PM</text>
<text x="295.55" y="75.50" font-size="8" font-weight="bold" text-anchor="start" fill="#000" transform="rotate(-40 295.55 75.50)">LPS 2 h_PM</text>
<text x="315.18" y="75.50" font-size="8" font-weight="bold" text-anchor="start" fill="#000" transform="rotate(-40 315.18 75.50)">LPS 4 h_PM</text>
<rect x="205.70" y="78.70" width="117.80" height="72.20" fill="#000"/>
<rect x="205.95" y="78.95" width="6.04" height="6.72" fill="#0000ff"/>
<rect x="212.49" y="78.95" width="6.04" height="6.72" fill="#0000ff"/>
<rect x="219.04" y="78.95" width="6.04" height="6.72" fill="#0000ff"/>
<rect x="225.58" y="78.95" width="6.04" height="6.72" fill="#0000e8"/>
<rect x="232.13" y="78.95" width="6.04" height="6.72" fill="#202000"/>
<rect x="238.67" y="78.95" width="6.04" height="6.72" fill="#000056"/>
<rect x="245.22" y="78.95" width="6.04" height="6.72" fill="#0000a1"/>
<rect x="251.76" y="78.95" width="6.04" height="6.72" fill="#0000a1"/>
<rect x="258.31" y="78.95" width="6.04" height="6.72" fill="#0000b9"/>
<rect x="264.85" y="78.95" width="6.04" height="6.72" fill="#0000e8"/>
<rect x="271.39" y="78.95" width="6.04" height="6.72" fill="#0000e8"/>
<rect x="277.94" y="78.95" width="6.04" height="6.72" fill="#0000e8"/>
<rect x="284.48" y="78.95" width="6.04" height="6.72" fill="#ffff00"/>
<rect x="291.03" y="78.95" width="6.04" height="6.72" fill="#ffff00"/>
<rect x="297.57" y="78.95" width="6.04" height="6.72" fill="#e8e800"/>
<rect x="304.12" y="78.95" width="6.04" height="6.72" fill="#ffff00"/>
<rect x="310.66" y="78.95" width="6.04" height="6.72" fill="#ffff00"/>
<rect x="317.21" y="78.95" width="6.04" height="6.72" fill="#ffff00"/>
<text x="325.60" y="85.99" font-size="6.6" text-anchor="start" fill="#000" transform="rotate(0.05 325.60 85.99)" stroke="#000" stroke-width="0.18">IL12B</text>
<rect x="205.95" y="86.17" width="6.04" height="6.72" fill="#0000ff"/>
<rect x="212.49" y="86.17" width="6.04" height="6.72" fill="#0000ff"/>
<rect x="219.04" y="86.17" width="6.04" height="6.72" fill="#0000ff"/>
<rect x="225.58" y="86.17" width="6.04" height="6.72" fill="#000056"/>
<rect x="232.13" y="86.17" width="6.04" height="6.72" fill="#111100"/>
<rect x="238.67" y="86.17" width="6.04" height="6.72" fill="#000070"/>
<rect x="245.22" y="86.17" width="6.04" height="6.72" fill="#0000b9"/>
<rect x="251.76" y="86.17" width="6.04" height="6.72" fill="#000070"/>
<rect x="258.31" y="86.17" width="6.04" height="6.72" fill="#000000"/>
<rect x="264.85" y="86.17" width="6.04" height="6.72" fill="#0000d1"/>
<rect x="271.39" y="86.17" width="6.04" height="6.72" fill="#0000e8"/>
<rect x="277.94" y="86.17" width="6.04" height="6.72" fill="#0000e8"/>
<rect x="284.48" y="86.17" width="6.04" height="6.72" fill="#e8e800"/>
<rect x="291.03" y="86.17" width="6.04" height="6.72" fill="#b9b900"/>
<rect x="297.57" y="86.17" width="6.04" height="6.72" fill="#d1d100"/>
<rect x="304.12" y="86.17" width="6.04" height="6.72" fill="#ffff00"/>
<rect x="310.66" y="86.17" width="6.04" height="6.72" fill="#f3f300"/>
<rect x="317.21" y="86.17" width="6.04" height="6.72" fill="#ffff00"/>
<text x="325.60" y="93.21" font-size="6.6" text-anchor="start" fill="#000" transform="rotate(0.05 325.60 93.21)" stroke="#000" stroke-width="0.18">IL1BOS</text>
<rect x="205.95" y="93.39" width="6.04" height="6.72" fill="#2e2e00"/>
<rect x="212.49" y="93.39" width="6.04" height="6.72" fill="#3c3c00"/>
<rect x="219.04" y="93.39" width="6.04" height="6.72" fill="#494900"/>
<rect x="225.58" y="93.39" width="6.04" height="6.72" fill="#636300"/>
<rect x="232.13" y="93.39" width="6.04" height="6.72" fill="#111100"/>
<rect x="238.67" y="93.39" width="6.04" height="6.72" fill="#565600"/>
<rect x="245.22" y="93.39" width="6.04" height="6.72" fill="#0000b9"/>
<rect x="251.76" y="93.39" width="6.04" height="6.72" fill="#0000e8"/>
<rect x="258.31" y="93.39" width="6.04" height="6.72" fill="#0000d1"/>
<rect x="264.85" y="93.39" width="6.04" height="6.72" fill="#2e2e00"/>
<rect x="271.39" y="93.39" width="6.04" height="6.72" fill="#3c3c00"/>
<rect x="277.94" y="93.39" width="6.04" height="6.72" fill="#565600"/>
<rect x="284.48" y="93.39" width="6.04" height="6.72" fill="#898900"/>
<rect x="291.03" y="93.39" width="6.04" height="6.72" fill="#111100"/>
<rect x="297.57" y="93.39" width="6.04" height="6.72" fill="#707000"/>
<rect x="304.12" y="93.39" width="6.04" height="6.72" fill="#ffff00"/>
<rect x="310.66" y="93.39" width="6.04" height="6.72" fill="#ffff00"/>
<rect x="317.21" y="93.39" width="6.04" height="6.72" fill="#ffff00"/>
<text x="325.60" y="100.43" font-size="6.6" text-anchor="start" fill="#000" transform="rotate(0.05 325.60 100.43)" stroke="#000" stroke-width="0.18">IL18BP</text>
<rect x="205.95" y="100.61" width="6.04" height="6.72" fill="#0000ff"/>
<rect x="212.49" y="100.61" width="6.04" height="6.72" fill="#0000ff"/>
<rect x="219.04" y="100.61" width="6.04" height="6.72" fill="#0000ff"/>
<rect x="225.58" y="100.61" width="6.04" height="6.72" fill="#0000ff"/>
<rect x="232.13" y="100.61" width="6.04" height="6.72" fill="#0000f3"/>
<rect x="238.67" y="100.61" width="6.04" height="6.72" fill="#0000e8"/>
<rect x="245.22" y="100.61" width="6.04" height="6.72" fill="#0000e8"/>
<rect x="251.76" y="100.61" width="6.04" height="6.72" fill="#0000e8"/>
<rect x="258.31" y="100.61" width="6.04" height="6.72" fill="#0000e8"/>
<rect x="264.85" y="100.61" width="6.04" height="6.72" fill="#0000e8"/>
<rect x="271.39" y="100.61" width="6.04" height="6.72" fill="#0000e8"/>
<rect x="277.94" y="100.61" width="6.04" height="6.72" fill="#0000e8"/>
<rect x="284.48" y="100.61" width="6.04" height="6.72" fill="#0000d1"/>
<rect x="291.03" y="100.61" width="6.04" height="6.72" fill="#0000d1"/>
<rect x="297.57" y="100.61" width="6.04" height="6.72" fill="#000056"/>
<rect x="304.12" y="100.61" width="6.04" height="6.72" fill="#2e2e00"/>
<rect x="310.66" y="100.61" width="6.04" height="6.72" fill="#3c3c00"/>
<rect x="317.21" y="100.61" width="6.04" height="6.72" fill="#111100"/>
<text x="325.60" y="107.65" font-size="6.6" text-anchor="start" fill="#000" transform="rotate(0.05 325.60 107.65)" stroke="#000" stroke-width="0.18">IL19</text>
<rect x="205.95" y="107.83" width="6.04" height="6.72" fill="#0000ff"/>
<rect x="212.49" y="107.83" width="6.04" height="6.72" fill="#0000ff"/>
<rect x="219.04" y="107.83" width="6.04" height="6.72" fill="#0000ff"/>
<rect x="225.58" y="107.83" width="6.04" height="6.72" fill="#000056"/>
<rect x="232.13" y="107.83" width="6.04" height="6.72" fill="#000070"/>
<rect x="238.67" y="107.83" width="6.04" height="6.72" fill="#000070"/>
<rect x="245.22" y="107.83" width="6.04" height="6.72" fill="#0000b9"/>
<rect x="251.76" y="107.83" width="6.04" height="6.72" fill="#0000b9"/>
<rect x="258.31" y="107.83" width="6.04" height="6.72" fill="#0000b9"/>
<rect x="264.85" y="107.83" width="6.04" height="6.72" fill="#0000e8"/>
<rect x="271.39" y="107.83" width="6.04" height="6.72" fill="#0000e8"/>
<rect x="277.94" y="107.83" width="6.04" height="6.72" fill="#0000e8"/>
<rect x="284.48" y="107.83" width="6.04" height="6.72" fill="#111100"/>
<rect x="291.03" y="107.83" width="6.04" height="6.72" fill="#000056"/>
<rect x="297.57" y="107.83" width="6.04" height="6.72" fill="#000070"/>
<rect x="304.12" y="107.83" width="6.04" height="6.72" fill="#a1a100"/>
<rect x="310.66" y="107.83" width="6.04" height="6.72" fill="#7c7c00"/>
<rect x="317.21" y="107.83" width="6.04" height="6.72" fill="#898900"/>
<text x="325.60" y="114.87" font-size="6.6" text-anchor="start" fill="#000" transform="rotate(0.05 325.60 114.87)" stroke="#000" stroke-width="0.18">IL23A</text>
<rect x="205.95" y="115.05" width="6.04" height="6.72" fill="#0000ff"/>
<rect x="212.49" y="115.05" width="6.04" height="6.72" fill="#0000ff"/>
<rect x="219.04" y="115.05" width="6.04" height="6.72" fill="#0000ff"/>
<rect x="225.58" y="115.05" width="6.04" height="6.72" fill="#2e2e00"/>
<rect x="232.13" y="115.05" width="6.04" height="6.72" fill="#000056"/>
<rect x="238.67" y="115.05" width="6.04" height="6.72" fill="#000089"/>
<rect x="245.22" y="115.05" width="6.04" height="6.72" fill="#000056"/>
<rect x="251.76" y="115.05" width="6.04" height="6.72" fill="#000000"/>
<rect x="258.31" y="115.05" width="6.04" height="6.72" fill="#00003c"/>
<rect x="264.85" y="115.05" width="6.04" height="6.72" fill="#0000e8"/>
<rect x="271.39" y="115.05" width="6.04" height="6.72" fill="#0000e8"/>
<rect x="277.94" y="115.05" width="6.04" height="6.72" fill="#0000e8"/>
<rect x="284.48" y="115.05" width="6.04" height="6.72" fill="#ffff00"/>
<rect x="291.03" y="115.05" width="6.04" height="6.72" fill="#ffff00"/>
<rect x="297.57" y="115.05" width="6.04" height="6.72" fill="#ffff00"/>
<rect x="304.12" y="115.05" width="6.04" height="6.72" fill="#ffff00"/>
<rect x="310.66" y="115.05" width="6.04" height="6.72" fill="#ffff00"/>
<rect x="317.21" y="115.05" width="6.04" height="6.72" fill="#ffff00"/>
<text x="325.60" y="122.09" font-size="6.6" text-anchor="start" fill="#000" transform="rotate(0.05 325.60 122.09)" stroke="#000" stroke-width="0.18">IL27</text>
<rect x="205.95" y="122.27" width="6.04" height="6.72" fill="#0000ff"/>
<rect x="212.49" y="122.27" width="6.04" height="6.72" fill="#0000ff"/>
<rect x="219.04" y="122.27" width="6.04" height="6.72" fill="#0000ff"/>
<rect x="225.58" y="122.27" width="6.04" height="6.72" fill="#0000e8"/>
<rect x="232.13" y="122.27" width="6.04" height="6.72" fill="#0000b9"/>
<rect x="238.67" y="122.27" width="6.04" height="6.72" fill="#0000b9"/>
<rect x="245.22" y="122.27" width="6.04" height="6.72" fill="#0000e8"/>
<rect x="251.76" y="122.27" width="6.04" height="6.72" fill="#0000a1"/>
<rect x="258.31" y="122.27" width="6.04" height="6.72" fill="#0000a1"/>
<rect x="264.85" y="122.27" width="6.04" height="6.72" fill="#000000"/>
<rect x="271.39" y="122.27" width="6.04" height="6.72" fill="#000056"/>
<rect x="277.94" y="122.27" width="6.04" height="6.72" fill="#000089"/>
<rect x="284.48" y="122.27" width="6.04" height="6.72" fill="#ffff00"/>
<rect x="291.03" y="122.27" width="6.04" height="6.72" fill="#ffff00"/>
<rect x="297.57" y="122.27" width="6.04" height="6.72" fill="#ffff00"/>
<rect x="304.12" y="122.27" width="6.04" height="6.72" fill="#ffff00"/>
<rect x="310.66" y="122.27" width="6.04" height="6.72" fill="#ffff00"/>
<rect x="317.21" y="122.27" width="6.04" height="6.72" fill="#ffff00"/>
<text x="325.60" y="129.31" font-size="6.6" text-anchor="start" fill="#000" transform="rotate(0.05 325.60 129.31)" stroke="#000" stroke-width="0.18">TNFSF15</text>
<rect x="205.95" y="129.49" width="6.04" height="6.72" fill="#a1a100"/>
<rect x="212.49" y="129.49" width="6.04" height="6.72" fill="#ffff00"/>
<rect x="219.04" y="129.49" width="6.04" height="6.72" fill="#b9b900"/>
<rect x="225.58" y="129.49" width="6.04" height="6.72" fill="#b9b900"/>
<rect x="232.13" y="129.49" width="6.04" height="6.72" fill="#ffff00"/>
<rect x="238.67" y="129.49" width="6.04" height="6.72" fill="#b9b900"/>
<rect x="245.22" y="129.49" width="6.04" height="6.72" fill="#a1a100"/>
<rect x="251.76" y="129.49" width="6.04" height="6.72" fill="#707000"/>
<rect x="258.31" y="129.49" width="6.04" height="6.72" fill="#898900"/>
<rect x="264.85" y="129.49" width="6.04" height="6.72" fill="#ffff00"/>
<rect x="271.39" y="129.49" width="6.04" height="6.72" fill="#b9b900"/>
<rect x="277.94" y="129.49" width="6.04" height="6.72" fill="#e8e800"/>
<rect x="284.48" y="129.49" width="6.04" height="6.72" fill="#b9b900"/>
<rect x="291.03" y="129.49" width="6.04" height="6.72" fill="#e8e800"/>
<rect x="297.57" y="129.49" width="6.04" height="6.72" fill="#b9b900"/>
<rect x="304.12" y="129.49" width="6.04" height="6.72" fill="#ffff00"/>
<rect x="310.66" y="129.49" width="6.04" height="6.72" fill="#ffff00"/>
<rect x="317.21" y="129.49" width="6.04" height="6.72" fill="#ffff00"/>
<text x="325.60" y="136.53" font-size="6.6" text-anchor="start" fill="#000" transform="rotate(0.05 325.60 136.53)" stroke="#000" stroke-width="0.18">TNFRSF11A</text>
<rect x="205.95" y="136.71" width="6.04" height="6.72" fill="#494900"/>
<rect x="212.49" y="136.71" width="6.04" height="6.72" fill="#565600"/>
<rect x="219.04" y="136.71" width="6.04" height="6.72" fill="#565600"/>
<rect x="225.58" y="136.71" width="6.04" height="6.72" fill="#636300"/>
<rect x="232.13" y="136.71" width="6.04" height="6.72" fill="#494900"/>
<rect x="238.67" y="136.71" width="6.04" height="6.72" fill="#565600"/>
<rect x="245.22" y="136.71" width="6.04" height="6.72" fill="#565600"/>
<rect x="251.76" y="136.71" width="6.04" height="6.72" fill="#565600"/>
<rect x="258.31" y="136.71" width="6.04" height="6.72" fill="#3c3c00"/>
<rect x="264.85" y="136.71" width="6.04" height="6.72" fill="#000056"/>
<rect x="271.39" y="136.71" width="6.04" height="6.72" fill="#000056"/>
<rect x="277.94" y="136.71" width="6.04" height="6.72" fill="#000000"/>
<rect x="284.48" y="136.71" width="6.04" height="6.72" fill="#d1d100"/>
<rect x="291.03" y="136.71" width="6.04" height="6.72" fill="#b9b900"/>
<rect x="297.57" y="136.71" width="6.04" height="6.72" fill="#c5c500"/>
<rect x="304.12" y="136.71" width="6.04" height="6.72" fill="#ffff00"/>
<rect x="310.66" y="136.71" width="6.04" height="6.72" fill="#ffff00"/>
<rect x="317.21" y="136.71" width="6.04" height="6.72" fill="#ffff00"/>
<text x="325.60" y="143.75" font-size="6.6" text-anchor="start" fill="#000" transform="rotate(0.05 325.60 143.75)" stroke="#000" stroke-width="0.18">IRAK1BP1</text>
<rect x="205.95" y="143.93" width="6.04" height="6.72" fill="#0000b9"/>
<rect x="212.49" y="143.93" width="6.04" height="6.72" fill="#0000e8"/>
<rect x="219.04" y="143.93" width="6.04" height="6.72" fill="#0000e8"/>
<rect x="225.58" y="143.93" width="6.04" height="6.72" fill="#0000e8"/>
<rect x="232.13" y="143.93" width="6.04" height="6.72" fill="#00003c"/>
<rect x="238.67" y="143.93" width="6.04" height="6.72" fill="#0000a1"/>
<rect x="245.22" y="143.93" width="6.04" height="6.72" fill="#000000"/>
<rect x="251.76" y="143.93" width="6.04" height="6.72" fill="#000011"/>
<rect x="258.31" y="143.93" width="6.04" height="6.72" fill="#000020"/>
<rect x="264.85" y="143.93" width="6.04" height="6.72" fill="#0000b9"/>
<rect x="271.39" y="143.93" width="6.04" height="6.72" fill="#0000b9"/>
<rect x="277.94" y="143.93" width="6.04" height="6.72" fill="#0000b9"/>
<rect x="284.48" y="143.93" width="6.04" height="6.72" fill="#ffff00"/>
<rect x="291.03" y="143.93" width="6.04" height="6.72" fill="#e8e800"/>
<rect x="297.57" y="143.93" width="6.04" height="6.72" fill="#ffff00"/>
<rect x="304.12" y="143.93" width="6.04" height="6.72" fill="#ffff00"/>
<rect x="310.66" y="143.93" width="6.04" height="6.72" fill="#ffff00"/>
<rect x="317.21" y="143.93" width="6.04" height="6.72" fill="#ffff00"/>
<text x="325.60" y="150.97" font-size="6.6" text-anchor="start" fill="#000" transform="rotate(0.05 325.60 150.97)" stroke="#000" stroke-width="0.18">SOCS1</text>
<rect x="205.70" y="152.20" width="117.80" height="63.00" fill="#000"/>
<rect x="205.95" y="152.45" width="6.04" height="6.50" fill="#b9b900"/>
<rect x="212.49" y="152.45" width="6.04" height="6.50" fill="#f3f300"/>
<rect x="219.04" y="152.45" width="6.04" height="6.50" fill="#ffff00"/>
<rect x="225.58" y="152.45" width="6.04" height="6.50" fill="#b9b900"/>
<rect x="232.13" y="152.45" width="6.04" height="6.50" fill="#d1d100"/>
<rect x="238.67" y="152.45" width="6.04" height="6.50" fill="#c5c500"/>
<rect x="245.22" y="152.45" width="6.04" height="6.50" fill="#ffff00"/>
<rect x="251.76" y="152.45" width="6.04" height="6.50" fill="#ffff00"/>
<rect x="258.31" y="152.45" width="6.04" height="6.50" fill="#e8e800"/>
<rect x="264.85" y="152.45" width="6.04" height="6.50" fill="#7c7c00"/>
<rect x="271.39" y="152.45" width="6.04" height="6.50" fill="#f3f300"/>
<rect x="277.94" y="152.45" width="6.04" height="6.50" fill="#a1a100"/>
<rect x="284.48" y="152.45" width="6.04" height="6.50" fill="#565600"/>
<rect x="291.03" y="152.45" width="6.04" height="6.50" fill="#3c3c00"/>
<rect x="297.57" y="152.45" width="6.04" height="6.50" fill="#494900"/>
<rect x="304.12" y="152.45" width="6.04" height="6.50" fill="#dcdc00"/>
<rect x="310.66" y="152.45" width="6.04" height="6.50" fill="#ffff00"/>
<rect x="317.21" y="152.45" width="6.04" height="6.50" fill="#ffff00"/>
<text x="325.60" y="158.68" font-size="6.6" text-anchor="start" fill="#000" transform="rotate(0.05 325.60 158.68)" stroke="#000" stroke-width="0.18">CCL6</text>
<rect x="205.95" y="159.45" width="6.04" height="6.50" fill="#0000ff"/>
<rect x="212.49" y="159.45" width="6.04" height="6.50" fill="#0000ff"/>
<rect x="219.04" y="159.45" width="6.04" height="6.50" fill="#0000ff"/>
<rect x="225.58" y="159.45" width="6.04" height="6.50" fill="#0000e8"/>
<rect x="232.13" y="159.45" width="6.04" height="6.50" fill="#0000e8"/>
<rect x="238.67" y="159.45" width="6.04" height="6.50" fill="#0000e8"/>
<rect x="245.22" y="159.45" width="6.04" height="6.50" fill="#0000e8"/>
<rect x="251.76" y="159.45" width="6.04" height="6.50" fill="#0000d1"/>
<rect x="258.31" y="159.45" width="6.04" height="6.50" fill="#0000e8"/>
<rect x="264.85" y="159.45" width="6.04" height="6.50" fill="#0000a1"/>
<rect x="271.39" y="159.45" width="6.04" height="6.50" fill="#000070"/>
<rect x="277.94" y="159.45" width="6.04" height="6.50" fill="#000089"/>
<rect x="284.48" y="159.45" width="6.04" height="6.50" fill="#565600"/>
<rect x="291.03" y="159.45" width="6.04" height="6.50" fill="#2e2e00"/>
<rect x="297.57" y="159.45" width="6.04" height="6.50" fill="#3c3c00"/>
<rect x="304.12" y="159.45" width="6.04" height="6.50" fill="#dcdc00"/>
<rect x="310.66" y="159.45" width="6.04" height="6.50" fill="#e8e800"/>
<rect x="317.21" y="159.45" width="6.04" height="6.50" fill="#b9b900"/>
<text x="325.60" y="165.68" font-size="6.6" text-anchor="start" fill="#000" transform="rotate(0.05 325.60 165.68)" stroke="#000" stroke-width="0.18">CCL8</text>
<rect x="205.95" y="166.45" width="6.04" height="6.50" fill="#0000ff"/>
<rect x="212.49" y="166.45" width="6.04" height="6.50" fill="#0000ff"/>
<rect x="219.04" y="166.45" width="6.04" height="6.50" fill="#0000ff"/>
<rect x="225.58" y="166.45" width="6.04" height="6.50" fill="#202000"/>
<rect x="232.13" y="166.45" width="6.04" height="6.50" fill="#202000"/>
<rect x="238.67" y="166.45" width="6.04" height="6.50" fill="#202000"/>
<rect x="245.22" y="166.45" width="6.04" height="6.50" fill="#0000e8"/>
<rect x="251.76" y="166.45" width="6.04" height="6.50" fill="#0000e8"/>
<rect x="258.31" y="166.45" width="6.04" height="6.50" fill="#0000e8"/>
<rect x="264.85" y="166.45" width="6.04" height="6.50" fill="#202000"/>
<rect x="271.39" y="166.45" width="6.04" height="6.50" fill="#0000e8"/>
<rect x="277.94" y="166.45" width="6.04" height="6.50" fill="#000020"/>
<rect x="284.48" y="166.45" width="6.04" height="6.50" fill="#ffff00"/>
<rect x="291.03" y="166.45" width="6.04" height="6.50" fill="#ffff00"/>
<rect x="297.57" y="166.45" width="6.04" height="6.50" fill="#ffff00"/>
<rect x="304.12" y="166.45" width="6.04" height="6.50" fill="#ffff00"/>
<rect x="310.66" y="166.45" width="6.04" height="6.50" fill="#ffff00"/>
<rect x="317.21" y="166.45" width="6.04" height="6.50" fill="#ffff00"/>
<text x="325.60" y="172.68" font-size="6.6" text-anchor="start" fill="#000" transform="rotate(0.05 325.60 172.68)" stroke="#000" stroke-width="0.18">CXCL1</text>
<rect x="205.95" y="173.45" width="6.04" height="6.50" fill="#0000ff"/>
<rect x="212.49" y="173.45" width="6.04" height="6.50" fill="#0000ff"/>
<rect x="219.04" y="173.45" width="6.04" height="6.50" fill="#0000ff"/>
<rect x="225.58" y="173.45" width="6.04" height="6.50" fill="#0000ff"/>
<rect x="232.13" y="173.45" width="6.04" height="6.50" fill="#0000ff"/>
<rect x="238.67" y="173.45" width="6.04" height="6.50" fill="#0000ff"/>
<rect x="245.22" y="173.45" width="6.04" height="6.50" fill="#0000e8"/>
<rect x="251.76" y="173.45" width="6.04" height="6.50" fill="#0000e8"/>
<rect x="258.31" y="173.45" width="6.04" height="6.50" fill="#0000d1"/>
<rect x="264.85" y="173.45" width="6.04" height="6.50" fill="#0000e8"/>
<rect x="271.39" y="173.45" width="6.04" height="6.50" fill="#0000e8"/>
<rect x="277.94" y="173.45" width="6.04" height="6.50" fill="#0000e8"/>
<rect x="284.48" y="173.45" width="6.04" height="6.50" fill="#565600"/>
<rect x="291.03" y="173.45" width="6.04" height="6.50" fill="#707000"/>
<rect x="297.57" y="173.45" width="6.04" height="6.50" fill="#3c3c00"/>
<rect x="304.12" y="173.45" width="6.04" height="6.50" fill="#ffff00"/>
<rect x="310.66" y="173.45" width="6.04" height="6.50" fill="#ffff00"/>
<rect x="317.21" y="173.45" width="6.04" height="6.50" fill="#ffff00"/>
<text x="325.60" y="179.68" font-size="6.6" text-anchor="start" fill="#000" transform="rotate(0.05 325.60 179.68)" stroke="#000" stroke-width="0.18">CXCL3</text>
<rect x="205.95" y="180.45" width="6.04" height="6.50" fill="#0000ff"/>
<rect x="212.49" y="180.45" width="6.04" height="6.50" fill="#0000ff"/>
<rect x="219.04" y="180.45" width="6.04" height="6.50" fill="#0000ff"/>
<rect x="225.58" y="180.45" width="6.04" height="6.50" fill="#0000ff"/>
<rect x="232.13" y="180.45" width="6.04" height="6.50" fill="#0000ff"/>
<rect x="238.67" y="180.45" width="6.04" height="6.50" fill="#0000ff"/>
<rect x="245.22" y="180.45" width="6.04" height="6.50" fill="#0000ff"/>
<rect x="251.76" y="180.45" width="6.04" height="6.50" fill="#0000ff"/>
<rect x="258.31" y="180.45" width="6.04" height="6.50" fill="#0000ff"/>
<rect x="264.85" y="180.45" width="6.04" height="6.50" fill="#0000ff"/>
<rect x="271.39" y="180.45" width="6.04" height="6.50" fill="#0000ff"/>
<rect x="277.94" y="180.45" width="6.04" height="6.50" fill="#0000ff"/>
<rect x="284.48" y="180.45" width="6.04" height="6.50" fill="#898900"/>
<rect x="291.03" y="180.45" width="6.04" height="6.50" fill="#898900"/>
<rect x="297.57" y="180.45" width="6.04" height="6.50" fill="#959500"/>
<rect x="304.12" y="180.45" width="6.04" height="6.50" fill="#ffff00"/>
<rect x="310.66" y="180.45" width="6.04" height="6.50" fill="#ffff00"/>
<rect x="317.21" y="180.45" width="6.04" height="6.50" fill="#ffff00"/>
<text x="325.60" y="186.68" font-size="6.6" text-anchor="start" fill="#000" transform="rotate(0.05 325.60 186.68)" stroke="#000" stroke-width="0.18">CXCL9</text>
<rect x="205.95" y="187.45" width="6.04" height="6.50" fill="#0000ff"/>
<rect x="212.49" y="187.45" width="6.04" height="6.50" fill="#0000ff"/>
<rect x="219.04" y="187.45" width="6.04" height="6.50" fill="#0000ff"/>
<rect x="225.58" y="187.45" width="6.04" height="6.50" fill="#000000"/>
<rect x="232.13" y="187.45" width="6.04" height="6.50" fill="#0000d1"/>
<rect x="238.67" y="187.45" width="6.04" height="6.50" fill="#0000a1"/>
<rect x="245.22" y="187.45" width="6.04" height="6.50" fill="#202000"/>
<rect x="251.76" y="187.45" width="6.04" height="6.50" fill="#2e2e00"/>
<rect x="258.31" y="187.45" width="6.04" height="6.50" fill="#202000"/>
<rect x="264.85" y="187.45" width="6.04" height="6.50" fill="#0000ff"/>
<rect x="271.39" y="187.45" width="6.04" height="6.50" fill="#0000ff"/>
<rect x="277.94" y="187.45" width="6.04" height="6.50" fill="#0000ff"/>
<rect x="284.48" y="187.45" width="6.04" height="6.50" fill="#b9b900"/>
<rect x="291.03" y="187.45" width="6.04" height="6.50" fill="#898900"/>
<rect x="297.57" y="187.45" width="6.04" height="6.50" fill="#e8e800"/>
<rect x="304.12" y="187.45" width="6.04" height="6.50" fill="#ffff00"/>
<rect x="310.66" y="187.45" width="6.04" height="6.50" fill="#ffff00"/>
<rect x="317.21" y="187.45" width="6.04" height="6.50" fill="#ffff00"/>
<text x="325.60" y="193.68" font-size="6.6" text-anchor="start" fill="#000" transform="rotate(0.05 325.60 193.68)" stroke="#000" stroke-width="0.18">CXCL11</text>
<rect x="205.95" y="194.45" width="6.04" height="6.50" fill="#0000ff"/>
<rect x="212.49" y="194.45" width="6.04" height="6.50" fill="#0000ff"/>
<rect x="219.04" y="194.45" width="6.04" height="6.50" fill="#0000ff"/>
<rect x="225.58" y="194.45" width="6.04" height="6.50" fill="#0000ff"/>
<rect x="232.13" y="194.45" width="6.04" height="6.50" fill="#0000ff"/>
<rect x="238.67" y="194.45" width="6.04" height="6.50" fill="#0000ff"/>
<rect x="245.22" y="194.45" width="6.04" height="6.50" fill="#0000ff"/>
<rect x="251.76" y="194.45" width="6.04" height="6.50" fill="#0000ff"/>
<rect x="258.31" y="194.45" width="6.04" height="6.50" fill="#0000ff"/>
<rect x="264.85" y="194.45" width="6.04" height="6.50" fill="#ffff00"/>
<rect x="271.39" y="194.45" width="6.04" height="6.50" fill="#ffff00"/>
<rect x="277.94" y="194.45" width="6.04" height="6.50" fill="#ffff00"/>
<rect x="284.48" y="194.45" width="6.04" height="6.50" fill="#ffff00"/>
<rect x="291.03" y="194.45" width="6.04" height="6.50" fill="#ffff00"/>
<rect x="297.57" y="194.45" width="6.04" height="6.50" fill="#ffff00"/>
<rect x="304.12" y="194.45" width="6.04" height="6.50" fill="#ffff00"/>
<rect x="310.66" y="194.45" width="6.04" height="6.50" fill="#ffff00"/>
<rect x="317.21" y="194.45" width="6.04" height="6.50" fill="#ffff00"/>
<text x="325.60" y="200.68" font-size="6.6" text-anchor="start" fill="#000" transform="rotate(0.05 325.60 200.68)" stroke="#000" stroke-width="0.18">CXCL16</text>
<rect x="205.95" y="201.45" width="6.04" height="6.50" fill="#0000ff"/>
<rect x="212.49" y="201.45" width="6.04" height="6.50" fill="#0000ff"/>
<rect x="219.04" y="201.45" width="6.04" height="6.50" fill="#0000ff"/>
<rect x="225.58" y="201.45" width="6.04" height="6.50" fill="#0000ff"/>
<rect x="232.13" y="201.45" width="6.04" height="6.50" fill="#0000ff"/>
<rect x="238.67" y="201.45" width="6.04" height="6.50" fill="#0000ff"/>
<rect x="245.22" y="201.45" width="6.04" height="6.50" fill="#0000ff"/>
<rect x="251.76" y="201.45" width="6.04" height="6.50" fill="#0000e8"/>
<rect x="258.31" y="201.45" width="6.04" height="6.50" fill="#0000ff"/>
<rect x="264.85" y="201.45" width="6.04" height="6.50" fill="#707000"/>
<rect x="271.39" y="201.45" width="6.04" height="6.50" fill="#3c3c00"/>
<rect x="277.94" y="201.45" width="6.04" height="6.50" fill="#565600"/>
<rect x="284.48" y="201.45" width="6.04" height="6.50" fill="#d1d100"/>
<rect x="291.03" y="201.45" width="6.04" height="6.50" fill="#dcdc00"/>
<rect x="297.57" y="201.45" width="6.04" height="6.50" fill="#d1d100"/>
<rect x="304.12" y="201.45" width="6.04" height="6.50" fill="#dcdc00"/>
<rect x="310.66" y="201.45" width="6.04" height="6.50" fill="#dcdc00"/>
<rect x="317.21" y="201.45" width="6.04" height="6.50" fill="#f3f300"/>
<text x="325.60" y="207.68" font-size="6.6" text-anchor="start" fill="#000" transform="rotate(0.05 325.60 207.68)" stroke="#000" stroke-width="0.18">CX3CL1</text>
<rect x="205.95" y="208.45" width="6.04" height="6.50" fill="#0000ff"/>
<rect x="212.49" y="208.45" width="6.04" height="6.50" fill="#0000ff"/>
<rect x="219.04" y="208.45" width="6.04" height="6.50" fill="#0000ff"/>
<rect x="225.58" y="208.45" width="6.04" height="6.50" fill="#0000ff"/>
<rect x="232.13" y="208.45" width="6.04" height="6.50" fill="#0000ff"/>
<rect x="238.67" y="208.45" width="6.04" height="6.50" fill="#0000ff"/>
<rect x="245.22" y="208.45" width="6.04" height="6.50" fill="#0000ff"/>
<rect x="251.76" y="208.45" width="6.04" height="6.50" fill="#0000ff"/>
<rect x="258.31" y="208.45" width="6.04" height="6.50" fill="#0000ff"/>
<rect x="264.85" y="208.45" width="6.04" height="6.50" fill="#0000ff"/>
<rect x="271.39" y="208.45" width="6.04" height="6.50" fill="#0000ff"/>
<rect x="277.94" y="208.45" width="6.04" height="6.50" fill="#0000ff"/>
<rect x="284.48" y="208.45" width="6.04" height="6.50" fill="#000000"/>
<rect x="291.03" y="208.45" width="6.04" height="6.50" fill="#494900"/>
<rect x="297.57" y="208.45" width="6.04" height="6.50" fill="#3c3c00"/>
<rect x="304.12" y="208.45" width="6.04" height="6.50" fill="#e8e800"/>
<rect x="310.66" y="208.45" width="6.04" height="6.50" fill="#ffff00"/>
<rect x="317.21" y="208.45" width="6.04" height="6.50" fill="#ffff00"/>
<text x="325.60" y="214.68" font-size="6.6" text-anchor="start" fill="#000" transform="rotate(0.05 325.60 214.68)" stroke="#000" stroke-width="0.18">CSF2</text>
<rect x="205.70" y="216.80" width="117.80" height="95.40" fill="#000"/>
<rect x="205.95" y="217.05" width="6.04" height="6.84" fill="#0000ff"/>
<rect x="212.49" y="217.05" width="6.04" height="6.84" fill="#0000ff"/>
<rect x="219.04" y="217.05" width="6.04" height="6.84" fill="#0000ff"/>
<rect x="225.58" y="217.05" width="6.04" height="6.84" fill="#0000ff"/>
<rect x="232.13" y="217.05" width="6.04" height="6.84" fill="#0000ff"/>
<rect x="238.67" y="217.05" width="6.04" height="6.84" fill="#0000ff"/>
<rect x="245.22" y="217.05" width="6.04" height="6.84" fill="#0000ff"/>
<rect x="251.76" y="217.05" width="6.04" height="6.84" fill="#0000ff"/>
<rect x="258.31" y="217.05" width="6.04" height="6.84" fill="#0000ff"/>
<rect x="264.85" y="217.05" width="6.04" height="6.84" fill="#0000ff"/>
<rect x="271.39" y="217.05" width="6.04" height="6.84" fill="#0000ff"/>
<rect x="277.94" y="217.05" width="6.04" height="6.84" fill="#0000ff"/>
<rect x="284.48" y="217.05" width="6.04" height="6.84" fill="#000089"/>
<rect x="291.03" y="217.05" width="6.04" height="6.84" fill="#0000a1"/>
<rect x="297.57" y="217.05" width="6.04" height="6.84" fill="#000056"/>
<rect x="304.12" y="217.05" width="6.04" height="6.84" fill="#ffff00"/>
<rect x="310.66" y="217.05" width="6.04" height="6.84" fill="#ffff00"/>
<rect x="317.21" y="217.05" width="6.04" height="6.84" fill="#ffff00"/>
<text x="325.60" y="223.75" font-size="6.6" text-anchor="start" fill="#000" transform="rotate(0.05 325.60 223.75)" stroke="#000" stroke-width="0.18">GBP2B</text>
<rect x="205.95" y="224.39" width="6.04" height="6.84" fill="#0000ff"/>
<rect x="212.49" y="224.39" width="6.04" height="6.84" fill="#0000ff"/>
<rect x="219.04" y="224.39" width="6.04" height="6.84" fill="#0000ff"/>
<rect x="225.58" y="224.39" width="6.04" height="6.84" fill="#0000ff"/>
<rect x="232.13" y="224.39" width="6.04" height="6.84" fill="#0000ff"/>
<rect x="238.67" y="224.39" width="6.04" height="6.84" fill="#0000ff"/>
<rect x="245.22" y="224.39" width="6.04" height="6.84" fill="#0000ff"/>
<rect x="251.76" y="224.39" width="6.04" height="6.84" fill="#0000ff"/>
<rect x="258.31" y="224.39" width="6.04" height="6.84" fill="#0000ff"/>
<rect x="264.85" y="224.39" width="6.04" height="6.84" fill="#0000ff"/>
<rect x="271.39" y="224.39" width="6.04" height="6.84" fill="#0000ff"/>
<rect x="277.94" y="224.39" width="6.04" height="6.84" fill="#0000ff"/>
<rect x="284.48" y="224.39" width="6.04" height="6.84" fill="#000000"/>
<rect x="291.03" y="224.39" width="6.04" height="6.84" fill="#0000a1"/>
<rect x="297.57" y="224.39" width="6.04" height="6.84" fill="#000056"/>
<rect x="304.12" y="224.39" width="6.04" height="6.84" fill="#ffff00"/>
<rect x="310.66" y="224.39" width="6.04" height="6.84" fill="#ffff00"/>
<rect x="317.21" y="224.39" width="6.04" height="6.84" fill="#ffff00"/>
<text x="325.60" y="231.08" font-size="6.6" text-anchor="start" fill="#000" transform="rotate(0.05 325.60 231.08)" stroke="#000" stroke-width="0.18">GBP4</text>
<rect x="205.95" y="231.73" width="6.04" height="6.84" fill="#0000ff"/>
<rect x="212.49" y="231.73" width="6.04" height="6.84" fill="#0000ff"/>
<rect x="219.04" y="231.73" width="6.04" height="6.84" fill="#0000ff"/>
<rect x="225.58" y="231.73" width="6.04" height="6.84" fill="#0000ff"/>
<rect x="232.13" y="231.73" width="6.04" height="6.84" fill="#0000ff"/>
<rect x="238.67" y="231.73" width="6.04" height="6.84" fill="#0000f3"/>
<rect x="245.22" y="231.73" width="6.04" height="6.84" fill="#0000b9"/>
<rect x="251.76" y="231.73" width="6.04" height="6.84" fill="#000056"/>
<rect x="258.31" y="231.73" width="6.04" height="6.84" fill="#000020"/>
<rect x="264.85" y="231.73" width="6.04" height="6.84" fill="#2e2e00"/>
<rect x="271.39" y="231.73" width="6.04" height="6.84" fill="#494900"/>
<rect x="277.94" y="231.73" width="6.04" height="6.84" fill="#3c3c00"/>
<rect x="284.48" y="231.73" width="6.04" height="6.84" fill="#898900"/>
<rect x="291.03" y="231.73" width="6.04" height="6.84" fill="#7c7c00"/>
<rect x="297.57" y="231.73" width="6.04" height="6.84" fill="#959500"/>
<rect x="304.12" y="231.73" width="6.04" height="6.84" fill="#ffff00"/>
<rect x="310.66" y="231.73" width="6.04" height="6.84" fill="#ffff00"/>
<rect x="317.21" y="231.73" width="6.04" height="6.84" fill="#ffff00"/>
<text x="325.60" y="238.42" font-size="6.6" text-anchor="start" fill="#000" transform="rotate(0.05 325.60 238.42)" stroke="#000" stroke-width="0.18">GBP9</text>
<rect x="205.95" y="239.07" width="6.04" height="6.84" fill="#0000ff"/>
<rect x="212.49" y="239.07" width="6.04" height="6.84" fill="#0000ff"/>
<rect x="219.04" y="239.07" width="6.04" height="6.84" fill="#0000ff"/>
<rect x="225.58" y="239.07" width="6.04" height="6.84" fill="#0000ff"/>
<rect x="232.13" y="239.07" width="6.04" height="6.84" fill="#0000ff"/>
<rect x="238.67" y="239.07" width="6.04" height="6.84" fill="#0000ff"/>
<rect x="245.22" y="239.07" width="6.04" height="6.84" fill="#0000ff"/>
<rect x="251.76" y="239.07" width="6.04" height="6.84" fill="#0000ff"/>
<rect x="258.31" y="239.07" width="6.04" height="6.84" fill="#0000ff"/>
<rect x="264.85" y="239.07" width="6.04" height="6.84" fill="#0000d1"/>
<rect x="271.39" y="239.07" width="6.04" height="6.84" fill="#0000d1"/>
<rect x="277.94" y="239.07" width="6.04" height="6.84" fill="#0000d1"/>
<rect x="284.48" y="239.07" width="6.04" height="6.84" fill="#2e2e00"/>
<rect x="291.03" y="239.07" width="6.04" height="6.84" fill="#202000"/>
<rect x="297.57" y="239.07" width="6.04" height="6.84" fill="#636300"/>
<rect x="304.12" y="239.07" width="6.04" height="6.84" fill="#ffff00"/>
<rect x="310.66" y="239.07" width="6.04" height="6.84" fill="#ffff00"/>
<rect x="317.21" y="239.07" width="6.04" height="6.84" fill="#ffff00"/>
<text x="325.60" y="245.76" font-size="6.6" text-anchor="start" fill="#000" transform="rotate(0.05 325.60 245.76)" stroke="#000" stroke-width="0.18">GBP10</text>
<rect x="205.95" y="246.40" width="6.04" height="6.84" fill="#0000ff"/>
<rect x="212.49" y="246.40" width="6.04" height="6.84" fill="#0000ff"/>
<rect x="219.04" y="246.40" width="6.04" height="6.84" fill="#0000ff"/>
<rect x="225.58" y="246.40" width="6.04" height="6.84" fill="#0000ff"/>
<rect x="232.13" y="246.40" width="6.04" height="6.84" fill="#0000ff"/>
<rect x="238.67" y="246.40" width="6.04" height="6.84" fill="#0000ff"/>
<rect x="245.22" y="246.40" width="6.04" height="6.84" fill="#0000ff"/>
<rect x="251.76" y="246.40" width="6.04" height="6.84" fill="#0000ff"/>
<rect x="258.31" y="246.40" width="6.04" height="6.84" fill="#0000ff"/>
<rect x="264.85" y="246.40" width="6.04" height="6.84" fill="#0000ff"/>
<rect x="271.39" y="246.40" width="6.04" height="6.84" fill="#0000ff"/>
<rect x="277.94" y="246.40" width="6.04" height="6.84" fill="#0000ff"/>
<rect x="284.48" y="246.40" width="6.04" height="6.84" fill="#0000e8"/>
<rect x="291.03" y="246.40" width="6.04" height="6.84" fill="#0000e8"/>
<rect x="297.57" y="246.40" width="6.04" height="6.84" fill="#0000e8"/>
<rect x="304.12" y="246.40" width="6.04" height="6.84" fill="#000000"/>
<rect x="310.66" y="246.40" width="6.04" height="6.84" fill="#202000"/>
<rect x="317.21" y="246.40" width="6.04" height="6.84" fill="#2e2e00"/>
<text x="325.60" y="253.10" font-size="6.6" text-anchor="start" fill="#000" transform="rotate(0.05 325.60 253.10)" stroke="#000" stroke-width="0.18">GBP11</text>
<rect x="205.95" y="253.74" width="6.04" height="6.84" fill="#0000ff"/>
<rect x="212.49" y="253.74" width="6.04" height="6.84" fill="#0000ff"/>
<rect x="219.04" y="253.74" width="6.04" height="6.84" fill="#0000ff"/>
<rect x="225.58" y="253.74" width="6.04" height="6.84" fill="#0000e8"/>
<rect x="232.13" y="253.74" width="6.04" height="6.84" fill="#0000d1"/>
<rect x="238.67" y="253.74" width="6.04" height="6.84" fill="#0000dc"/>
<rect x="245.22" y="253.74" width="6.04" height="6.84" fill="#0000e8"/>
<rect x="251.76" y="253.74" width="6.04" height="6.84" fill="#0000ff"/>
<rect x="258.31" y="253.74" width="6.04" height="6.84" fill="#0000ff"/>
<rect x="264.85" y="253.74" width="6.04" height="6.84" fill="#0000ff"/>
<rect x="271.39" y="253.74" width="6.04" height="6.84" fill="#0000ff"/>
<rect x="277.94" y="253.74" width="6.04" height="6.84" fill="#0000ff"/>
<rect x="284.48" y="253.74" width="6.04" height="6.84" fill="#ffff00"/>
<rect x="291.03" y="253.74" width="6.04" height="6.84" fill="#959500"/>
<rect x="297.57" y="253.74" width="6.04" height="6.84" fill="#e8e800"/>
<rect x="304.12" y="253.74" width="6.04" height="6.84" fill="#565600"/>
<rect x="310.66" y="253.74" width="6.04" height="6.84" fill="#707000"/>
<rect x="317.21" y="253.74" width="6.04" height="6.84" fill="#494900"/>
<text x="325.60" y="260.44" font-size="6.6" text-anchor="start" fill="#000" transform="rotate(0.05 325.60 260.44)" stroke="#000" stroke-width="0.18">IFNB1</text>
<rect x="205.95" y="261.08" width="6.04" height="6.84" fill="#0000ff"/>
<rect x="212.49" y="261.08" width="6.04" height="6.84" fill="#0000ff"/>
<rect x="219.04" y="261.08" width="6.04" height="6.84" fill="#0000ff"/>
<rect x="225.58" y="261.08" width="6.04" height="6.84" fill="#0000ff"/>
<rect x="232.13" y="261.08" width="6.04" height="6.84" fill="#0000ff"/>
<rect x="238.67" y="261.08" width="6.04" height="6.84" fill="#0000ff"/>
<rect x="245.22" y="261.08" width="6.04" height="6.84" fill="#0000ff"/>
<rect x="251.76" y="261.08" width="6.04" height="6.84" fill="#0000ff"/>
<rect x="258.31" y="261.08" width="6.04" height="6.84" fill="#0000ff"/>
<rect x="264.85" y="261.08" width="6.04" height="6.84" fill="#0000d1"/>
<rect x="271.39" y="261.08" width="6.04" height="6.84" fill="#0000d1"/>
<rect x="277.94" y="261.08" width="6.04" height="6.84" fill="#0000d1"/>
<rect x="284.48" y="261.08" width="6.04" height="6.84" fill="#0000f3"/>
<rect x="291.03" y="261.08" width="6.04" height="6.84" fill="#0000f3"/>
<rect x="297.57" y="261.08" width="6.04" height="6.84" fill="#0000f3"/>
<rect x="304.12" y="261.08" width="6.04" height="6.84" fill="#ffff00"/>
<rect x="310.66" y="261.08" width="6.04" height="6.84" fill="#ffff00"/>
<rect x="317.21" y="261.08" width="6.04" height="6.84" fill="#ffff00"/>
<text x="325.60" y="267.78" font-size="6.6" text-anchor="start" fill="#000" transform="rotate(0.05 325.60 267.78)" stroke="#000" stroke-width="0.18">IFI44l</text>
<rect x="205.95" y="268.42" width="6.04" height="6.84" fill="#0000ff"/>
<rect x="212.49" y="268.42" width="6.04" height="6.84" fill="#0000ff"/>
<rect x="219.04" y="268.42" width="6.04" height="6.84" fill="#0000ff"/>
<rect x="225.58" y="268.42" width="6.04" height="6.84" fill="#0000ff"/>
<rect x="232.13" y="268.42" width="6.04" height="6.84" fill="#0000ff"/>
<rect x="238.67" y="268.42" width="6.04" height="6.84" fill="#0000ff"/>
<rect x="245.22" y="268.42" width="6.04" height="6.84" fill="#0000ff"/>
<rect x="251.76" y="268.42" width="6.04" height="6.84" fill="#0000ff"/>
<rect x="258.31" y="268.42" width="6.04" height="6.84" fill="#0000ff"/>
<rect x="264.85" y="268.42" width="6.04" height="6.84" fill="#ffff00"/>
<rect x="271.39" y="268.42" width="6.04" height="6.84" fill="#ffff00"/>
<rect x="277.94" y="268.42" width="6.04" height="6.84" fill="#ffff00"/>
<rect x="284.48" y="268.42" width="6.04" height="6.84" fill="#ffff00"/>
<rect x="291.03" y="268.42" width="6.04" height="6.84" fill="#ffff00"/>
<rect x="297.57" y="268.42" width="6.04" height="6.84" fill="#ffff00"/>
<rect x="304.12" y="268.42" width="6.04" height="6.84" fill="#ffff00"/>
<rect x="310.66" y="268.42" width="6.04" height="6.84" fill="#ffff00"/>
<rect x="317.21" y="268.42" width="6.04" height="6.84" fill="#ffff00"/>
<text x="325.60" y="275.11" font-size="6.6" text-anchor="start" fill="#000" transform="rotate(0.05 325.60 275.11)" stroke="#000" stroke-width="0.18">IFI202B</text>
<rect x="205.95" y="275.76" width="6.04" height="6.84" fill="#0000a1"/>
<rect x="212.49" y="275.76" width="6.04" height="6.84" fill="#959500"/>
<rect x="219.04" y="275.76" width="6.04" height="6.84" fill="#7c7c00"/>
<rect x="225.58" y="275.76" width="6.04" height="6.84" fill="#202000"/>
<rect x="232.13" y="275.76" width="6.04" height="6.84" fill="#ffff00"/>
<rect x="238.67" y="275.76" width="6.04" height="6.84" fill="#959500"/>
<rect x="245.22" y="275.76" width="6.04" height="6.84" fill="#565600"/>
<rect x="251.76" y="275.76" width="6.04" height="6.84" fill="#565600"/>
<rect x="258.31" y="275.76" width="6.04" height="6.84" fill="#ffff00"/>
<rect x="264.85" y="275.76" width="6.04" height="6.84" fill="#e8e800"/>
<rect x="271.39" y="275.76" width="6.04" height="6.84" fill="#f3f300"/>
<rect x="277.94" y="275.76" width="6.04" height="6.84" fill="#dcdc00"/>
<rect x="284.48" y="275.76" width="6.04" height="6.84" fill="#e8e800"/>
<rect x="291.03" y="275.76" width="6.04" height="6.84" fill="#e8e800"/>
<rect x="297.57" y="275.76" width="6.04" height="6.84" fill="#e8e800"/>
<rect x="304.12" y="275.76" width="6.04" height="6.84" fill="#ffff00"/>
<rect x="310.66" y="275.76" width="6.04" height="6.84" fill="#ffff00"/>
<rect x="317.21" y="275.76" width="6.04" height="6.84" fill="#ffff00"/>
<text x="325.60" y="282.45" font-size="6.6" text-anchor="start" fill="#000" transform="rotate(0.05 325.60 282.45)" stroke="#000" stroke-width="0.18">USP18</text>
<rect x="205.95" y="283.10" width="6.04" height="6.84" fill="#494900"/>
<rect x="212.49" y="283.10" width="6.04" height="6.84" fill="#000000"/>
<rect x="219.04" y="283.10" width="6.04" height="6.84" fill="#000089"/>
<rect x="225.58" y="283.10" width="6.04" height="6.84" fill="#000000"/>
<rect x="232.13" y="283.10" width="6.04" height="6.84" fill="#000056"/>
<rect x="238.67" y="283.10" width="6.04" height="6.84" fill="#000056"/>
<rect x="245.22" y="283.10" width="6.04" height="6.84" fill="#000070"/>
<rect x="251.76" y="283.10" width="6.04" height="6.84" fill="#202000"/>
<rect x="258.31" y="283.10" width="6.04" height="6.84" fill="#000000"/>
<rect x="264.85" y="283.10" width="6.04" height="6.84" fill="#3c3c00"/>
<rect x="271.39" y="283.10" width="6.04" height="6.84" fill="#565600"/>
<rect x="277.94" y="283.10" width="6.04" height="6.84" fill="#2e2e00"/>
<rect x="284.48" y="283.10" width="6.04" height="6.84" fill="#3c3c00"/>
<rect x="291.03" y="283.10" width="6.04" height="6.84" fill="#3c3c00"/>
<rect x="297.57" y="283.10" width="6.04" height="6.84" fill="#202000"/>
<rect x="304.12" y="283.10" width="6.04" height="6.84" fill="#ffff00"/>
<rect x="310.66" y="283.10" width="6.04" height="6.84" fill="#ffff00"/>
<rect x="317.21" y="283.10" width="6.04" height="6.84" fill="#ffff00"/>
<text x="325.60" y="289.79" font-size="6.6" text-anchor="start" fill="#000" transform="rotate(0.05 325.60 289.79)" stroke="#000" stroke-width="0.18">USP21</text>
<rect x="205.95" y="290.43" width="6.04" height="6.84" fill="#202000"/>
<rect x="212.49" y="290.43" width="6.04" height="6.84" fill="#e8e800"/>
<rect x="219.04" y="290.43" width="6.04" height="6.84" fill="#b9b900"/>
<rect x="225.58" y="290.43" width="6.04" height="6.84" fill="#a1a100"/>
<rect x="232.13" y="290.43" width="6.04" height="6.84" fill="#ffff00"/>
<rect x="238.67" y="290.43" width="6.04" height="6.84" fill="#ffff00"/>
<rect x="245.22" y="290.43" width="6.04" height="6.84" fill="#a1a100"/>
<rect x="251.76" y="290.43" width="6.04" height="6.84" fill="#959500"/>
<rect x="258.31" y="290.43" width="6.04" height="6.84" fill="#d1d100"/>
<rect x="264.85" y="290.43" width="6.04" height="6.84" fill="#e8e800"/>
<rect x="271.39" y="290.43" width="6.04" height="6.84" fill="#e8e800"/>
<rect x="277.94" y="290.43" width="6.04" height="6.84" fill="#f3f300"/>
<rect x="284.48" y="290.43" width="6.04" height="6.84" fill="#d1d100"/>
<rect x="291.03" y="290.43" width="6.04" height="6.84" fill="#e8e800"/>
<rect x="297.57" y="290.43" width="6.04" height="6.84" fill="#dcdc00"/>
<rect x="304.12" y="290.43" width="6.04" height="6.84" fill="#ffff00"/>
<rect x="310.66" y="290.43" width="6.04" height="6.84" fill="#ffff00"/>
<rect x="317.21" y="290.43" width="6.04" height="6.84" fill="#ffff00"/>
<text x="325.60" y="297.13" font-size="6.6" text-anchor="start" fill="#000" transform="rotate(0.05 325.60 297.13)" stroke="#000" stroke-width="0.18">USP31</text>
<rect x="205.95" y="297.77" width="6.04" height="6.84" fill="#0000a1"/>
<rect x="212.49" y="297.77" width="6.04" height="6.84" fill="#0000b9"/>
<rect x="219.04" y="297.77" width="6.04" height="6.84" fill="#0000d1"/>
<rect x="225.58" y="297.77" width="6.04" height="6.84" fill="#0000d1"/>
<rect x="232.13" y="297.77" width="6.04" height="6.84" fill="#000070"/>
<rect x="238.67" y="297.77" width="6.04" height="6.84" fill="#000000"/>
<rect x="245.22" y="297.77" width="6.04" height="6.84" fill="#000089"/>
<rect x="251.76" y="297.77" width="6.04" height="6.84" fill="#0000e8"/>
<rect x="258.31" y="297.77" width="6.04" height="6.84" fill="#0000a1"/>
<rect x="264.85" y="297.77" width="6.04" height="6.84" fill="#3c3c00"/>
<rect x="271.39" y="297.77" width="6.04" height="6.84" fill="#565600"/>
<rect x="277.94" y="297.77" width="6.04" height="6.84" fill="#494900"/>
<rect x="284.48" y="297.77" width="6.04" height="6.84" fill="#494900"/>
<rect x="291.03" y="297.77" width="6.04" height="6.84" fill="#707000"/>
<rect x="297.57" y="297.77" width="6.04" height="6.84" fill="#7c7c00"/>
<rect x="304.12" y="297.77" width="6.04" height="6.84" fill="#ffff00"/>
<rect x="310.66" y="297.77" width="6.04" height="6.84" fill="#ffff00"/>
<rect x="317.21" y="297.77" width="6.04" height="6.84" fill="#ffff00"/>
<text x="325.60" y="304.47" font-size="6.6" text-anchor="start" fill="#000" transform="rotate(0.05 325.60 304.47)" stroke="#000" stroke-width="0.18">USP42</text>
<rect x="205.95" y="305.11" width="6.04" height="6.84" fill="#0000a1"/>
<rect x="212.49" y="305.11" width="6.04" height="6.84" fill="#565600"/>
<rect x="219.04" y="305.11" width="6.04" height="6.84" fill="#3c3c00"/>
<rect x="225.58" y="305.11" width="6.04" height="6.84" fill="#000056"/>
<rect x="232.13" y="305.11" width="6.04" height="6.84" fill="#898900"/>
<rect x="238.67" y="305.11" width="6.04" height="6.84" fill="#565600"/>
<rect x="245.22" y="305.11" width="6.04" height="6.84" fill="#202000"/>
<rect x="251.76" y="305.11" width="6.04" height="6.84" fill="#000000"/>
<rect x="258.31" y="305.11" width="6.04" height="6.84" fill="#707000"/>
<rect x="264.85" y="305.11" width="6.04" height="6.84" fill="#e8e800"/>
<rect x="271.39" y="305.11" width="6.04" height="6.84" fill="#b9b900"/>
<rect x="277.94" y="305.11" width="6.04" height="6.84" fill="#b9b900"/>
<rect x="284.48" y="305.11" width="6.04" height="6.84" fill="#adad00"/>
<rect x="291.03" y="305.11" width="6.04" height="6.84" fill="#b9b900"/>
<rect x="297.57" y="305.11" width="6.04" height="6.84" fill="#adad00"/>
<rect x="304.12" y="305.11" width="6.04" height="6.84" fill="#ffff00"/>
<rect x="310.66" y="305.11" width="6.04" height="6.84" fill="#ffff00"/>
<rect x="317.21" y="305.11" width="6.04" height="6.84" fill="#ffff00"/>
<text x="325.60" y="311.81" font-size="6.6" text-anchor="start" fill="#000" transform="rotate(0.05 325.60 311.81)" stroke="#000" stroke-width="0.18">USP47</text>
<text x="201.60" y="116.60" font-size="8.5" font-weight="bold" text-anchor="middle" fill="#000" transform="rotate(-90 201.60 116.60)">Cytokines</text>
<text x="201.60" y="183.60" font-size="8.6" font-weight="bold" text-anchor="middle" fill="#000" transform="rotate(-90 201.60 183.60)">Chemokines</text>
<text x="201.30" y="265.00" font-size="7.2" font-weight="bold" text-anchor="middle" fill="#000" transform="rotate(-90 201.30 265.00)">Interferon response genes</text>
<path d="M201.5 79.5 H196.4 Q192.9 79.5 192.9 83.0 V113.0 Q192.9 115.2 190.9 115.2 H182.9 M190.9 115.2 Q192.9 115.2 192.9 117.4 V146.5 Q192.9 150.0 196.4 150.0 H201.5" fill="none" stroke="#5b9bd5" stroke-width="0.9"/>
<path d="M201.5 153.0 H196.4 Q192.9 153.0 192.9 156.5 V182.1 Q192.9 184.3 190.9 184.3 H182.9 M190.9 184.3 Q192.9 184.3 192.9 186.5 V211.0 Q192.9 214.5 196.4 214.5 H201.5" fill="none" stroke="#5b9bd5" stroke-width="0.9"/>
<path d="M201.5 217.5 H196.4 Q192.9 217.5 192.9 221.0 V261.6 Q192.9 263.8 190.9 263.8 H181.6 M190.9 263.8 Q192.9 263.8 192.9 266.0 V308.0 Q192.9 311.5 196.4 311.5 H201.5" fill="none" stroke="#5b9bd5" stroke-width="0.9"/>
<defs><linearGradient id="gb" x1="0" x2="1" y1="0" y2="0"><stop offset="0" stop-color="#0000ff"/><stop offset="0.5" stop-color="#000"/><stop offset="1" stop-color="#ffff00"/></linearGradient></defs>
<rect x="209.70" y="314.40" width="108.50" height="4.70" fill="url(#gb)"/>
<text x="0" y="0" font-size="6.5" text-anchor="start" fill="#222" transform="translate(210.30 327.60) scale(0.52 1)">0.0</text>
<text x="0" y="0" font-size="6.5" text-anchor="middle" fill="#222" transform="translate(264.30 327.60) scale(0.52 1)">10.0</text>
<text x="0" y="0" font-size="6.5" text-anchor="end" fill="#222" transform="translate(317.90 327.60) scale(0.52 1)">20.0</text>
<text x="356.60" y="19.00" font-size="19" font-weight="bold" text-anchor="start" fill="#000">c</text>
<rect x="370.80" y="26.40" width="170.50" height="92.90" fill="#fff" stroke="#222" stroke-width="1"/>
<text x="399.30" y="29.30" font-size="2.6" text-anchor="end" fill="#000">Scale</text>
<text x="399.30" y="32.30" font-size="2.6" text-anchor="end" fill="#000">chr11:</text>
<line x1="455.00" y1="28.60" x2="498.50" y2="28.60" stroke="#444" stroke-width="0.5"/>
<line x1="455.00" y1="27.60" x2="455.00" y2="29.60" stroke="#444" stroke-width="0.5"/>
<line x1="498.50" y1="27.60" x2="498.50" y2="29.60" stroke="#444" stroke-width="0.5"/>
<text x="454.00" y="29.40" font-size="2.6" text-anchor="end" fill="#000">1 kb</text>
<text x="500.00" y="29.40" font-size="2.6" text-anchor="start" fill="#000">mm10</text>
<text x="421.50" y="32.70" font-size="2.6" text-anchor="end" fill="#333">83,662,000|</text>
<text x="445.10" y="32.70" font-size="2.6" text-anchor="end" fill="#333">83,662,500|</text>
<text x="468.80" y="32.70" font-size="2.6" text-anchor="end" fill="#333">83,663,000|</text>
<text x="492.40" y="32.70" font-size="2.6" text-anchor="end" fill="#333">83,663,500|</text>
<text x="516.10" y="32.70" font-size="2.6" text-anchor="end" fill="#333">83,664,000|</text>
<text x="539.70" y="32.70" font-size="2.6" text-anchor="end" fill="#333">83,664,500|</text>
<line x1="400.50" y1="27.00" x2="400.50" y2="118.70" stroke="#ff9a9a" stroke-width="0.5" stroke-dasharray="0.8 0.8"/>
<line x1="400.50" y1="46.40" x2="540.80" y2="46.40" stroke="#888" stroke-width="0.45"/>
<text x="399.00" y="37.20" font-size="2.5" text-anchor="end" fill="#333">300 _</text>
<text x="399.00" y="47.00" font-size="2.5" text-anchor="end" fill="#333">0 _</text>
<text x="399.30" y="41.80" font-size="2.8" text-anchor="end" fill="#333">BV2-Cont Total Tags</text>
<text x="437.00" y="37.00" font-size="3.1" text-anchor="start" fill="#333">BV2-Cont Total Tags = 1.39e+07, normalized to 1.00e+07</text>
<line x1="400.50" y1="47.00" x2="540.80" y2="47.00" stroke="#666" stroke-width="0.45"/>
<line x1="400.50" y1="59.30" x2="540.80" y2="59.30" stroke="#5a5aff" stroke-width="0.45"/>
<text x="399.00" y="49.60" font-size="2.5" text-anchor="end" fill="#1a1aff">300 _</text>
<text x="399.00" y="59.90" font-size="2.5" text-anchor="end" fill="#1a1aff">0 _</text>
<text x="399.30" y="54.45" font-size="2.8" text-anchor="end" fill="#1a1aff">BV2-LPS-2h Total Tags</text>
<text x="437.00" y="49.40" font-size="3.1" text-anchor="start" fill="#1a1aff">BV2-LPS-2h Total Tags = 1.72e+07, normalized to 1.00e+07</text>
<line x1="400.50" y1="59.90" x2="540.80" y2="59.90" stroke="#666" stroke-width="0.45"/>
<line x1="400.50" y1="72.20" x2="540.80" y2="72.20" stroke="#5a5aff" stroke-width="0.45"/>
<text x="399.00" y="62.50" font-size="2.5" text-anchor="end" fill="#1a1aff">300 _</text>
<text x="399.00" y="72.80" font-size="2.5" text-anchor="end" fill="#1a1aff">0 _</text>
<text x="399.30" y="67.35" font-size="2.8" text-anchor="end" fill="#1a1aff">BV2-LPS-4h Total Tags</text>
<text x="437.00" y="62.30" font-size="3.1" text-anchor="start" fill="#1a1aff">BV2-LPS-4h Total Tags = 1.59e+07, normalized to 1.00e+07</text>
<line x1="400.50" y1="72.80" x2="540.80" y2="72.80" stroke="#666" stroke-width="0.45"/>
<line x1="400.50" y1="85.10" x2="540.80" y2="85.10" stroke="#888" stroke-width="0.45"/>
<text x="399.00" y="75.40" font-size="2.5" text-anchor="end" fill="#333">300 _</text>
<text x="399.00" y="85.70" font-size="2.5" text-anchor="end" fill="#333">0 _</text>
<text x="399.30" y="80.25" font-size="2.8" text-anchor="end" fill="#333">PMG-Cont Total Tags</text>
<text x="437.00" y="75.20" font-size="3.1" text-anchor="start" fill="#333">PMG-Cont Total Tags = 1.40e+07, normalized to 1.00e+07</text>
<line x1="400.50" y1="85.70" x2="540.80" y2="85.70" stroke="#666" stroke-width="0.45"/>
<line x1="400.50" y1="98.00" x2="540.80" y2="98.00" stroke="#ff6a6a" stroke-width="0.45"/>
<text x="399.00" y="88.30" font-size="2.5" text-anchor="end" fill="#ff1010">300 _</text>
<text x="399.00" y="98.60" font-size="2.5" text-anchor="end" fill="#ff1010">0 _</text>
<text x="399.30" y="93.15" font-size="2.8" text-anchor="end" fill="#ff1010">PMG-LPS-2h Total Tags</text>
<text x="437.00" y="88.10" font-size="3.1" text-anchor="start" fill="#ff1010">PMG-LPS-2h Total Tags = 1.73e+07, normalized to 1.00e+07</text>
<line x1="400.50" y1="98.60" x2="540.80" y2="98.60" stroke="#666" stroke-width="0.45"/>
<line x1="400.50" y1="110.90" x2="540.80" y2="110.90" stroke="#ff6a6a" stroke-width="0.45"/>
<text x="399.00" y="101.20" font-size="2.5" text-anchor="end" fill="#ff1010">300 _</text>
<text x="399.00" y="111.50" font-size="2.5" text-anchor="end" fill="#ff1010">0 _</text>
<text x="399.30" y="106.05" font-size="2.8" text-anchor="end" fill="#ff1010">PMG-LPS-4h Total Tags</text>
<text x="437.00" y="101.00" font-size="3.1" text-anchor="start" fill="#ff1010">PMG-LPS-4h Total Tags = 1.80e+07, normalized to 1.00e+07</text>
<text x="431.00" y="113.90" font-size="3.1" text-anchor="start" fill="#224">UCSC Genes (RefSeq, GenBank, tRNAs &amp; Comparative Genomics)</text>
<polygon points="426.00,59.30 426.00,59.30 426.32,58.80 426.65,58.54 426.98,58.34 427.30,58.18 427.62,58.04 427.95,57.92 428.27,57.82 428.60,57.74 428.93,57.68 429.25,57.63 429.57,57.61 429.90,57.60 430.23,57.61 430.55,57.63 430.88,57.68 431.20,57.74 431.53,57.82 431.85,57.92 432.18,58.04 432.50,58.18 432.82,58.34 433.15,58.54 433.48,58.80 433.80,59.30 433.80,59.30" fill="#1a1aff"/>
<polygon points="467.00,59.30 467.00,59.30 467.24,58.80 467.48,58.54 467.71,58.34 467.95,58.18 468.19,58.04 468.43,57.92 468.66,57.82 468.90,57.74 469.14,57.68 469.38,57.63 469.61,57.61 469.85,57.60 470.09,57.61 470.32,57.63 470.56,57.68 470.80,57.74 471.04,57.82 471.27,57.92 471.51,58.04 471.75,58.18 471.99,58.34 472.22,58.54 472.46,58.80 472.70,59.30 472.70,59.30" fill="#1a1aff"/>
<polygon points="505.60,59.30 505.60,59.30 506.33,58.39 507.07,57.92 507.80,57.56 508.53,57.25 509.27,57.00 510.00,56.78 510.73,56.60 511.47,56.46 512.20,56.34 512.93,56.26 513.67,56.22 514.40,56.20 515.13,56.22 515.87,56.26 516.60,56.34 517.33,56.46 518.07,56.60 518.80,56.78 519.53,57.00 520.27,57.25 521.00,57.56 521.73,57.92 522.47,58.39 523.20,59.30 523.20,59.30" fill="#1a1aff"/>
<polygon points="426.00,72.20 426.00,72.20 426.32,71.52 426.65,71.18 426.98,70.91 427.30,70.68 427.62,70.49 427.95,70.33 428.27,70.20 428.60,70.09 428.93,70.01 429.25,69.95 429.57,69.91 429.90,69.90 430.23,69.91 430.55,69.95 430.88,70.01 431.20,70.09 431.53,70.20 431.85,70.33 432.18,70.49 432.50,70.68 432.82,70.91 433.15,71.18 433.48,71.52 433.80,72.20 433.80,72.20" fill="#1a1aff"/>
<polygon points="467.00,72.20 467.00,72.20 467.24,71.55 467.48,71.22 467.71,70.96 467.95,70.75 468.19,70.57 468.43,70.41 468.66,70.29 468.90,70.18 469.14,70.10 469.38,70.05 469.61,70.01 469.85,70.00 470.09,70.01 470.32,70.05 470.56,70.10 470.80,70.18 471.04,70.29 471.27,70.41 471.51,70.57 471.75,70.75 471.99,70.96 472.22,71.22 472.46,71.55 472.70,72.20 472.70,72.20" fill="#1a1aff"/>
<polygon points="505.60,72.20 505.60,72.20 506.33,71.14 507.07,70.60 507.80,70.18 508.53,69.82 509.27,69.53 510.00,69.28 510.73,69.07 511.47,68.90 512.20,68.77 512.93,68.67 513.67,68.62 514.40,68.60 515.13,68.62 515.87,68.67 516.60,68.77 517.33,68.90 518.07,69.07 518.80,69.28 519.53,69.53 520.27,69.82 521.00,70.18 521.73,70.60 522.47,71.14 523.20,72.20 523.20,72.20" fill="#1a1aff"/>
<polygon points="426.00,98.00 426.00,98.00 426.32,97.06 426.65,96.58 426.98,96.20 427.30,95.89 427.62,95.62 427.95,95.40 428.27,95.21 428.60,95.06 428.93,94.95 429.25,94.87 429.57,94.82 429.90,94.80 430.23,94.82 430.55,94.87 430.88,94.95 431.20,95.06 431.53,95.21 431.85,95.40 432.18,95.62 432.50,95.89 432.82,96.20 433.15,96.58 433.48,97.06 433.80,98.00 433.80,98.00" fill="#ff1010"/>
<polygon points="467.00,98.00 467.00,98.00 467.24,97.23 467.48,96.84 467.71,96.54 467.95,96.28 468.19,96.07 468.43,95.89 468.66,95.74 468.90,95.61 469.14,95.52 469.38,95.45 469.61,95.41 469.85,95.40 470.09,95.41 470.32,95.45 470.56,95.52 470.80,95.61 471.04,95.74 471.27,95.89 471.51,96.07 471.75,96.28 471.99,96.54 472.22,96.84 472.46,97.23 472.70,98.00 472.70,98.00" fill="#ff1010"/>
<polygon points="505.60,98.00 505.60,98.00 506.33,96.67 507.07,96.00 507.80,95.47 508.53,95.03 509.27,94.66 510.00,94.34 510.73,94.08 511.47,93.87 512.20,93.71 512.93,93.59 513.67,93.52 514.40,93.50 515.13,93.52 515.87,93.59 516.60,93.71 517.33,93.87 518.07,94.08 518.80,94.34 519.53,94.66 520.27,95.03 521.00,95.47 521.73,96.00 522.47,96.67 523.20,98.00 523.20,98.00" fill="#ff1010"/>
<polygon points="426.00,110.90 426.00,110.90 426.32,107.66 426.65,106.01 426.98,104.72 427.30,103.64 427.62,102.73 427.95,101.97 428.27,101.33 428.60,100.81 428.93,100.41 429.25,100.13 429.57,99.96 429.90,99.90 430.23,99.96 430.55,100.13 430.88,100.41 431.20,100.81 431.53,101.33 431.85,101.97 432.18,102.73 432.50,103.64 432.82,104.72 433.15,106.01 433.48,107.66 433.80,110.90 433.80,110.90" fill="#ff1010"/>
<polygon points="467.00,110.90 467.00,110.90 467.24,108.66 467.48,107.52 467.71,106.63 467.95,105.89 468.19,105.26 468.43,104.73 468.66,104.29 468.90,103.93 469.14,103.65 469.38,103.46 469.61,103.34 469.85,103.30 470.09,103.34 470.32,103.46 470.56,103.65 470.80,103.93 471.04,104.29 471.27,104.73 471.51,105.26 471.75,105.89 471.99,106.63 472.22,107.52 472.46,108.66 472.70,110.90 472.70,110.90" fill="#ff1010"/>
<polygon points="505.60,110.90 505.60,110.90 506.33,107.66 507.07,106.01 507.80,104.72 508.53,103.64 509.27,102.73 510.00,101.97 510.73,101.33 511.47,100.81 512.20,100.41 512.93,100.13 513.67,99.96 514.40,99.90 515.13,99.96 515.87,100.13 516.60,100.41 517.33,100.81 518.07,101.33 518.80,101.97 519.53,102.73 520.27,103.64 521.00,104.72 521.73,106.01 522.47,107.66 523.20,110.90 523.20,110.90" fill="#ff1010"/>
<line x1="419.70" y1="115.90" x2="524.00" y2="115.90" stroke="#000a8c" stroke-width="0.6"/>
<rect x="426.00" y="114.10" width="6.80" height="3.60" fill="#000a8c"/>
<rect x="467.00" y="114.10" width="5.20" height="3.60" fill="#000a8c"/>
<rect x="506.40" y="114.80" width="17.60" height="2.20" fill="#000a8c"/>
<rect x="508.00" y="114.10" width="9.50" height="3.60" fill="#000a8c"/>
<text x="419.00" y="117.00" font-size="2.6" text-anchor="end" fill="#000a8c">Ccl4</text>
<text x="412.20" y="41.40" font-size="6.9" font-weight="bold" text-anchor="start" fill="#000">Control_BV2</text>
<text x="412.20" y="54.40" font-size="6.6" font-weight="bold" text-anchor="start" fill="#000">LPS 2 h_BV2</text>
<text x="412.20" y="67.40" font-size="6.6" font-weight="bold" text-anchor="start" fill="#000">LPS 4 h_BV2</text>
<text x="412.20" y="80.30" font-size="6.9" font-weight="bold" text-anchor="start" fill="#000">Control_PM</text>
<text x="412.20" y="93.20" font-size="6.6" font-weight="bold" text-anchor="start" fill="#000">LPS 2 h _PM</text>
<text x="412.20" y="106.10" font-size="6.6" font-weight="bold" text-anchor="start" fill="#000">LPS 4 h _PM</text>
<text x="365.60" y="71.20" font-size="11.2" font-weight="bold" text-anchor="middle" fill="#000" transform="rotate(-90 365.60 71.20)">CCL4</text>
<rect x="370.80" y="122.80" width="170.50" height="100.20" fill="#fff" stroke="#222" stroke-width="1"/>
<text x="402.40" y="125.70" font-size="2.6" text-anchor="end" fill="#000">Scale</text>
<text x="402.40" y="128.70" font-size="2.6" text-anchor="end" fill="#000">chr5:</text>
<line x1="450.70" y1="125.00" x2="515.00" y2="125.00" stroke="#444" stroke-width="0.5"/>
<line x1="450.70" y1="124.00" x2="450.70" y2="126.00" stroke="#444" stroke-width="0.5"/>
<line x1="515.00" y1="124.00" x2="515.00" y2="126.00" stroke="#444" stroke-width="0.5"/>
<text x="449.70" y="125.80" font-size="2.6" text-anchor="end" fill="#000">1 kb</text>
<text x="516.50" y="125.80" font-size="2.6" text-anchor="start" fill="#000">mm10</text>
<text x="417.70" y="129.10" font-size="2.6" text-anchor="end" fill="#333">|</text>
<text x="446.40" y="129.10" font-size="2.6" text-anchor="end" fill="#333">90,891,500|</text>
<text x="475.00" y="129.10" font-size="2.6" text-anchor="end" fill="#333">90,892,000|</text>
<text x="503.90" y="129.10" font-size="2.6" text-anchor="end" fill="#333">90,892,500|</text>
<text x="533.40" y="129.10" font-size="2.6" text-anchor="end" fill="#333">90,893,000|</text>
<line x1="403.60" y1="123.40" x2="403.60" y2="222.40" stroke="#ff9a9a" stroke-width="0.5" stroke-dasharray="0.8 0.8"/>
<line x1="403.60" y1="144.30" x2="540.80" y2="144.30" stroke="#888" stroke-width="0.45"/>
<text x="402.10" y="133.60" font-size="2.5" text-anchor="end" fill="#333">300 _</text>
<text x="402.10" y="144.90" font-size="2.5" text-anchor="end" fill="#333">0 _</text>
<text x="402.40" y="138.95" font-size="2.8" text-anchor="end" fill="#333">BV2-Cont Total Tags</text>
<text x="443.00" y="133.40" font-size="3.1" text-anchor="start" fill="#333">BV2-Cont Total Tags = 1.39e+07, normalized to 1.00e+07</text>
<line x1="403.60" y1="144.90" x2="540.80" y2="144.90" stroke="#666" stroke-width="0.45"/>
<line x1="403.60" y1="158.70" x2="540.80" y2="158.70" stroke="#5a5aff" stroke-width="0.45"/>
<text x="402.10" y="147.50" font-size="2.5" text-anchor="end" fill="#1a1aff">300 _</text>
<text x="402.10" y="159.30" font-size="2.5" text-anchor="end" fill="#1a1aff">0 _</text>
<text x="402.40" y="153.10" font-size="2.8" text-anchor="end" fill="#1a1aff">BV2-LPS-2h Total Tags</text>
<text x="443.00" y="147.30" font-size="3.1" text-anchor="start" fill="#1a1aff">BV2-LPS-2h Total Tags = 1.72e+07, normalized to 1.00e+07</text>
<line x1="403.60" y1="159.30" x2="540.80" y2="159.30" stroke="#666" stroke-width="0.45"/>
<line x1="403.60" y1="172.60" x2="540.80" y2="172.60" stroke="#5a5aff" stroke-width="0.45"/>
<text x="402.10" y="161.90" font-size="2.5" text-anchor="end" fill="#1a1aff">300 _</text>
<text x="402.10" y="173.20" font-size="2.5" text-anchor="end" fill="#1a1aff">0 _</text>
<text x="402.40" y="167.25" font-size="2.8" text-anchor="end" fill="#1a1aff">BV2-LPS-4h Total Tags</text>
<text x="443.00" y="161.70" font-size="3.1" text-anchor="start" fill="#1a1aff">BV2-LPS-4h Total Tags = 1.59e+07, normalized to 1.00e+07</text>
<line x1="403.60" y1="173.20" x2="540.80" y2="173.20" stroke="#666" stroke-width="0.45"/>
<line x1="403.60" y1="187.10" x2="540.80" y2="187.10" stroke="#888" stroke-width="0.45"/>
<text x="402.10" y="175.80" font-size="2.5" text-anchor="end" fill="#333">300 _</text>
<text x="402.10" y="187.70" font-size="2.5" text-anchor="end" fill="#333">0 _</text>
<text x="402.40" y="181.45" font-size="2.8" text-anchor="end" fill="#333">PMG-Cont Total Tags</text>
<text x="443.00" y="175.60" font-size="3.1" text-anchor="start" fill="#333">PMG-Cont Total Tags = 1.40e+07, normalized to 1.00e+07</text>
<line x1="403.60" y1="187.70" x2="540.80" y2="187.70" stroke="#666" stroke-width="0.45"/>
<line x1="403.60" y1="201.30" x2="540.80" y2="201.30" stroke="#ff6a6a" stroke-width="0.45"/>
<text x="402.10" y="190.30" font-size="2.5" text-anchor="end" fill="#ff1010">300 _</text>
<text x="402.10" y="201.90" font-size="2.5" text-anchor="end" fill="#ff1010">0 _</text>
<text x="402.40" y="195.80" font-size="2.8" text-anchor="end" fill="#ff1010">PMG-LPS-2h Total Tags</text>
<text x="443.00" y="190.10" font-size="3.1" text-anchor="start" fill="#ff1010">PMG-LPS-2h Total Tags = 1.73e+07, normalized to 1.00e+07</text>
<line x1="403.60" y1="201.90" x2="540.80" y2="201.90" stroke="#666" stroke-width="0.45"/>
<line x1="403.60" y1="215.70" x2="540.80" y2="215.70" stroke="#ff6a6a" stroke-width="0.45"/>
<text x="402.10" y="204.50" font-size="2.5" text-anchor="end" fill="#ff1010">300 _</text>
<text x="402.10" y="216.30" font-size="2.5" text-anchor="end" fill="#ff1010">0 _</text>
<text x="402.40" y="210.10" font-size="2.8" text-anchor="end" fill="#ff1010">PMG-LPS-4h Total Tags</text>
<text x="443.00" y="204.30" font-size="3.1" text-anchor="start" fill="#ff1010">PMG-LPS-4h Total Tags = 1.80e+07, normalized to 1.00e+07</text>
<text x="437.00" y="218.70" font-size="3.1" text-anchor="start" fill="#224">UCSC Genes (RefSeq, GenBank, tRNAs &amp; Comparative Genomics)</text>
<polygon points="430.70,201.30 430.70,201.30 431.08,200.83 431.47,200.59 431.85,200.40 432.23,200.24 432.62,200.11 433.00,200.00 433.38,199.91 433.77,199.83 434.15,199.77 434.53,199.73 434.92,199.71 435.30,199.70 435.68,199.71 436.07,199.73 436.45,199.77 436.83,199.83 437.22,199.91 437.60,200.00 437.98,200.11 438.37,200.24 438.75,200.40 439.13,200.59 439.52,200.83 439.90,201.30 439.90,201.30" fill="#ff1010"/>
<polygon points="443.80,201.30 443.80,201.30 444.15,200.83 444.50,200.59 444.85,200.40 445.20,200.24 445.55,200.11 445.90,200.00 446.25,199.91 446.60,199.83 446.95,199.77 447.30,199.73 447.65,199.71 448.00,199.70 448.35,199.71 448.70,199.73 449.05,199.77 449.40,199.83 449.75,199.91 450.10,200.00 450.45,200.11 450.80,200.24 451.15,200.40 451.50,200.59 451.85,200.83 452.20,201.30 452.20,201.30" fill="#ff1010"/>
<polygon points="504.30,201.30 504.30,201.30 505.19,200.48 506.07,199.69 506.96,199.05 507.84,198.64 508.73,199.03 509.61,199.44 510.50,199.79 511.38,200.04 512.26,200.16 513.15,200.14 514.03,200.00 514.92,199.77 515.81,199.50 516.69,199.25 517.58,199.07 518.46,198.99 519.35,199.02 520.23,199.16 521.12,199.39 522.00,199.64 522.88,199.87 523.77,200.03 524.65,200.07 525.54,199.98 526.43,199.76 527.31,199.43 528.20,199.04 529.08,198.64 529.97,198.30 530.85,198.06 531.74,197.96 532.62,198.00 533.50,198.18 534.39,198.46 535.28,198.79 536.16,199.11 537.05,199.86 537.93,200.42 538.82,200.87 539.70,201.30 539.70,201.30" fill="#ff1010"/>
<polygon points="430.70,215.70 430.70,215.70 431.08,213.75 431.47,212.77 431.85,211.99 432.23,211.35 432.62,210.80 433.00,210.34 433.38,209.96 433.77,209.65 434.15,209.41 434.53,209.24 434.92,209.13 435.30,209.10 435.68,209.13 436.07,209.24 436.45,209.41 436.83,209.65 437.22,209.96 437.60,210.34 437.98,210.80 438.37,211.35 438.75,211.99 439.13,212.77 439.52,213.75 439.90,215.70 439.90,215.70" fill="#ff1010"/>
<polygon points="443.80,215.70 443.80,215.70 444.15,213.75 444.50,212.77 444.85,211.99 445.20,211.35 445.55,210.80 445.90,210.34 446.25,209.96 446.60,209.65 446.95,209.41 447.30,209.24 447.65,209.13 448.00,209.10 448.35,209.13 448.70,209.24 449.05,209.41 449.40,209.65 449.75,209.96 450.10,210.34 450.45,210.80 450.80,211.35 451.15,211.99 451.50,212.77 451.85,213.75 452.20,215.70 452.20,215.70" fill="#ff1010"/>
<polygon points="504.30,215.70 504.30,215.70 505.20,214.68 506.10,213.87 507.00,213.30 507.90,212.85 508.80,212.98 509.70,212.83 510.60,212.42 511.50,211.80 512.40,211.10 513.30,210.46 514.20,209.99 515.10,209.79 516.00,209.86 516.90,210.15 517.80,210.56 518.70,210.94 519.60,211.17 520.50,211.15 521.40,210.85 522.30,210.30 523.20,209.60 524.10,208.88 525.00,208.28 525.90,207.90 526.80,207.80 527.70,207.95 528.60,208.29 529.50,208.68 530.40,208.99 531.30,209.10 532.20,208.94 533.10,208.51 534.00,207.86 534.90,207.98 535.80,208.74 536.70,209.82 537.60,211.16 538.50,212.67 539.40,214.22 540.30,215.70 540.30,215.70" fill="#ff1010"/>
<line x1="421.50" y1="220.50" x2="540.50" y2="220.50" stroke="#000a8c" stroke-width="0.6"/>
<rect x="432.00" y="218.80" width="6.60" height="3.40" fill="#000a8c"/>
<rect x="443.80" y="218.80" width="6.60" height="3.40" fill="#000a8c"/>
<rect x="458.30" y="218.80" width="4.40" height="3.40" fill="#000a8c"/>
<rect x="508.20" y="219.40" width="32.30" height="2.20" fill="#000a8c"/>
<rect x="508.20" y="218.80" width="11.80" height="3.40" fill="#000a8c"/>
<text x="421.00" y="221.50" font-size="2.6" text-anchor="end" fill="#000a8c">Cxcl1</text>
<text x="412.20" y="141.10" font-size="6.9" font-weight="bold" text-anchor="start" fill="#000">Control_BV2</text>
<text x="412.20" y="154.30" font-size="6.6" font-weight="bold" text-anchor="start" fill="#000">LPS 2 h_BV2</text>
<text x="412.20" y="170.50" font-size="6.6" font-weight="bold" text-anchor="start" fill="#000">LPS 4 h_BV2</text>
<text x="412.20" y="183.70" font-size="6.9" font-weight="bold" text-anchor="start" fill="#000">Control_PM</text>
<text x="412.20" y="196.80" font-size="6.6" font-weight="bold" text-anchor="start" fill="#000">LPS 2 h _PM</text>
<text x="412.20" y="209.60" font-size="6.6" font-weight="bold" text-anchor="start" fill="#000">LPS 4 h _PM</text>
<text x="365.00" y="172.30" font-size="11.2" font-weight="bold" text-anchor="middle" fill="#000" transform="rotate(-90 365.00 172.30)">CXCL1</text>
<rect x="370.80" y="225.80" width="170.50" height="97.80" fill="#fff" stroke="#222" stroke-width="1"/>
<text x="402.80" y="228.70" font-size="2.6" text-anchor="end" fill="#000">Scale</text>
<text x="402.80" y="231.70" font-size="2.6" text-anchor="end" fill="#000">chr19:</text>
<line x1="454.50" y1="228.00" x2="515.00" y2="228.00" stroke="#444" stroke-width="0.5"/>
<line x1="454.50" y1="227.00" x2="454.50" y2="229.00" stroke="#444" stroke-width="0.5"/>
<line x1="515.00" y1="227.00" x2="515.00" y2="229.00" stroke="#444" stroke-width="0.5"/>
<text x="453.50" y="228.80" font-size="2.6" text-anchor="end" fill="#000">5 kb</text>
<text x="516.50" y="228.80" font-size="2.6" text-anchor="start" fill="#000">mm10</text>
<text x="420.70" y="232.10" font-size="2.6" text-anchor="end" fill="#333">|</text>
<text x="480.50" y="232.10" font-size="2.6" text-anchor="end" fill="#333">34,645,000|</text>
<text x="540.60" y="232.10" font-size="2.6" text-anchor="end" fill="#333">34,650,000|</text>
<line x1="404.00" y1="226.40" x2="404.00" y2="323.00" stroke="#ff9a9a" stroke-width="0.5" stroke-dasharray="0.8 0.8"/>
<line x1="404.00" y1="245.10" x2="540.80" y2="245.10" stroke="#888" stroke-width="0.45"/>
<text x="402.50" y="236.60" font-size="2.5" text-anchor="end" fill="#333">300 _</text>
<text x="402.50" y="245.70" font-size="2.5" text-anchor="end" fill="#333">0 _</text>
<text x="402.80" y="240.85" font-size="2.8" text-anchor="end" fill="#333">BV2-Cont Total Tags</text>
<text x="440.00" y="236.40" font-size="3.1" text-anchor="start" fill="#333">BV2-Cont Total Tags = 1.39e+07, normalized to 1.00e+07</text>
<line x1="404.00" y1="245.70" x2="540.80" y2="245.70" stroke="#666" stroke-width="0.45"/>
<line x1="404.00" y1="258.20" x2="540.80" y2="258.20" stroke="#5a5aff" stroke-width="0.45"/>
<text x="402.50" y="248.30" font-size="2.5" text-anchor="end" fill="#1a1aff">300 _</text>
<text x="402.50" y="258.80" font-size="2.5" text-anchor="end" fill="#1a1aff">0 _</text>
<text x="402.80" y="253.25" font-size="2.8" text-anchor="end" fill="#1a1aff">BV2-LPS-2h Total Tags</text>
<text x="440.00" y="248.10" font-size="3.1" text-anchor="start" fill="#1a1aff">BV2-LPS-2h Total Tags = 1.72e+07, normalized to 1.00e+07</text>
<line x1="404.00" y1="258.80" x2="540.80" y2="258.80" stroke="#666" stroke-width="0.45"/>
<line x1="404.00" y1="271.30" x2="540.80" y2="271.30" stroke="#5a5aff" stroke-width="0.45"/>
<text x="402.50" y="261.40" font-size="2.5" text-anchor="end" fill="#1a1aff">300 _</text>
<text x="402.50" y="271.90" font-size="2.5" text-anchor="end" fill="#1a1aff">0 _</text>
<text x="402.80" y="266.35" font-size="2.8" text-anchor="end" fill="#1a1aff">BV2-LPS-4h Total Tags</text>
<text x="440.00" y="261.20" font-size="3.1" text-anchor="start" fill="#1a1aff">BV2-LPS-4h Total Tags = 1.59e+07, normalized to 1.00e+07</text>
<line x1="404.00" y1="271.90" x2="540.80" y2="271.90" stroke="#666" stroke-width="0.45"/>
<line x1="404.00" y1="284.50" x2="540.80" y2="284.50" stroke="#888" stroke-width="0.45"/>
<text x="402.50" y="274.50" font-size="2.5" text-anchor="end" fill="#333">300 _</text>
<text x="402.50" y="285.10" font-size="2.5" text-anchor="end" fill="#333">0 _</text>
<text x="402.80" y="279.50" font-size="2.8" text-anchor="end" fill="#333">PMG-Cont Total Tags</text>
<text x="440.00" y="274.30" font-size="3.1" text-anchor="start" fill="#333">PMG-Cont Total Tags = 1.40e+07, normalized to 1.00e+07</text>
<line x1="404.00" y1="285.10" x2="540.80" y2="285.10" stroke="#666" stroke-width="0.45"/>
<line x1="404.00" y1="297.60" x2="540.80" y2="297.60" stroke="#ff6a6a" stroke-width="0.45"/>
<text x="402.50" y="287.70" font-size="2.5" text-anchor="end" fill="#ff1010">300 _</text>
<text x="402.50" y="298.20" font-size="2.5" text-anchor="end" fill="#ff1010">0 _</text>
<text x="402.80" y="292.65" font-size="2.8" text-anchor="end" fill="#ff1010">PMG-LPS-2h Total Tags</text>
<text x="440.00" y="287.50" font-size="3.1" text-anchor="start" fill="#ff1010">PMG-LPS-2h Total Tags = 1.73e+07, normalized to 1.00e+07</text>
<line x1="404.00" y1="298.20" x2="540.80" y2="298.20" stroke="#666" stroke-width="0.45"/>
<line x1="404.00" y1="310.80" x2="540.80" y2="310.80" stroke="#ff6a6a" stroke-width="0.45"/>
<text x="402.50" y="300.80" font-size="2.5" text-anchor="end" fill="#ff1010">300 _</text>
<text x="402.50" y="311.40" font-size="2.5" text-anchor="end" fill="#ff1010">0 _</text>
<text x="402.80" y="305.80" font-size="2.8" text-anchor="end" fill="#ff1010">PMG-LPS-4h Total Tags</text>
<text x="440.00" y="300.60" font-size="3.1" text-anchor="start" fill="#ff1010">PMG-LPS-4h Total Tags = 1.80e+07, normalized to 1.00e+07</text>
<text x="434.00" y="313.80" font-size="3.1" text-anchor="start" fill="#224">UCSC Genes (RefSeq, GenBank, tRNAs &amp; Comparative Genomics)</text>
<polygon points="510.00,271.30 510.00,271.30 511.01,271.02 512.02,270.80 513.03,270.56 514.04,270.45 515.05,270.26 516.06,270.04 517.07,269.84 518.08,269.72 519.09,269.72 520.10,269.84 521.11,270.05 522.12,270.28 523.13,270.49 524.14,270.62 525.15,270.63 526.16,270.55 527.17,270.41 528.18,270.28 529.19,270.19 530.20,270.20 531.21,270.31 532.22,270.48 533.23,270.66 534.24,270.80 535.25,270.83 536.26,270.75 537.27,270.57 538.28,270.65 539.29,270.89 540.30,271.30 540.30,271.30" fill="#1a1aff"/>
<polygon points="510.00,297.60 510.00,297.60 511.01,297.40 512.02,297.20 513.03,296.93 514.04,296.84 515.05,296.75 516.06,296.70 517.07,296.71 518.08,296.80 519.09,296.95 520.10,297.11 521.11,297.25 522.12,297.33 523.13,297.32 524.14,297.23 525.15,297.09 526.16,296.93 527.17,296.81 528.18,296.74 529.19,296.75 530.20,296.82 531.21,296.91 532.22,296.99 533.23,297.03 534.24,297.00 535.25,296.90 536.26,296.77 537.27,296.64 538.28,296.90 539.29,297.24 540.30,297.60 540.30,297.60" fill="#ff1010"/>
<polygon points="510.00,310.80 510.00,310.80 510.50,310.32 511.01,309.50 511.51,308.39 512.02,307.34 512.52,306.80 513.03,306.89 513.53,307.72 514.04,307.94 514.54,307.29 515.05,305.96 515.55,304.47 516.06,303.46 516.56,303.36 517.07,304.16 517.58,305.44 518.08,306.57 518.59,307.05 519.09,306.74 519.60,305.95 520.10,305.23 520.61,305.11 521.11,305.78 521.62,307.02 522.12,308.26 522.62,308.90 523.13,308.60 523.63,307.45 524.14,305.94 524.64,304.73 525.15,304.28 525.65,304.68 526.16,305.56 526.66,306.36 527.17,306.56 527.67,306.02 528.18,305.00 528.68,304.06 529.19,303.78 529.69,304.40 530.20,305.76 530.70,307.30 531.21,308.39 531.71,308.60 532.22,307.94 532.72,306.81 533.23,305.82 533.74,305.47 534.24,305.87 534.75,306.72 535.25,307.44 535.75,307.52 536.26,306.76 536.76,305.41 537.27,304.03 537.77,304.51 538.28,305.88 538.78,307.63 539.29,309.15 539.79,310.16 540.30,310.80 540.30,310.80" fill="#ff1010"/>
<line x1="380.00" y1="315.70" x2="540.50" y2="315.70" stroke="#000a8c" stroke-width="0.4" stroke-dasharray="1.2 0.8"/>
<text x="379.50" y="316.60" font-size="2.5" text-anchor="end" fill="#000a8c">Gm14446</text>
<line x1="404.00" y1="318.60" x2="429.40" y2="318.60" stroke="#000a8c" stroke-width="0.5"/>
<rect x="428.20" y="317.40" width="1.80" height="2.40" fill="#000a8c"/>
<text x="403.50" y="319.50" font-size="2.5" text-anchor="end" fill="#000a8c">2010002M12Rik</text>
<line x1="426.50" y1="321.40" x2="540.50" y2="321.40" stroke="#000a8c" stroke-width="0.5"/>
<rect x="430.60" y="320.30" width="1.50" height="2.20" fill="#000a8c"/>
<rect x="510.00" y="320.20" width="15.20" height="2.60" fill="#000a8c"/>
<rect x="525.00" y="320.60" width="15.50" height="1.70" fill="#000a8c"/>
<text x="426.00" y="322.30" font-size="2.5" text-anchor="end" fill="#000a8c">Ifit1</text>
<text x="414.20" y="243.60" font-size="6.9" font-weight="bold" text-anchor="start" fill="#000">Control_BV2</text>
<text x="414.20" y="256.80" font-size="6.6" font-weight="bold" text-anchor="start" fill="#000">LPS 2 h_BV2</text>
<text x="414.20" y="269.60" font-size="6.6" font-weight="bold" text-anchor="start" fill="#000">LPS 4 h_BV2</text>
<text x="414.20" y="282.20" font-size="6.9" font-weight="bold" text-anchor="start" fill="#000">Control_PM</text>
<text x="414.20" y="295.30" font-size="6.6" font-weight="bold" text-anchor="start" fill="#000">LPS 2 h _PM</text>
<text x="414.20" y="308.40" font-size="6.6" font-weight="bold" text-anchor="start" fill="#000">LPS 4 h _PM</text>
<text x="365.40" y="271.50" font-size="11.2" font-weight="bold" text-anchor="middle" fill="#000" transform="rotate(-90 365.40 271.50)">IFIT1</text>
<text x="547.30" y="18.60" font-size="19" font-weight="bold" text-anchor="start" fill="#000">d</text>
<line x1="566.90" y1="310.50" x2="566.90" y2="24.10" stroke="#000" stroke-width="1.7"/>
<path d="M562.70 29.40 L566.90 23.70 L571.10 29.40" fill="none" stroke="#000" stroke-width="1.7" stroke-linejoin="miter"/>
<text x="561.90" y="165.30" font-size="10" font-weight="bold" text-anchor="middle" fill="#000" transform="rotate(-90 561.90 165.30)">Expression (Read count)</text>
<line x1="591.90" y1="27.90" x2="591.90" y2="114.50" stroke="#222" stroke-width="0.8"/>
<line x1="591.90" y1="114.50" x2="683.50" y2="114.50" stroke="#222" stroke-width="0.8"/>
<line x1="589.70" y1="114.50" x2="591.90" y2="114.50" stroke="#222" stroke-width="0.6"/>
<text x="0" y="0" font-size="4.1" font-weight="bold" text-anchor="end" fill="#000" transform="translate(588.70 115.95) scale(1.5 1)">0</text>
<line x1="590.70" y1="105.87" x2="591.90" y2="105.87" stroke="#222" stroke-width="0.5"/>
<line x1="589.70" y1="97.24" x2="591.90" y2="97.24" stroke="#222" stroke-width="0.6"/>
<text x="0" y="0" font-size="4.1" font-weight="bold" text-anchor="end" fill="#000" transform="translate(588.70 98.69) scale(1.5 1)">3000</text>
<line x1="590.70" y1="88.61" x2="591.90" y2="88.61" stroke="#222" stroke-width="0.5"/>
<line x1="589.70" y1="79.98" x2="591.90" y2="79.98" stroke="#222" stroke-width="0.6"/>
<text x="0" y="0" font-size="4.1" font-weight="bold" text-anchor="end" fill="#000" transform="translate(588.70 81.43) scale(1.5 1)">6000</text>
<line x1="590.70" y1="71.35" x2="591.90" y2="71.35" stroke="#222" stroke-width="0.5"/>
<line x1="589.70" y1="62.72" x2="591.90" y2="62.72" stroke="#222" stroke-width="0.6"/>
<text x="0" y="0" font-size="4.1" font-weight="bold" text-anchor="end" fill="#000" transform="translate(588.70 64.17) scale(1.5 1)">9000</text>
<line x1="590.70" y1="54.09" x2="591.90" y2="54.09" stroke="#222" stroke-width="0.5"/>
<line x1="589.70" y1="45.46" x2="591.90" y2="45.46" stroke="#222" stroke-width="0.6"/>
<text x="0" y="0" font-size="4.1" font-weight="bold" text-anchor="end" fill="#000" transform="translate(588.70 46.91) scale(1.5 1)">12000</text>
<line x1="590.70" y1="36.83" x2="591.90" y2="36.83" stroke="#222" stroke-width="0.5"/>
<line x1="589.70" y1="28.20" x2="591.90" y2="28.20" stroke="#222" stroke-width="0.6"/>
<text x="0" y="0" font-size="4.1" font-weight="bold" text-anchor="end" fill="#000" transform="translate(588.70 29.65) scale(1.5 1)">15000</text>
<line x1="600.15" y1="114.50" x2="600.15" y2="115.80" stroke="#222" stroke-width="0.5"/>
<rect x="595.50" y="112.80" width="9.30" height="1.70" fill="#000"/>
<line x1="615.35" y1="114.50" x2="615.35" y2="115.80" stroke="#222" stroke-width="0.5"/>
<line x1="630.55" y1="114.50" x2="630.55" y2="115.80" stroke="#222" stroke-width="0.5"/>
<rect x="625.90" y="101.60" width="9.30" height="12.90" fill="#000"/>
<line x1="645.75" y1="114.50" x2="645.75" y2="115.80" stroke="#222" stroke-width="0.5"/>
<rect x="641.10" y="98.90" width="9.30" height="15.60" fill="#000"/>
<line x1="660.95" y1="114.50" x2="660.95" y2="115.80" stroke="#222" stroke-width="0.5"/>
<rect x="656.30" y="90.80" width="9.30" height="23.70" fill="#000"/>
<line x1="676.15" y1="114.50" x2="676.15" y2="115.80" stroke="#222" stroke-width="0.5"/>
<rect x="671.50" y="29.60" width="9.30" height="84.90" fill="#000"/>
<text x="609.90" y="79.10" font-size="9.7" font-weight="bold" text-anchor="start" fill="#000">CCL4</text>
<line x1="592.30" y1="121.80" x2="592.30" y2="213.70" stroke="#222" stroke-width="0.8"/>
<line x1="592.30" y1="213.70" x2="683.50" y2="213.70" stroke="#222" stroke-width="0.8"/>
<line x1="590.10" y1="213.70" x2="592.30" y2="213.70" stroke="#222" stroke-width="0.6"/>
<text x="0" y="0" font-size="4.1" font-weight="bold" text-anchor="end" fill="#000" transform="translate(589.10 215.15) scale(1.5 1)">0</text>
<line x1="591.10" y1="202.25" x2="592.30" y2="202.25" stroke="#222" stroke-width="0.5"/>
<line x1="590.10" y1="190.80" x2="592.30" y2="190.80" stroke="#222" stroke-width="0.6"/>
<text x="0" y="0" font-size="4.1" font-weight="bold" text-anchor="end" fill="#000" transform="translate(589.10 192.25) scale(1.5 1)">1000</text>
<line x1="591.10" y1="179.35" x2="592.30" y2="179.35" stroke="#222" stroke-width="0.5"/>
<line x1="590.10" y1="167.90" x2="592.30" y2="167.90" stroke="#222" stroke-width="0.6"/>
<text x="0" y="0" font-size="4.1" font-weight="bold" text-anchor="end" fill="#000" transform="translate(589.10 169.35) scale(1.5 1)">2000</text>
<line x1="591.10" y1="156.45" x2="592.30" y2="156.45" stroke="#222" stroke-width="0.5"/>
<line x1="590.10" y1="145.00" x2="592.30" y2="145.00" stroke="#222" stroke-width="0.6"/>
<text x="0" y="0" font-size="4.1" font-weight="bold" text-anchor="end" fill="#000" transform="translate(589.10 146.45) scale(1.5 1)">3000</text>
<line x1="591.10" y1="133.55" x2="592.30" y2="133.55" stroke="#222" stroke-width="0.5"/>
<line x1="590.10" y1="122.10" x2="592.30" y2="122.10" stroke="#222" stroke-width="0.6"/>
<text x="0" y="0" font-size="4.1" font-weight="bold" text-anchor="end" fill="#000" transform="translate(589.10 123.55) scale(1.5 1)">4000</text>
<line x1="600.15" y1="213.70" x2="600.15" y2="215.00" stroke="#222" stroke-width="0.5"/>
<line x1="615.35" y1="213.70" x2="615.35" y2="215.00" stroke="#222" stroke-width="0.5"/>
<line x1="630.55" y1="213.70" x2="630.55" y2="215.00" stroke="#222" stroke-width="0.5"/>
<line x1="645.75" y1="213.70" x2="645.75" y2="215.00" stroke="#222" stroke-width="0.5"/>
<line x1="660.95" y1="213.70" x2="660.95" y2="215.00" stroke="#222" stroke-width="0.5"/>
<rect x="656.30" y="185.10" width="9.30" height="28.60" fill="#000"/>
<line x1="676.15" y1="213.70" x2="676.15" y2="215.00" stroke="#222" stroke-width="0.5"/>
<rect x="671.50" y="126.90" width="9.30" height="86.80" fill="#000"/>
<text x="615.10" y="152.00" font-size="9.7" font-weight="bold" text-anchor="start" fill="#000">CXCL1</text>
<line x1="592.30" y1="222.00" x2="592.30" y2="312.20" stroke="#222" stroke-width="0.8"/>
<line x1="592.30" y1="312.20" x2="683.50" y2="312.20" stroke="#222" stroke-width="0.8"/>
<line x1="590.10" y1="312.20" x2="592.30" y2="312.20" stroke="#222" stroke-width="0.6"/>
<text x="0" y="0" font-size="4.1" font-weight="bold" text-anchor="end" fill="#000" transform="translate(589.10 313.65) scale(1.5 1)">0</text>
<line x1="591.10" y1="303.21" x2="592.30" y2="303.21" stroke="#222" stroke-width="0.5"/>
<line x1="590.10" y1="294.22" x2="592.30" y2="294.22" stroke="#222" stroke-width="0.6"/>
<text x="0" y="0" font-size="4.1" font-weight="bold" text-anchor="end" fill="#000" transform="translate(589.10 295.67) scale(1.5 1)">1500</text>
<line x1="591.10" y1="285.23" x2="592.30" y2="285.23" stroke="#222" stroke-width="0.5"/>
<line x1="590.10" y1="276.24" x2="592.30" y2="276.24" stroke="#222" stroke-width="0.6"/>
<text x="0" y="0" font-size="4.1" font-weight="bold" text-anchor="end" fill="#000" transform="translate(589.10 277.69) scale(1.5 1)">3000</text>
<line x1="591.10" y1="267.25" x2="592.30" y2="267.25" stroke="#222" stroke-width="0.5"/>
<line x1="590.10" y1="258.26" x2="592.30" y2="258.26" stroke="#222" stroke-width="0.6"/>
<text x="0" y="0" font-size="4.1" font-weight="bold" text-anchor="end" fill="#000" transform="translate(589.10 259.71) scale(1.5 1)">4500</text>
<line x1="591.10" y1="249.27" x2="592.30" y2="249.27" stroke="#222" stroke-width="0.5"/>
<line x1="590.10" y1="240.28" x2="592.30" y2="240.28" stroke="#222" stroke-width="0.6"/>
<text x="0" y="0" font-size="4.1" font-weight="bold" text-anchor="end" fill="#000" transform="translate(589.10 241.73) scale(1.5 1)">6000</text>
<line x1="591.10" y1="231.29" x2="592.30" y2="231.29" stroke="#222" stroke-width="0.5"/>
<line x1="590.10" y1="222.30" x2="592.30" y2="222.30" stroke="#222" stroke-width="0.6"/>
<text x="0" y="0" font-size="4.1" font-weight="bold" text-anchor="end" fill="#000" transform="translate(589.10 223.75) scale(1.5 1)">7500</text>
<line x1="600.15" y1="312.20" x2="600.15" y2="313.50" stroke="#222" stroke-width="0.5"/>
<line x1="615.35" y1="312.20" x2="615.35" y2="313.50" stroke="#222" stroke-width="0.5"/>
<line x1="630.55" y1="312.20" x2="630.55" y2="313.50" stroke="#222" stroke-width="0.5"/>
<rect x="625.90" y="310.30" width="9.30" height="1.90" fill="#000"/>
<line x1="645.75" y1="312.20" x2="645.75" y2="313.50" stroke="#222" stroke-width="0.5"/>
<rect x="641.10" y="294.30" width="9.30" height="17.90" fill="#000"/>
<line x1="660.95" y1="312.20" x2="660.95" y2="313.50" stroke="#222" stroke-width="0.5"/>
<rect x="656.30" y="298.90" width="9.30" height="13.30" fill="#000"/>
<line x1="676.15" y1="312.20" x2="676.15" y2="313.50" stroke="#222" stroke-width="0.5"/>
<rect x="671.50" y="229.10" width="9.30" height="83.10" fill="#000"/>
<text x="608.80" y="238.10" font-size="9.7" font-weight="bold" text-anchor="start" fill="#000">IFIT1</text>
<text x="606.95" y="317.80" font-size="7" font-weight="bold" text-anchor="end" fill="#000" transform="rotate(-45 606.95 317.80)">Con_BV2</text>
<text x="621.95" y="317.80" font-size="7" font-weight="bold" text-anchor="end" fill="#000" transform="rotate(-45 621.95 317.80)">Con_PM</text>
<text x="635.65" y="317.80" font-size="7" font-weight="bold" text-anchor="end" fill="#000" transform="rotate(-45 635.65 317.80)">LPS 2 h_BV2</text>
<text x="649.65" y="317.80" font-size="7" font-weight="bold" text-anchor="end" fill="#000" transform="rotate(-45 649.65 317.80)">LPS 4 h_BV2</text>
<text x="666.25" y="317.80" font-size="7" font-weight="bold" text-anchor="end" fill="#000" transform="rotate(-45 666.25 317.80)">LPS 2 h_PM</text>
<text x="683.15" y="317.80" font-size="7" font-weight="bold" text-anchor="end" fill="#000" transform="rotate(-45 683.15 317.80)">LPS 4 h_PM</text>
<text x="182.10" y="373.50" font-size="19" font-weight="bold" text-anchor="start" fill="#000">e</text>
<line x1="217.80" y1="554.60" x2="217.80" y2="376.20" stroke="#000" stroke-width="1.6"/>
<path d="M214.20 380.50 L217.80 375.80 L221.40 380.50" fill="none" stroke="#000" stroke-width="1.6" stroke-linejoin="miter"/>
<text x="210.80" y="461.00" font-size="8.5" font-weight="bold" text-anchor="middle" fill="#000" transform="rotate(-90 210.80 461.00)">Relative expression</text>
<line x1="236.60" y1="380.00" x2="236.60" y2="454.10" stroke="#222" stroke-width="0.9"/>
<line x1="236.60" y1="454.10" x2="325.80" y2="454.10" stroke="#777" stroke-width="0.9"/>
<line x1="233.80" y1="454.12" x2="236.60" y2="454.12" stroke="#222" stroke-width="0.6"/>
<text x="0" y="0" font-size="4.1" font-weight="bold" text-anchor="end" fill="#000" transform="translate(232.60 455.60) scale(1.5 1)">-100</text>
<line x1="235.06" y1="450.77" x2="236.60" y2="450.77" stroke="#333" stroke-width="0.4"/>
<line x1="233.80" y1="447.41" x2="236.60" y2="447.41" stroke="#222" stroke-width="0.6"/>
<text x="0" y="0" font-size="4.1" font-weight="bold" text-anchor="end" fill="#000" transform="translate(232.60 448.89) scale(1.5 1)">-50</text>
<line x1="235.06" y1="444.06" x2="236.60" y2="444.06" stroke="#333" stroke-width="0.4"/>
<line x1="233.80" y1="440.70" x2="236.60" y2="440.70" stroke="#222" stroke-width="0.6"/>
<text x="0" y="0" font-size="4.1" font-weight="bold" text-anchor="end" fill="#000" transform="translate(232.60 442.18) scale(1.5 1)">0</text>
<line x1="235.06" y1="437.34" x2="236.60" y2="437.34" stroke="#333" stroke-width="0.4"/>
<line x1="233.80" y1="433.99" x2="236.60" y2="433.99" stroke="#222" stroke-width="0.6"/>
<text x="0" y="0" font-size="4.1" font-weight="bold" text-anchor="end" fill="#000" transform="translate(232.60 435.46) scale(1.5 1)">50</text>
<line x1="235.06" y1="430.63" x2="236.60" y2="430.63" stroke="#333" stroke-width="0.4"/>
<line x1="233.80" y1="427.28" x2="236.60" y2="427.28" stroke="#222" stroke-width="0.6"/>
<text x="0" y="0" font-size="4.1" font-weight="bold" text-anchor="end" fill="#000" transform="translate(232.60 428.75) scale(1.5 1)">100</text>
<line x1="235.06" y1="423.92" x2="236.60" y2="423.92" stroke="#333" stroke-width="0.4"/>
<line x1="233.80" y1="420.57" x2="236.60" y2="420.57" stroke="#222" stroke-width="0.6"/>
<text x="0" y="0" font-size="4.1" font-weight="bold" text-anchor="end" fill="#000" transform="translate(232.60 422.04) scale(1.5 1)">150</text>
<line x1="235.06" y1="417.21" x2="236.60" y2="417.21" stroke="#333" stroke-width="0.4"/>
<line x1="233.80" y1="413.86" x2="236.60" y2="413.86" stroke="#222" stroke-width="0.6"/>
<text x="0" y="0" font-size="4.1" font-weight="bold" text-anchor="end" fill="#000" transform="translate(232.60 415.33) scale(1.5 1)">200</text>
<line x1="235.06" y1="410.50" x2="236.60" y2="410.50" stroke="#333" stroke-width="0.4"/>
<line x1="233.80" y1="407.14" x2="236.60" y2="407.14" stroke="#222" stroke-width="0.6"/>
<text x="0" y="0" font-size="4.1" font-weight="bold" text-anchor="end" fill="#000" transform="translate(232.60 408.62) scale(1.5 1)">250</text>
<line x1="235.06" y1="403.79" x2="236.60" y2="403.79" stroke="#333" stroke-width="0.4"/>
<line x1="233.80" y1="400.43" x2="236.60" y2="400.43" stroke="#222" stroke-width="0.6"/>
<text x="0" y="0" font-size="4.1" font-weight="bold" text-anchor="end" fill="#000" transform="translate(232.60 401.91) scale(1.5 1)">300</text>
<line x1="235.06" y1="397.08" x2="236.60" y2="397.08" stroke="#333" stroke-width="0.4"/>
<line x1="233.80" y1="393.72" x2="236.60" y2="393.72" stroke="#222" stroke-width="0.6"/>
<text x="0" y="0" font-size="4.1" font-weight="bold" text-anchor="end" fill="#000" transform="translate(232.60 395.20) scale(1.5 1)">350</text>
<line x1="235.06" y1="390.37" x2="236.60" y2="390.37" stroke="#333" stroke-width="0.4"/>
<line x1="233.80" y1="387.01" x2="236.60" y2="387.01" stroke="#222" stroke-width="0.6"/>
<text x="0" y="0" font-size="4.1" font-weight="bold" text-anchor="end" fill="#000" transform="translate(232.60 388.49) scale(1.5 1)">400</text>
<line x1="235.06" y1="383.66" x2="236.60" y2="383.66" stroke="#333" stroke-width="0.4"/>
<line x1="233.80" y1="380.30" x2="236.60" y2="380.30" stroke="#222" stroke-width="0.6"/>
<text x="0" y="0" font-size="4.1" font-weight="bold" text-anchor="end" fill="#000" transform="translate(232.60 381.78) scale(1.5 1)">450</text>
<rect x="242.10" y="440.50" width="11.50" height="13.60" fill="#000"/>
<line x1="247.85" y1="454.10" x2="247.85" y2="455.30" stroke="#555" stroke-width="0.5"/>
<rect x="264.00" y="440.50" width="11.60" height="13.60" fill="#000"/>
<line x1="269.80" y1="454.10" x2="269.80" y2="455.30" stroke="#555" stroke-width="0.5"/>
<rect x="286.30" y="430.20" width="11.50" height="23.90" fill="#000"/>
<line x1="292.05" y1="454.10" x2="292.05" y2="455.30" stroke="#555" stroke-width="0.5"/>
<line x1="292.05" y1="429.60" x2="292.05" y2="430.20" stroke="#111" stroke-width="0.7"/>
<line x1="290.45" y1="429.60" x2="293.65" y2="429.60" stroke="#111" stroke-width="0.7"/>
<rect x="308.50" y="381.60" width="11.60" height="72.50" fill="#000"/>
<line x1="314.30" y1="454.10" x2="314.30" y2="455.30" stroke="#555" stroke-width="0.5"/>
<line x1="314.30" y1="381.00" x2="314.30" y2="381.60" stroke="#111" stroke-width="0.7"/>
<line x1="312.70" y1="381.00" x2="315.90" y2="381.00" stroke="#111" stroke-width="0.7"/>
<text x="236.00" y="378.40" font-size="9.9" font-weight="bold" text-anchor="start" fill="#000">CCL4</text>
<path d="M271.70 375.00 V364.70 H312.60 V374.00" fill="none" stroke="#222" stroke-width="0.85"/>
<text x="294.00" y="364.20" font-size="6" font-weight="bold" text-anchor="middle" fill="#000">* *</text>
<path d="M248.20 422.10 V412.70 H290.70 V422.10" fill="none" stroke="#222" stroke-width="0.85"/>
<text x="268.20" y="413.00" font-size="6" font-weight="bold" text-anchor="middle" fill="#000">**</text>
<line x1="349.60" y1="380.60" x2="349.60" y2="451.90" stroke="#222" stroke-width="0.9"/>
<line x1="349.60" y1="451.90" x2="435.40" y2="451.90" stroke="#777" stroke-width="0.9"/>
<line x1="346.80" y1="451.89" x2="349.60" y2="451.89" stroke="#222" stroke-width="0.6"/>
<text x="0" y="0" font-size="4.1" font-weight="bold" text-anchor="end" fill="#000" transform="translate(345.60 453.36) scale(1.5 1)">-50</text>
<line x1="348.06" y1="447.94" x2="349.60" y2="447.94" stroke="#333" stroke-width="0.4"/>
<line x1="346.80" y1="444.00" x2="349.60" y2="444.00" stroke="#222" stroke-width="0.6"/>
<text x="0" y="0" font-size="4.1" font-weight="bold" text-anchor="end" fill="#000" transform="translate(345.60 445.48) scale(1.5 1)">0</text>
<line x1="348.06" y1="440.06" x2="349.60" y2="440.06" stroke="#333" stroke-width="0.4"/>
<line x1="346.80" y1="436.11" x2="349.60" y2="436.11" stroke="#222" stroke-width="0.6"/>
<text x="0" y="0" font-size="4.1" font-weight="bold" text-anchor="end" fill="#000" transform="translate(345.60 437.59) scale(1.5 1)">50</text>
<line x1="348.06" y1="432.17" x2="349.60" y2="432.17" stroke="#333" stroke-width="0.4"/>
<line x1="346.80" y1="428.22" x2="349.60" y2="428.22" stroke="#222" stroke-width="0.6"/>
<text x="0" y="0" font-size="4.1" font-weight="bold" text-anchor="end" fill="#000" transform="translate(345.60 429.70) scale(1.5 1)">100</text>
<line x1="348.06" y1="424.28" x2="349.60" y2="424.28" stroke="#333" stroke-width="0.4"/>
<line x1="346.80" y1="420.34" x2="349.60" y2="420.34" stroke="#222" stroke-width="0.6"/>
<text x="0" y="0" font-size="4.1" font-weight="bold" text-anchor="end" fill="#000" transform="translate(345.60 421.81) scale(1.5 1)">150</text>
<line x1="348.06" y1="416.39" x2="349.60" y2="416.39" stroke="#333" stroke-width="0.4"/>
<line x1="346.80" y1="412.45" x2="349.60" y2="412.45" stroke="#222" stroke-width="0.6"/>
<text x="0" y="0" font-size="4.1" font-weight="bold" text-anchor="end" fill="#000" transform="translate(345.60 413.93) scale(1.5 1)">200</text>
<line x1="348.06" y1="408.51" x2="349.60" y2="408.51" stroke="#333" stroke-width="0.4"/>
<line x1="346.80" y1="404.56" x2="349.60" y2="404.56" stroke="#222" stroke-width="0.6"/>
<text x="0" y="0" font-size="4.1" font-weight="bold" text-anchor="end" fill="#000" transform="translate(345.60 406.04) scale(1.5 1)">250</text>
<line x1="348.06" y1="400.62" x2="349.60" y2="400.62" stroke="#333" stroke-width="0.4"/>
<line x1="346.80" y1="396.67" x2="349.60" y2="396.67" stroke="#222" stroke-width="0.6"/>
<text x="0" y="0" font-size="4.1" font-weight="bold" text-anchor="end" fill="#000" transform="translate(345.60 398.15) scale(1.5 1)">300</text>
<line x1="348.06" y1="392.73" x2="349.60" y2="392.73" stroke="#333" stroke-width="0.4"/>
<line x1="346.80" y1="388.79" x2="349.60" y2="388.79" stroke="#222" stroke-width="0.6"/>
<text x="0" y="0" font-size="4.1" font-weight="bold" text-anchor="end" fill="#000" transform="translate(345.60 390.26) scale(1.5 1)">350</text>
<line x1="348.06" y1="384.84" x2="349.60" y2="384.84" stroke="#333" stroke-width="0.4"/>
<line x1="346.80" y1="380.90" x2="349.60" y2="380.90" stroke="#222" stroke-width="0.6"/>
<text x="0" y="0" font-size="4.1" font-weight="bold" text-anchor="end" fill="#000" transform="translate(345.60 382.38) scale(1.5 1)">400</text>
<rect x="356.10" y="443.80" width="10.30" height="8.10" fill="#000"/>
<line x1="361.25" y1="451.90" x2="361.25" y2="453.10" stroke="#555" stroke-width="0.5"/>
<rect x="377.20" y="443.80" width="10.30" height="8.10" fill="#000"/>
<line x1="382.35" y1="451.90" x2="382.35" y2="453.10" stroke="#555" stroke-width="0.5"/>
<rect x="398.40" y="442.90" width="10.30" height="9.00" fill="#000"/>
<line x1="403.55" y1="451.90" x2="403.55" y2="453.10" stroke="#555" stroke-width="0.5"/>
<rect x="419.40" y="386.60" width="10.50" height="65.30" fill="#000"/>
<line x1="424.65" y1="451.90" x2="424.65" y2="453.10" stroke="#555" stroke-width="0.5"/>
<line x1="424.65" y1="386.20" x2="424.65" y2="386.60" stroke="#111" stroke-width="0.7"/>
<line x1="423.05" y1="386.20" x2="426.25" y2="386.20" stroke="#111" stroke-width="0.7"/>
<text x="347.80" y="378.40" font-size="9.9" font-weight="bold" text-anchor="start" fill="#000">CCL5</text>
<path d="M380.20 382.70 V373.30 H424.70 V382.70" fill="none" stroke="#222" stroke-width="0.85"/>
<text x="403.20" y="372.10" font-size="6" font-weight="bold" text-anchor="middle" fill="#000">* *</text>
<line x1="450.40" y1="380.20" x2="450.40" y2="453.20" stroke="#222" stroke-width="0.9"/>
<line x1="450.40" y1="453.20" x2="535.10" y2="453.20" stroke="#777" stroke-width="0.9"/>
<line x1="447.60" y1="448.40" x2="450.40" y2="448.40" stroke="#222" stroke-width="0.6"/>
<text x="0" y="0" font-size="4.1" font-weight="bold" text-anchor="end" fill="#000" transform="translate(446.80 449.88) scale(1.15 1)">0</text>
<line x1="448.86" y1="441.61" x2="450.40" y2="441.61" stroke="#333" stroke-width="0.4"/>
<line x1="447.60" y1="434.82" x2="450.40" y2="434.82" stroke="#222" stroke-width="0.6"/>
<text x="0" y="0" font-size="4.1" font-weight="bold" text-anchor="end" fill="#000" transform="translate(446.80 436.30) scale(1.15 1)">3</text>
<line x1="448.86" y1="428.03" x2="450.40" y2="428.03" stroke="#333" stroke-width="0.4"/>
<line x1="447.60" y1="421.24" x2="450.40" y2="421.24" stroke="#222" stroke-width="0.6"/>
<text x="0" y="0" font-size="4.1" font-weight="bold" text-anchor="end" fill="#000" transform="translate(446.80 422.72) scale(1.15 1)">6</text>
<line x1="448.86" y1="414.45" x2="450.40" y2="414.45" stroke="#333" stroke-width="0.4"/>
<line x1="447.60" y1="407.66" x2="450.40" y2="407.66" stroke="#222" stroke-width="0.6"/>
<text x="0" y="0" font-size="4.1" font-weight="bold" text-anchor="end" fill="#000" transform="translate(446.80 409.14) scale(1.15 1)">9</text>
<line x1="448.86" y1="400.87" x2="450.40" y2="400.87" stroke="#333" stroke-width="0.4"/>
<line x1="447.60" y1="394.08" x2="450.40" y2="394.08" stroke="#222" stroke-width="0.6"/>
<text x="0" y="0" font-size="4.1" font-weight="bold" text-anchor="end" fill="#000" transform="translate(446.80 395.56) scale(1.15 1)">12</text>
<line x1="448.86" y1="387.29" x2="450.40" y2="387.29" stroke="#333" stroke-width="0.4"/>
<line x1="447.60" y1="380.50" x2="450.40" y2="380.50" stroke="#222" stroke-width="0.6"/>
<text x="0" y="0" font-size="4.1" font-weight="bold" text-anchor="end" fill="#000" transform="translate(446.80 381.98) scale(1.15 1)">15</text>
<rect x="455.80" y="444.00" width="10.50" height="9.20" fill="#000"/>
<line x1="461.05" y1="453.20" x2="461.05" y2="454.40" stroke="#555" stroke-width="0.5"/>
<line x1="461.05" y1="443.60" x2="461.05" y2="444.00" stroke="#111" stroke-width="0.7"/>
<line x1="459.45" y1="443.60" x2="462.65" y2="443.60" stroke="#111" stroke-width="0.7"/>
<rect x="476.60" y="444.00" width="10.80" height="9.20" fill="#000"/>
<line x1="482.00" y1="453.20" x2="482.00" y2="454.40" stroke="#555" stroke-width="0.5"/>
<line x1="482.00" y1="443.60" x2="482.00" y2="444.00" stroke="#111" stroke-width="0.7"/>
<line x1="480.40" y1="443.60" x2="483.60" y2="443.60" stroke="#111" stroke-width="0.7"/>
<rect x="497.90" y="439.20" width="10.50" height="14.00" fill="#000"/>
<line x1="503.15" y1="453.20" x2="503.15" y2="454.40" stroke="#555" stroke-width="0.5"/>
<line x1="503.15" y1="438.80" x2="503.15" y2="439.20" stroke="#111" stroke-width="0.7"/>
<line x1="501.55" y1="438.80" x2="504.75" y2="438.80" stroke="#111" stroke-width="0.7"/>
<rect x="519.10" y="389.30" width="10.50" height="63.90" fill="#000"/>
<line x1="524.35" y1="453.20" x2="524.35" y2="454.40" stroke="#555" stroke-width="0.5"/>
<line x1="524.35" y1="386.00" x2="524.35" y2="389.30" stroke="#111" stroke-width="0.7"/>
<line x1="522.75" y1="386.00" x2="525.95" y2="386.00" stroke="#111" stroke-width="0.7"/>
<text x="447.10" y="378.00" font-size="9.9" font-weight="bold" text-anchor="start" fill="#000">CCL8</text>
<path d="M481.50 382.70 V372.80 H523.70 V382.70" fill="none" stroke="#222" stroke-width="0.85"/>
<text x="502.30" y="372.10" font-size="6" font-weight="bold" text-anchor="middle" fill="#000">* *</text>
<line x1="556.20" y1="380.00" x2="556.20" y2="451.20" stroke="#222" stroke-width="0.9"/>
<line x1="556.20" y1="451.20" x2="643.80" y2="451.20" stroke="#777" stroke-width="0.9"/>
<line x1="553.40" y1="440.50" x2="556.20" y2="440.50" stroke="#222" stroke-width="0.6"/>
<text x="0" y="0" font-size="4.1" font-weight="bold" text-anchor="end" fill="#000" transform="translate(552.60 441.98) scale(1.15 1)">0</text>
<line x1="554.66" y1="432.98" x2="556.20" y2="432.98" stroke="#333" stroke-width="0.4"/>
<line x1="553.40" y1="425.45" x2="556.20" y2="425.45" stroke="#222" stroke-width="0.6"/>
<text x="0" y="0" font-size="4.1" font-weight="bold" text-anchor="end" fill="#000" transform="translate(552.60 426.93) scale(1.15 1)">15</text>
<line x1="554.66" y1="417.93" x2="556.20" y2="417.93" stroke="#333" stroke-width="0.4"/>
<line x1="553.40" y1="410.40" x2="556.20" y2="410.40" stroke="#222" stroke-width="0.6"/>
<text x="0" y="0" font-size="4.1" font-weight="bold" text-anchor="end" fill="#000" transform="translate(552.60 411.88) scale(1.15 1)">30</text>
<line x1="554.66" y1="402.88" x2="556.20" y2="402.88" stroke="#333" stroke-width="0.4"/>
<line x1="553.40" y1="395.35" x2="556.20" y2="395.35" stroke="#222" stroke-width="0.6"/>
<text x="0" y="0" font-size="4.1" font-weight="bold" text-anchor="end" fill="#000" transform="translate(552.60 396.83) scale(1.15 1)">45</text>
<line x1="554.66" y1="387.83" x2="556.20" y2="387.83" stroke="#333" stroke-width="0.4"/>
<line x1="553.40" y1="380.30" x2="556.20" y2="380.30" stroke="#222" stroke-width="0.6"/>
<text x="0" y="0" font-size="4.1" font-weight="bold" text-anchor="end" fill="#000" transform="translate(552.60 381.78) scale(1.15 1)">60</text>
<rect x="562.40" y="440.10" width="10.90" height="11.10" fill="#000"/>
<line x1="567.85" y1="451.20" x2="567.85" y2="452.40" stroke="#555" stroke-width="0.5"/>
<rect x="584.30" y="440.10" width="10.90" height="11.10" fill="#000"/>
<line x1="589.75" y1="451.20" x2="589.75" y2="452.40" stroke="#555" stroke-width="0.5"/>
<rect x="606.20" y="439.20" width="10.90" height="12.00" fill="#000"/>
<line x1="611.65" y1="451.20" x2="611.65" y2="452.40" stroke="#555" stroke-width="0.5"/>
<rect x="628.30" y="379.90" width="10.90" height="71.30" fill="#000"/>
<line x1="633.75" y1="451.20" x2="633.75" y2="452.40" stroke="#555" stroke-width="0.5"/>
<line x1="633.75" y1="376.80" x2="633.75" y2="379.90" stroke="#111" stroke-width="0.7"/>
<line x1="632.15" y1="376.80" x2="635.35" y2="376.80" stroke="#111" stroke-width="0.7"/>
<text x="549.90" y="374.00" font-size="9.9" font-weight="bold" text-anchor="start" fill="#000">CXCL1</text>
<path d="M591.50 376.10 V366.70 H634.00 V376.10" fill="none" stroke="#222" stroke-width="0.85"/>
<text x="612.70" y="366.00" font-size="6" font-weight="bold" text-anchor="middle" fill="#000">**</text>
<line x1="234.90" y1="480.50" x2="234.90" y2="555.70" stroke="#222" stroke-width="0.9"/>
<line x1="234.90" y1="555.70" x2="327.50" y2="555.70" stroke="#777" stroke-width="0.9"/>
<line x1="233.30" y1="552.90" x2="234.90" y2="552.90" stroke="#222" stroke-width="0.6"/>
<text x="0" y="0" font-size="4" font-weight="bold" text-anchor="end" fill="#000" transform="translate(233.00 554.34) scale(0.9 1)">0</text>
<line x1="234.02" y1="545.69" x2="234.90" y2="545.69" stroke="#333" stroke-width="0.4"/>
<line x1="233.30" y1="538.48" x2="234.90" y2="538.48" stroke="#222" stroke-width="0.6"/>
<text x="0" y="0" font-size="4" font-weight="bold" text-anchor="end" fill="#000" transform="translate(233.00 539.92) scale(0.9 1)">5</text>
<line x1="234.02" y1="531.27" x2="234.90" y2="531.27" stroke="#333" stroke-width="0.4"/>
<line x1="233.30" y1="524.06" x2="234.90" y2="524.06" stroke="#222" stroke-width="0.6"/>
<text x="0" y="0" font-size="4" font-weight="bold" text-anchor="end" fill="#000" transform="translate(233.00 525.50) scale(0.9 1)">10</text>
<line x1="234.02" y1="516.85" x2="234.90" y2="516.85" stroke="#333" stroke-width="0.4"/>
<line x1="233.30" y1="509.64" x2="234.90" y2="509.64" stroke="#222" stroke-width="0.6"/>
<text x="0" y="0" font-size="4" font-weight="bold" text-anchor="end" fill="#000" transform="translate(233.00 511.08) scale(0.9 1)">15</text>
<line x1="234.02" y1="502.43" x2="234.90" y2="502.43" stroke="#333" stroke-width="0.4"/>
<line x1="233.30" y1="495.22" x2="234.90" y2="495.22" stroke="#222" stroke-width="0.6"/>
<text x="0" y="0" font-size="4" font-weight="bold" text-anchor="end" fill="#000" transform="translate(233.00 496.66) scale(0.9 1)">20</text>
<line x1="234.02" y1="488.01" x2="234.90" y2="488.01" stroke="#333" stroke-width="0.4"/>
<line x1="233.30" y1="480.80" x2="234.90" y2="480.80" stroke="#222" stroke-width="0.6"/>
<text x="0" y="0" font-size="4" font-weight="bold" text-anchor="end" fill="#000" transform="translate(233.00 482.24) scale(0.9 1)">25</text>
<rect x="241.00" y="549.80" width="12.10" height="5.90" fill="#000"/>
<line x1="247.05" y1="555.70" x2="247.05" y2="556.90" stroke="#555" stroke-width="0.5"/>
<line x1="247.05" y1="549.40" x2="247.05" y2="549.80" stroke="#111" stroke-width="0.7"/>
<line x1="245.45" y1="549.40" x2="248.65" y2="549.40" stroke="#111" stroke-width="0.7"/>
<rect x="264.00" y="549.80" width="12.10" height="5.90" fill="#000"/>
<line x1="270.05" y1="555.70" x2="270.05" y2="556.90" stroke="#555" stroke-width="0.5"/>
<line x1="270.05" y1="549.40" x2="270.05" y2="549.80" stroke="#111" stroke-width="0.7"/>
<line x1="268.45" y1="549.40" x2="271.65" y2="549.40" stroke="#111" stroke-width="0.7"/>
<rect x="287.00" y="528.40" width="12.00" height="27.30" fill="#000"/>
<line x1="293.00" y1="555.70" x2="293.00" y2="556.90" stroke="#555" stroke-width="0.5"/>
<line x1="293.00" y1="522.90" x2="293.00" y2="528.40" stroke="#111" stroke-width="0.7"/>
<line x1="291.40" y1="522.90" x2="294.60" y2="522.90" stroke="#111" stroke-width="0.7"/>
<rect x="310.20" y="488.50" width="12.10" height="67.20" fill="#000"/>
<line x1="316.25" y1="555.70" x2="316.25" y2="556.90" stroke="#555" stroke-width="0.5"/>
<line x1="316.25" y1="481.90" x2="316.25" y2="488.50" stroke="#111" stroke-width="0.7"/>
<line x1="314.65" y1="481.90" x2="317.85" y2="481.90" stroke="#111" stroke-width="0.7"/>
<text x="236.60" y="477.00" font-size="9.9" font-weight="bold" text-anchor="start" fill="#000">IFIT1</text>
<path d="M273.20 479.10 V468.60 H316.60 V477.00" fill="none" stroke="#222" stroke-width="0.85"/>
<text x="294.00" y="467.90" font-size="6" font-weight="bold" text-anchor="middle" fill="#000">* *</text>
<path d="M247.40 517.40 V507.10 H292.50 V517.40" fill="none" stroke="#222" stroke-width="0.85"/>
<text x="266.60" y="507.30" font-size="6" font-weight="bold" text-anchor="middle" fill="#000">*</text>
<line x1="349.10" y1="481.40" x2="349.10" y2="556.20" stroke="#222" stroke-width="0.9"/>
<line x1="349.10" y1="556.20" x2="438.20" y2="556.20" stroke="#777" stroke-width="0.9"/>
<line x1="347.50" y1="547.80" x2="349.10" y2="547.80" stroke="#222" stroke-width="0.6"/>
<text x="0" y="0" font-size="4" font-weight="bold" text-anchor="end" fill="#000" transform="translate(347.20 549.24) scale(0.9 1)">0</text>
<line x1="348.22" y1="539.54" x2="349.10" y2="539.54" stroke="#333" stroke-width="0.4"/>
<line x1="347.50" y1="531.27" x2="349.10" y2="531.27" stroke="#222" stroke-width="0.6"/>
<text x="0" y="0" font-size="4" font-weight="bold" text-anchor="end" fill="#000" transform="translate(347.20 532.72) scale(0.9 1)">10</text>
<line x1="348.22" y1="523.01" x2="349.10" y2="523.01" stroke="#333" stroke-width="0.4"/>
<line x1="347.50" y1="514.75" x2="349.10" y2="514.75" stroke="#222" stroke-width="0.6"/>
<text x="0" y="0" font-size="4" font-weight="bold" text-anchor="end" fill="#000" transform="translate(347.20 516.19) scale(0.9 1)">20</text>
<line x1="348.22" y1="506.49" x2="349.10" y2="506.49" stroke="#333" stroke-width="0.4"/>
<line x1="347.50" y1="498.22" x2="349.10" y2="498.22" stroke="#222" stroke-width="0.6"/>
<text x="0" y="0" font-size="4" font-weight="bold" text-anchor="end" fill="#000" transform="translate(347.20 499.66) scale(0.9 1)">30</text>
<line x1="348.22" y1="489.96" x2="349.10" y2="489.96" stroke="#333" stroke-width="0.4"/>
<line x1="347.50" y1="481.70" x2="349.10" y2="481.70" stroke="#222" stroke-width="0.6"/>
<text x="0" y="0" font-size="4" font-weight="bold" text-anchor="end" fill="#000" transform="translate(347.20 483.14) scale(0.9 1)">40</text>
<rect x="354.60" y="546.30" width="10.90" height="9.90" fill="#000"/>
<line x1="360.05" y1="556.20" x2="360.05" y2="557.40" stroke="#555" stroke-width="0.5"/>
<rect x="376.90" y="546.30" width="11.00" height="9.90" fill="#000"/>
<line x1="382.40" y1="556.20" x2="382.40" y2="557.40" stroke="#555" stroke-width="0.5"/>
<rect x="399.30" y="527.70" width="10.90" height="28.50" fill="#000"/>
<line x1="404.75" y1="556.20" x2="404.75" y2="557.40" stroke="#555" stroke-width="0.5"/>
<line x1="404.75" y1="523.50" x2="404.75" y2="527.70" stroke="#111" stroke-width="0.7"/>
<line x1="403.15" y1="523.50" x2="406.35" y2="523.50" stroke="#111" stroke-width="0.7"/>
<rect x="421.60" y="489.60" width="10.90" height="66.60" fill="#000"/>
<line x1="427.05" y1="556.20" x2="427.05" y2="557.40" stroke="#555" stroke-width="0.5"/>
<line x1="427.05" y1="483.00" x2="427.05" y2="489.60" stroke="#111" stroke-width="0.7"/>
<line x1="425.45" y1="483.00" x2="428.65" y2="483.00" stroke="#111" stroke-width="0.7"/>
<text x="348.00" y="477.00" font-size="9.9" font-weight="bold" text-anchor="start" fill="#000">IFIT2</text>
<path d="M382.40 478.60 V469.20 H424.20 V478.60" fill="none" stroke="#222" stroke-width="0.85"/>
<text x="403.20" y="468.30" font-size="6" font-weight="bold" text-anchor="middle" fill="#000">* *</text>
<path d="M357.70 518.50 V507.60 H402.80 V518.50" fill="none" stroke="#222" stroke-width="0.85"/>
<text x="377.60" y="507.70" font-size="6" font-weight="bold" text-anchor="middle" fill="#000">*</text>
<line x1="450.40" y1="488.20" x2="450.40" y2="557.00" stroke="#222" stroke-width="0.9"/>
<line x1="450.40" y1="557.00" x2="538.80" y2="557.00" stroke="#777" stroke-width="0.9"/>
<line x1="448.80" y1="557.00" x2="450.40" y2="557.00" stroke="#222" stroke-width="0.6"/>
<text x="0" y="0" font-size="4" font-weight="bold" text-anchor="end" fill="#000" transform="translate(448.50 558.44) scale(0.9 1)">0</text>
<line x1="449.52" y1="545.58" x2="450.40" y2="545.58" stroke="#333" stroke-width="0.4"/>
<line x1="448.80" y1="534.17" x2="450.40" y2="534.17" stroke="#222" stroke-width="0.6"/>
<text x="0" y="0" font-size="4" font-weight="bold" text-anchor="end" fill="#000" transform="translate(448.50 535.61) scale(0.9 1)">3</text>
<line x1="449.52" y1="522.75" x2="450.40" y2="522.75" stroke="#333" stroke-width="0.4"/>
<line x1="448.80" y1="511.33" x2="450.40" y2="511.33" stroke="#222" stroke-width="0.6"/>
<text x="0" y="0" font-size="4" font-weight="bold" text-anchor="end" fill="#000" transform="translate(448.50 512.77) scale(0.9 1)">6</text>
<line x1="449.52" y1="499.92" x2="450.40" y2="499.92" stroke="#333" stroke-width="0.4"/>
<line x1="448.80" y1="488.50" x2="450.40" y2="488.50" stroke="#222" stroke-width="0.6"/>
<text x="0" y="0" font-size="4" font-weight="bold" text-anchor="end" fill="#000" transform="translate(448.50 489.94) scale(0.9 1)">9</text>
<rect x="455.80" y="549.60" width="11.00" height="7.40" fill="#000"/>
<line x1="461.30" y1="557.00" x2="461.30" y2="558.20" stroke="#555" stroke-width="0.5"/>
<line x1="461.30" y1="549.20" x2="461.30" y2="549.60" stroke="#111" stroke-width="0.7"/>
<line x1="459.70" y1="549.20" x2="462.90" y2="549.20" stroke="#111" stroke-width="0.7"/>
<rect x="478.20" y="549.60" width="10.90" height="7.40" fill="#000"/>
<line x1="483.65" y1="557.00" x2="483.65" y2="558.20" stroke="#555" stroke-width="0.5"/>
<line x1="483.65" y1="549.20" x2="483.65" y2="549.60" stroke="#111" stroke-width="0.7"/>
<line x1="482.05" y1="549.20" x2="485.25" y2="549.20" stroke="#111" stroke-width="0.7"/>
<rect x="500.30" y="534.30" width="11.20" height="22.70" fill="#000"/>
<line x1="505.90" y1="557.00" x2="505.90" y2="558.20" stroke="#555" stroke-width="0.5"/>
<line x1="505.90" y1="529.40" x2="505.90" y2="534.30" stroke="#111" stroke-width="0.7"/>
<line x1="504.30" y1="529.40" x2="507.50" y2="529.40" stroke="#111" stroke-width="0.7"/>
<rect x="522.60" y="504.30" width="11.00" height="52.70" fill="#000"/>
<line x1="528.10" y1="557.00" x2="528.10" y2="558.20" stroke="#555" stroke-width="0.5"/>
<line x1="528.10" y1="496.60" x2="528.10" y2="504.30" stroke="#111" stroke-width="0.7"/>
<line x1="526.50" y1="496.60" x2="529.70" y2="496.60" stroke="#111" stroke-width="0.7"/>
<text x="451.20" y="477.00" font-size="9.9" font-weight="bold" text-anchor="start" fill="#000">IFIT3</text>
<path d="M484.10 492.20 V481.70 H527.90 V492.20" fill="none" stroke="#222" stroke-width="0.85"/>
<text x="508.40" y="481.00" font-size="6" font-weight="bold" text-anchor="middle" fill="#000">* *</text>
<path d="M459.10 526.20 V516.30 H506.00 V526.20" fill="none" stroke="#222" stroke-width="0.85"/>
<text x="480.80" y="516.00" font-size="6" font-weight="bold" text-anchor="middle" fill="#000">*</text>
<line x1="558.00" y1="489.30" x2="558.00" y2="556.20" stroke="#222" stroke-width="0.9"/>
<line x1="558.00" y1="556.20" x2="643.80" y2="556.20" stroke="#777" stroke-width="0.9"/>
<line x1="556.00" y1="556.20" x2="558.00" y2="556.20" stroke="#222" stroke-width="0.6"/>
<text x="0" y="0" font-size="4.3" font-weight="bold" text-anchor="end" fill="#000" transform="translate(553.50 557.75) scale(1 1)">0</text>
<line x1="556.90" y1="547.88" x2="558.00" y2="547.88" stroke="#333" stroke-width="0.4"/>
<line x1="556.00" y1="539.55" x2="558.00" y2="539.55" stroke="#222" stroke-width="0.6"/>
<text x="0" y="0" font-size="4.3" font-weight="bold" text-anchor="end" fill="#000" transform="translate(553.50 541.10) scale(1 1)">2</text>
<line x1="556.90" y1="531.23" x2="558.00" y2="531.23" stroke="#333" stroke-width="0.4"/>
<line x1="556.00" y1="522.90" x2="558.00" y2="522.90" stroke="#222" stroke-width="0.6"/>
<text x="0" y="0" font-size="4.3" font-weight="bold" text-anchor="end" fill="#000" transform="translate(553.50 524.45) scale(1 1)">4</text>
<line x1="556.90" y1="514.58" x2="558.00" y2="514.58" stroke="#333" stroke-width="0.4"/>
<line x1="556.00" y1="506.25" x2="558.00" y2="506.25" stroke="#222" stroke-width="0.6"/>
<text x="0" y="0" font-size="4.3" font-weight="bold" text-anchor="end" fill="#000" transform="translate(553.50 507.80) scale(1 1)">6</text>
<line x1="556.90" y1="497.93" x2="558.00" y2="497.93" stroke="#333" stroke-width="0.4"/>
<line x1="556.00" y1="489.60" x2="558.00" y2="489.60" stroke="#222" stroke-width="0.6"/>
<text x="0" y="0" font-size="4.3" font-weight="bold" text-anchor="end" fill="#000" transform="translate(553.50 491.15) scale(1 1)">8</text>
<rect x="563.70" y="547.80" width="10.90" height="8.40" fill="#000"/>
<line x1="569.15" y1="556.20" x2="569.15" y2="557.40" stroke="#555" stroke-width="0.5"/>
<line x1="569.15" y1="547.40" x2="569.15" y2="547.80" stroke="#111" stroke-width="0.7"/>
<line x1="567.55" y1="547.40" x2="570.75" y2="547.40" stroke="#111" stroke-width="0.7"/>
<rect x="584.90" y="547.80" width="11.00" height="8.40" fill="#000"/>
<line x1="590.40" y1="556.20" x2="590.40" y2="557.40" stroke="#555" stroke-width="0.5"/>
<line x1="590.40" y1="547.40" x2="590.40" y2="547.80" stroke="#111" stroke-width="0.7"/>
<line x1="588.80" y1="547.40" x2="592.00" y2="547.40" stroke="#111" stroke-width="0.7"/>
<rect x="606.20" y="545.20" width="10.90" height="11.00" fill="#000"/>
<line x1="611.65" y1="556.20" x2="611.65" y2="557.40" stroke="#555" stroke-width="0.5"/>
<line x1="611.65" y1="544.60" x2="611.65" y2="545.20" stroke="#111" stroke-width="0.7"/>
<line x1="610.05" y1="544.60" x2="613.25" y2="544.60" stroke="#111" stroke-width="0.7"/>
<rect x="627.60" y="488.10" width="10.80" height="68.10" fill="#000"/>
<line x1="633.00" y1="556.20" x2="633.00" y2="557.40" stroke="#555" stroke-width="0.5"/>
<line x1="633.00" y1="487.50" x2="633.00" y2="488.10" stroke="#111" stroke-width="0.7"/>
<line x1="631.40" y1="487.50" x2="634.60" y2="487.50" stroke="#111" stroke-width="0.7"/>
<text x="558.70" y="481.80" font-size="9.9" font-weight="bold" text-anchor="start" fill="#000">IFNB1</text>
<path d="M590.80 483.50 V473.60 H633.10 V483.50" fill="none" stroke="#222" stroke-width="0.85"/>
<text x="614.30" y="472.90" font-size="6" font-weight="bold" text-anchor="middle" fill="#000">*</text>
<text x="249.20" y="561.60" font-size="7" font-weight="bold" text-anchor="end" fill="#000" transform="rotate(-45 249.20 561.60)">Con_BV2</text>
<text x="268.50" y="561.60" font-size="7" font-weight="bold" text-anchor="end" fill="#000" transform="rotate(-45 268.50 561.60)">Con_PM</text>
<text x="295.70" y="561.60" font-size="7" font-weight="bold" text-anchor="end" fill="#000" transform="rotate(-45 295.70 561.60)">LPS 4 h_BV2</text>
<text x="320.20" y="561.60" font-size="7" font-weight="bold" text-anchor="end" fill="#000" transform="rotate(-45 320.20 561.60)">LPS 4 h_PM</text>
<text x="362.20" y="561.60" font-size="7" font-weight="bold" text-anchor="end" fill="#000" transform="rotate(-45 362.20 561.60)">Con_BV2</text>
<text x="380.90" y="561.60" font-size="7" font-weight="bold" text-anchor="end" fill="#000" transform="rotate(-45 380.90 561.60)">Con_PM</text>
<text x="407.40" y="561.60" font-size="7" font-weight="bold" text-anchor="end" fill="#000" transform="rotate(-45 407.40 561.60)">LPS 4 h_BV2</text>
<text x="431.00" y="561.60" font-size="7" font-weight="bold" text-anchor="end" fill="#000" transform="rotate(-45 431.00 561.60)">LPS 4 h_PM</text>
<text x="460.90" y="563.90" font-size="7" font-weight="bold" text-anchor="end" fill="#000" transform="rotate(-45 460.90 563.90)">Con_BV2</text>
<text x="484.10" y="563.40" font-size="7" font-weight="bold" text-anchor="end" fill="#000" transform="rotate(-45 484.10 563.40)">Con_PM</text>
<text x="508.10" y="563.60" font-size="7" font-weight="bold" text-anchor="end" fill="#000" transform="rotate(-45 508.10 563.60)">LPS 4 h_BV2</text>
<text x="531.60" y="560.10" font-size="7" font-weight="bold" text-anchor="end" fill="#000" transform="rotate(-45 531.60 560.10)">LPS 4 h_PM</text>
<text x="571.30" y="561.60" font-size="7" font-weight="bold" text-anchor="end" fill="#000" transform="rotate(-45 571.30 561.60)">Con_BV2</text>
<text x="588.90" y="561.60" font-size="7" font-weight="bold" text-anchor="end" fill="#000" transform="rotate(-45 588.90 561.60)">Con_PM</text>
<text x="614.30" y="561.60" font-size="7" font-weight="bold" text-anchor="end" fill="#000" transform="rotate(-45 614.30 561.60)">LPS 4 h_BV2</text>
<text x="637.00" y="561.60" font-size="7" font-weight="bold" text-anchor="end" fill="#000" transform="rotate(-45 637.00 561.60)">LPS 4 h_PM</text>
</svg>
</body></html>
